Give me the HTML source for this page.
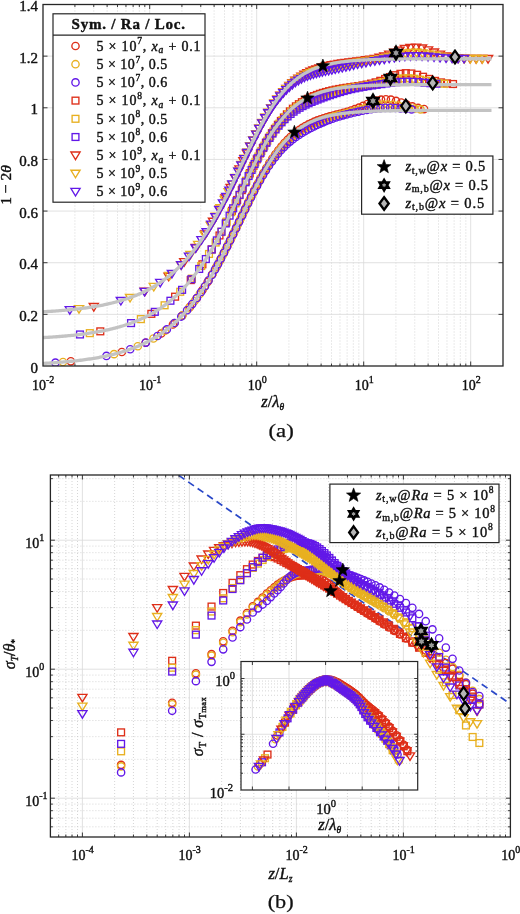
<!DOCTYPE html>
<html><head><meta charset="utf-8"><title>figure</title><style>html,body{margin:0;padding:0;background:#fff;}svg{display:block;}</style></head><body>
<svg width="520" height="914" viewBox="0 0 520 914" font-family="Liberation Serif, serif">
<style>text{fill:#111;stroke:#111;stroke-width:0.4px;}</style>
<defs><clipPath id="ca"><rect x="43" y="4.5" width="460" height="361.5"/></clipPath><clipPath id="cb"><rect x="50.4" y="475" width="460" height="362"/></clipPath><clipPath id="ci"><rect x="241" y="661.5" width="176.7" height="128.5"/></clipPath></defs>
<rect x="0" y="0" width="520" height="914" fill="#ffffff"/>
<line x1="74.91" y1="4.5" x2="74.91" y2="366" stroke="#c4c4c4" stroke-width="0.7" stroke-dasharray="1 2"/>
<line x1="93.75" y1="4.5" x2="93.75" y2="366" stroke="#c4c4c4" stroke-width="0.7" stroke-dasharray="1 2"/>
<line x1="107.12" y1="4.5" x2="107.12" y2="366" stroke="#c4c4c4" stroke-width="0.7" stroke-dasharray="1 2"/>
<line x1="117.49" y1="4.5" x2="117.49" y2="366" stroke="#c4c4c4" stroke-width="0.7" stroke-dasharray="1 2"/>
<line x1="125.96" y1="4.5" x2="125.96" y2="366" stroke="#c4c4c4" stroke-width="0.7" stroke-dasharray="1 2"/>
<line x1="133.13" y1="4.5" x2="133.13" y2="366" stroke="#c4c4c4" stroke-width="0.7" stroke-dasharray="1 2"/>
<line x1="139.33" y1="4.5" x2="139.33" y2="366" stroke="#c4c4c4" stroke-width="0.7" stroke-dasharray="1 2"/>
<line x1="144.8" y1="4.5" x2="144.8" y2="366" stroke="#c4c4c4" stroke-width="0.7" stroke-dasharray="1 2"/>
<line x1="149.7" y1="4.5" x2="149.7" y2="366" stroke="#d9d9d9" stroke-width="0.8" />
<line x1="181.91" y1="4.5" x2="181.91" y2="366" stroke="#c4c4c4" stroke-width="0.7" stroke-dasharray="1 2"/>
<line x1="200.75" y1="4.5" x2="200.75" y2="366" stroke="#c4c4c4" stroke-width="0.7" stroke-dasharray="1 2"/>
<line x1="214.12" y1="4.5" x2="214.12" y2="366" stroke="#c4c4c4" stroke-width="0.7" stroke-dasharray="1 2"/>
<line x1="224.49" y1="4.5" x2="224.49" y2="366" stroke="#c4c4c4" stroke-width="0.7" stroke-dasharray="1 2"/>
<line x1="232.96" y1="4.5" x2="232.96" y2="366" stroke="#c4c4c4" stroke-width="0.7" stroke-dasharray="1 2"/>
<line x1="240.13" y1="4.5" x2="240.13" y2="366" stroke="#c4c4c4" stroke-width="0.7" stroke-dasharray="1 2"/>
<line x1="246.33" y1="4.5" x2="246.33" y2="366" stroke="#c4c4c4" stroke-width="0.7" stroke-dasharray="1 2"/>
<line x1="251.8" y1="4.5" x2="251.8" y2="366" stroke="#c4c4c4" stroke-width="0.7" stroke-dasharray="1 2"/>
<line x1="256.7" y1="4.5" x2="256.7" y2="366" stroke="#d9d9d9" stroke-width="0.8" />
<line x1="288.91" y1="4.5" x2="288.91" y2="366" stroke="#c4c4c4" stroke-width="0.7" stroke-dasharray="1 2"/>
<line x1="307.75" y1="4.5" x2="307.75" y2="366" stroke="#c4c4c4" stroke-width="0.7" stroke-dasharray="1 2"/>
<line x1="321.12" y1="4.5" x2="321.12" y2="366" stroke="#c4c4c4" stroke-width="0.7" stroke-dasharray="1 2"/>
<line x1="331.49" y1="4.5" x2="331.49" y2="366" stroke="#c4c4c4" stroke-width="0.7" stroke-dasharray="1 2"/>
<line x1="339.96" y1="4.5" x2="339.96" y2="366" stroke="#c4c4c4" stroke-width="0.7" stroke-dasharray="1 2"/>
<line x1="347.13" y1="4.5" x2="347.13" y2="366" stroke="#c4c4c4" stroke-width="0.7" stroke-dasharray="1 2"/>
<line x1="353.33" y1="4.5" x2="353.33" y2="366" stroke="#c4c4c4" stroke-width="0.7" stroke-dasharray="1 2"/>
<line x1="358.8" y1="4.5" x2="358.8" y2="366" stroke="#c4c4c4" stroke-width="0.7" stroke-dasharray="1 2"/>
<line x1="363.7" y1="4.5" x2="363.7" y2="366" stroke="#d9d9d9" stroke-width="0.8" />
<line x1="395.91" y1="4.5" x2="395.91" y2="366" stroke="#c4c4c4" stroke-width="0.7" stroke-dasharray="1 2"/>
<line x1="414.75" y1="4.5" x2="414.75" y2="366" stroke="#c4c4c4" stroke-width="0.7" stroke-dasharray="1 2"/>
<line x1="428.12" y1="4.5" x2="428.12" y2="366" stroke="#c4c4c4" stroke-width="0.7" stroke-dasharray="1 2"/>
<line x1="438.49" y1="4.5" x2="438.49" y2="366" stroke="#c4c4c4" stroke-width="0.7" stroke-dasharray="1 2"/>
<line x1="446.96" y1="4.5" x2="446.96" y2="366" stroke="#c4c4c4" stroke-width="0.7" stroke-dasharray="1 2"/>
<line x1="454.13" y1="4.5" x2="454.13" y2="366" stroke="#c4c4c4" stroke-width="0.7" stroke-dasharray="1 2"/>
<line x1="460.33" y1="4.5" x2="460.33" y2="366" stroke="#c4c4c4" stroke-width="0.7" stroke-dasharray="1 2"/>
<line x1="465.8" y1="4.5" x2="465.8" y2="366" stroke="#c4c4c4" stroke-width="0.7" stroke-dasharray="1 2"/>
<line x1="470.7" y1="4.5" x2="470.7" y2="366" stroke="#d9d9d9" stroke-width="0.8" />
<line x1="43" y1="314.36" x2="503" y2="314.36" stroke="#d9d9d9" stroke-width="0.8" />
<line x1="43" y1="262.71" x2="503" y2="262.71" stroke="#d9d9d9" stroke-width="0.8" />
<line x1="43" y1="211.07" x2="503" y2="211.07" stroke="#d9d9d9" stroke-width="0.8" />
<line x1="43" y1="159.43" x2="503" y2="159.43" stroke="#d9d9d9" stroke-width="0.8" />
<line x1="43" y1="107.79" x2="503" y2="107.79" stroke="#d9d9d9" stroke-width="0.8" />
<line x1="43" y1="56.14" x2="503" y2="56.14" stroke="#d9d9d9" stroke-width="0.8" />
<g clip-path="url(#ca)"><circle cx="70.8" cy="361.32" r="3.65" fill="none" stroke="#DE2E18" stroke-width="1.35"/>
<circle cx="121.85" cy="351.98" r="3.65" fill="none" stroke="#DE2E18" stroke-width="1.35"/>
<circle cx="145.59" cy="342.7" r="3.65" fill="none" stroke="#DE2E18" stroke-width="1.35"/>
<circle cx="161.23" cy="333.51" r="3.65" fill="none" stroke="#DE2E18" stroke-width="1.35"/>
<circle cx="172.9" cy="324.44" r="3.65" fill="none" stroke="#DE2E18" stroke-width="1.35"/>
<circle cx="182.23" cy="315.53" r="3.65" fill="none" stroke="#DE2E18" stroke-width="1.35"/>
<circle cx="189.99" cy="306.82" r="3.65" fill="none" stroke="#DE2E18" stroke-width="1.35"/>
<circle cx="196.64" cy="298.31" r="3.65" fill="none" stroke="#DE2E18" stroke-width="1.35"/>
<circle cx="202.46" cy="290.04" r="3.65" fill="none" stroke="#DE2E18" stroke-width="1.35"/>
<circle cx="207.63" cy="282.02" r="3.65" fill="none" stroke="#DE2E18" stroke-width="1.35"/>
<circle cx="212.28" cy="274.27" r="3.65" fill="none" stroke="#DE2E18" stroke-width="1.35"/>
<circle cx="216.5" cy="266.8" r="3.65" fill="none" stroke="#DE2E18" stroke-width="1.35"/>
<circle cx="220.38" cy="259.62" r="3.65" fill="none" stroke="#DE2E18" stroke-width="1.35"/>
<circle cx="223.96" cy="252.74" r="3.65" fill="none" stroke="#DE2E18" stroke-width="1.35"/>
<circle cx="227.28" cy="246.15" r="3.65" fill="none" stroke="#DE2E18" stroke-width="1.35"/>
<circle cx="230.38" cy="239.85" r="3.65" fill="none" stroke="#DE2E18" stroke-width="1.35"/>
<circle cx="233.38" cy="233.65" r="3.65" fill="none" stroke="#DE2E18" stroke-width="1.35"/>
<circle cx="236.38" cy="227.37" r="3.65" fill="none" stroke="#DE2E18" stroke-width="1.35"/>
<circle cx="239.38" cy="221.05" r="3.65" fill="none" stroke="#DE2E18" stroke-width="1.35"/>
<circle cx="242.38" cy="214.72" r="3.65" fill="none" stroke="#DE2E18" stroke-width="1.35"/>
<circle cx="245.38" cy="208.42" r="3.65" fill="none" stroke="#DE2E18" stroke-width="1.35"/>
<circle cx="248.38" cy="202.17" r="3.65" fill="none" stroke="#DE2E18" stroke-width="1.35"/>
<circle cx="251.38" cy="196.03" r="3.65" fill="none" stroke="#DE2E18" stroke-width="1.35"/>
<circle cx="254.38" cy="190.03" r="3.65" fill="none" stroke="#DE2E18" stroke-width="1.35"/>
<circle cx="257.38" cy="184.19" r="3.65" fill="none" stroke="#DE2E18" stroke-width="1.35"/>
<circle cx="260.38" cy="178.56" r="3.65" fill="none" stroke="#DE2E18" stroke-width="1.35"/>
<circle cx="263.38" cy="173.15" r="3.65" fill="none" stroke="#DE2E18" stroke-width="1.35"/>
<circle cx="266.38" cy="168" r="3.65" fill="none" stroke="#DE2E18" stroke-width="1.35"/>
<circle cx="269.38" cy="163.13" r="3.65" fill="none" stroke="#DE2E18" stroke-width="1.35"/>
<circle cx="272.38" cy="158.53" r="3.65" fill="none" stroke="#DE2E18" stroke-width="1.35"/>
<circle cx="275.38" cy="154.23" r="3.65" fill="none" stroke="#DE2E18" stroke-width="1.35"/>
<circle cx="278.38" cy="150.22" r="3.65" fill="none" stroke="#DE2E18" stroke-width="1.35"/>
<circle cx="281.38" cy="146.51" r="3.65" fill="none" stroke="#DE2E18" stroke-width="1.35"/>
<circle cx="284.38" cy="143.09" r="3.65" fill="none" stroke="#DE2E18" stroke-width="1.35"/>
<circle cx="287.38" cy="139.94" r="3.65" fill="none" stroke="#DE2E18" stroke-width="1.35"/>
<circle cx="290.38" cy="137.06" r="3.65" fill="none" stroke="#DE2E18" stroke-width="1.35"/>
<circle cx="293.38" cy="134.43" r="3.65" fill="none" stroke="#DE2E18" stroke-width="1.35"/>
<circle cx="296.38" cy="132.03" r="3.65" fill="none" stroke="#DE2E18" stroke-width="1.35"/>
<circle cx="299.38" cy="129.85" r="3.65" fill="none" stroke="#DE2E18" stroke-width="1.35"/>
<circle cx="302.38" cy="127.87" r="3.65" fill="none" stroke="#DE2E18" stroke-width="1.35"/>
<circle cx="305.38" cy="126.07" r="3.65" fill="none" stroke="#DE2E18" stroke-width="1.35"/>
<circle cx="308.38" cy="124.44" r="3.65" fill="none" stroke="#DE2E18" stroke-width="1.35"/>
<circle cx="311.38" cy="122.96" r="3.65" fill="none" stroke="#DE2E18" stroke-width="1.35"/>
<circle cx="314.38" cy="121.62" r="3.65" fill="none" stroke="#DE2E18" stroke-width="1.35"/>
<circle cx="317.38" cy="120.4" r="3.65" fill="none" stroke="#DE2E18" stroke-width="1.35"/>
<circle cx="320.38" cy="119.29" r="3.65" fill="none" stroke="#DE2E18" stroke-width="1.35"/>
<circle cx="323.39" cy="118.27" r="3.65" fill="none" stroke="#DE2E18" stroke-width="1.35"/>
<circle cx="326.49" cy="117.31" r="3.65" fill="none" stroke="#DE2E18" stroke-width="1.35"/>
<circle cx="329.68" cy="116.39" r="3.65" fill="none" stroke="#DE2E18" stroke-width="1.35"/>
<circle cx="332.97" cy="115.51" r="3.65" fill="none" stroke="#DE2E18" stroke-width="1.35"/>
<circle cx="336.36" cy="114.63" r="3.65" fill="none" stroke="#DE2E18" stroke-width="1.35"/>
<circle cx="339.85" cy="113.74" r="3.65" fill="none" stroke="#DE2E18" stroke-width="1.35"/>
<circle cx="343.45" cy="112.79" r="3.65" fill="none" stroke="#DE2E18" stroke-width="1.35"/>
<circle cx="347.15" cy="111.74" r="3.65" fill="none" stroke="#DE2E18" stroke-width="1.35"/>
<circle cx="350.97" cy="110.55" r="3.65" fill="none" stroke="#DE2E18" stroke-width="1.35"/>
<circle cx="354.9" cy="109.18" r="3.65" fill="none" stroke="#DE2E18" stroke-width="1.35"/>
<circle cx="358.94" cy="107.62" r="3.65" fill="none" stroke="#DE2E18" stroke-width="1.35"/>
<circle cx="363.11" cy="105.87" r="3.65" fill="none" stroke="#DE2E18" stroke-width="1.35"/>
<circle cx="367.41" cy="104.03" r="3.65" fill="none" stroke="#DE2E18" stroke-width="1.35"/>
<circle cx="371.83" cy="102.23" r="3.65" fill="none" stroke="#DE2E18" stroke-width="1.35"/>
<circle cx="376.38" cy="100.69" r="3.65" fill="none" stroke="#DE2E18" stroke-width="1.35"/>
<circle cx="381.07" cy="99.63" r="3.65" fill="none" stroke="#DE2E18" stroke-width="1.35"/>
<circle cx="385.91" cy="99.26" r="3.65" fill="none" stroke="#DE2E18" stroke-width="1.35"/>
<circle cx="390.88" cy="99.68" r="3.65" fill="none" stroke="#DE2E18" stroke-width="1.35"/>
<circle cx="396.01" cy="100.85" r="3.65" fill="none" stroke="#DE2E18" stroke-width="1.35"/>
<circle cx="401.29" cy="102.57" r="3.65" fill="none" stroke="#DE2E18" stroke-width="1.35"/>
<circle cx="406.73" cy="104.53" r="3.65" fill="none" stroke="#DE2E18" stroke-width="1.35"/>
<circle cx="412.33" cy="106.4" r="3.65" fill="none" stroke="#DE2E18" stroke-width="1.35"/>
<circle cx="418.1" cy="107.95" r="3.65" fill="none" stroke="#DE2E18" stroke-width="1.35"/>
<circle cx="424.04" cy="109.07" r="3.65" fill="none" stroke="#DE2E18" stroke-width="1.35"/>
<circle cx="63" cy="362.04" r="3.65" fill="none" stroke="#E8B020" stroke-width="1.35"/>
<circle cx="114.05" cy="354.14" r="3.65" fill="none" stroke="#E8B020" stroke-width="1.35"/>
<circle cx="137.79" cy="346.28" r="3.65" fill="none" stroke="#E8B020" stroke-width="1.35"/>
<circle cx="153.43" cy="338.46" r="3.65" fill="none" stroke="#E8B020" stroke-width="1.35"/>
<circle cx="165.1" cy="330.73" r="3.65" fill="none" stroke="#E8B020" stroke-width="1.35"/>
<circle cx="174.43" cy="323.09" r="3.65" fill="none" stroke="#E8B020" stroke-width="1.35"/>
<circle cx="182.19" cy="315.57" r="3.65" fill="none" stroke="#E8B020" stroke-width="1.35"/>
<circle cx="188.84" cy="308.19" r="3.65" fill="none" stroke="#E8B020" stroke-width="1.35"/>
<circle cx="194.66" cy="300.95" r="3.65" fill="none" stroke="#E8B020" stroke-width="1.35"/>
<circle cx="199.83" cy="293.88" r="3.65" fill="none" stroke="#E8B020" stroke-width="1.35"/>
<circle cx="204.48" cy="286.98" r="3.65" fill="none" stroke="#E8B020" stroke-width="1.35"/>
<circle cx="208.7" cy="280.27" r="3.65" fill="none" stroke="#E8B020" stroke-width="1.35"/>
<circle cx="212.58" cy="273.76" r="3.65" fill="none" stroke="#E8B020" stroke-width="1.35"/>
<circle cx="216.16" cy="267.44" r="3.65" fill="none" stroke="#E8B020" stroke-width="1.35"/>
<circle cx="219.48" cy="261.34" r="3.65" fill="none" stroke="#E8B020" stroke-width="1.35"/>
<circle cx="222.58" cy="255.44" r="3.65" fill="none" stroke="#E8B020" stroke-width="1.35"/>
<circle cx="225.58" cy="249.57" r="3.65" fill="none" stroke="#E8B020" stroke-width="1.35"/>
<circle cx="228.58" cy="243.56" r="3.65" fill="none" stroke="#E8B020" stroke-width="1.35"/>
<circle cx="231.58" cy="237.43" r="3.65" fill="none" stroke="#E8B020" stroke-width="1.35"/>
<circle cx="234.58" cy="231.21" r="3.65" fill="none" stroke="#E8B020" stroke-width="1.35"/>
<circle cx="237.58" cy="224.93" r="3.65" fill="none" stroke="#E8B020" stroke-width="1.35"/>
<circle cx="240.58" cy="218.63" r="3.65" fill="none" stroke="#E8B020" stroke-width="1.35"/>
<circle cx="243.58" cy="212.34" r="3.65" fill="none" stroke="#E8B020" stroke-width="1.35"/>
<circle cx="246.58" cy="206.09" r="3.65" fill="none" stroke="#E8B020" stroke-width="1.35"/>
<circle cx="249.58" cy="199.94" r="3.65" fill="none" stroke="#E8B020" stroke-width="1.35"/>
<circle cx="252.58" cy="193.9" r="3.65" fill="none" stroke="#E8B020" stroke-width="1.35"/>
<circle cx="255.58" cy="188.03" r="3.65" fill="none" stroke="#E8B020" stroke-width="1.35"/>
<circle cx="258.58" cy="182.36" r="3.65" fill="none" stroke="#E8B020" stroke-width="1.35"/>
<circle cx="261.58" cy="176.91" r="3.65" fill="none" stroke="#E8B020" stroke-width="1.35"/>
<circle cx="264.58" cy="171.71" r="3.65" fill="none" stroke="#E8B020" stroke-width="1.35"/>
<circle cx="267.58" cy="166.79" r="3.65" fill="none" stroke="#E8B020" stroke-width="1.35"/>
<circle cx="270.58" cy="162.15" r="3.65" fill="none" stroke="#E8B020" stroke-width="1.35"/>
<circle cx="273.58" cy="157.8" r="3.65" fill="none" stroke="#E8B020" stroke-width="1.35"/>
<circle cx="276.58" cy="153.76" r="3.65" fill="none" stroke="#E8B020" stroke-width="1.35"/>
<circle cx="279.58" cy="150.01" r="3.65" fill="none" stroke="#E8B020" stroke-width="1.35"/>
<circle cx="282.58" cy="146.56" r="3.65" fill="none" stroke="#E8B020" stroke-width="1.35"/>
<circle cx="285.58" cy="143.38" r="3.65" fill="none" stroke="#E8B020" stroke-width="1.35"/>
<circle cx="288.58" cy="140.47" r="3.65" fill="none" stroke="#E8B020" stroke-width="1.35"/>
<circle cx="291.58" cy="137.8" r="3.65" fill="none" stroke="#E8B020" stroke-width="1.35"/>
<circle cx="294.58" cy="135.35" r="3.65" fill="none" stroke="#E8B020" stroke-width="1.35"/>
<circle cx="297.58" cy="133.12" r="3.65" fill="none" stroke="#E8B020" stroke-width="1.35"/>
<circle cx="300.58" cy="131.07" r="3.65" fill="none" stroke="#E8B020" stroke-width="1.35"/>
<circle cx="303.58" cy="129.19" r="3.65" fill="none" stroke="#E8B020" stroke-width="1.35"/>
<circle cx="306.58" cy="127.46" r="3.65" fill="none" stroke="#E8B020" stroke-width="1.35"/>
<circle cx="309.58" cy="125.87" r="3.65" fill="none" stroke="#E8B020" stroke-width="1.35"/>
<circle cx="312.58" cy="124.39" r="3.65" fill="none" stroke="#E8B020" stroke-width="1.35"/>
<circle cx="315.58" cy="123.03" r="3.65" fill="none" stroke="#E8B020" stroke-width="1.35"/>
<circle cx="318.58" cy="121.76" r="3.65" fill="none" stroke="#E8B020" stroke-width="1.35"/>
<circle cx="321.58" cy="120.59" r="3.65" fill="none" stroke="#E8B020" stroke-width="1.35"/>
<circle cx="324.62" cy="119.47" r="3.65" fill="none" stroke="#E8B020" stroke-width="1.35"/>
<circle cx="327.76" cy="118.41" r="3.65" fill="none" stroke="#E8B020" stroke-width="1.35"/>
<circle cx="330.99" cy="117.39" r="3.65" fill="none" stroke="#E8B020" stroke-width="1.35"/>
<circle cx="334.32" cy="116.41" r="3.65" fill="none" stroke="#E8B020" stroke-width="1.35"/>
<circle cx="337.75" cy="115.45" r="3.65" fill="none" stroke="#E8B020" stroke-width="1.35"/>
<circle cx="341.29" cy="114.52" r="3.65" fill="none" stroke="#E8B020" stroke-width="1.35"/>
<circle cx="344.93" cy="113.58" r="3.65" fill="none" stroke="#E8B020" stroke-width="1.35"/>
<circle cx="348.67" cy="112.62" r="3.65" fill="none" stroke="#E8B020" stroke-width="1.35"/>
<circle cx="352.53" cy="111.61" r="3.65" fill="none" stroke="#E8B020" stroke-width="1.35"/>
<circle cx="356.51" cy="110.53" r="3.65" fill="none" stroke="#E8B020" stroke-width="1.35"/>
<circle cx="360.6" cy="109.39" r="3.65" fill="none" stroke="#E8B020" stroke-width="1.35"/>
<circle cx="364.82" cy="108.2" r="3.65" fill="none" stroke="#E8B020" stroke-width="1.35"/>
<circle cx="369.17" cy="107.02" r="3.65" fill="none" stroke="#E8B020" stroke-width="1.35"/>
<circle cx="373.64" cy="105.94" r="3.65" fill="none" stroke="#E8B020" stroke-width="1.35"/>
<circle cx="378.25" cy="105.07" r="3.65" fill="none" stroke="#E8B020" stroke-width="1.35"/>
<circle cx="383" cy="104.55" r="3.65" fill="none" stroke="#E8B020" stroke-width="1.35"/>
<circle cx="387.89" cy="104.46" r="3.65" fill="none" stroke="#E8B020" stroke-width="1.35"/>
<circle cx="392.93" cy="104.82" r="3.65" fill="none" stroke="#E8B020" stroke-width="1.35"/>
<circle cx="398.11" cy="105.57" r="3.65" fill="none" stroke="#E8B020" stroke-width="1.35"/>
<circle cx="403.46" cy="106.57" r="3.65" fill="none" stroke="#E8B020" stroke-width="1.35"/>
<circle cx="408.96" cy="107.64" r="3.65" fill="none" stroke="#E8B020" stroke-width="1.35"/>
<circle cx="414.63" cy="108.6" r="3.65" fill="none" stroke="#E8B020" stroke-width="1.35"/>
<circle cx="420.47" cy="109.36" r="3.65" fill="none" stroke="#E8B020" stroke-width="1.35"/>
<circle cx="55.4" cy="362.64" r="3.65" fill="none" stroke="#6218E8" stroke-width="1.35"/>
<circle cx="106.45" cy="355.93" r="3.65" fill="none" stroke="#6218E8" stroke-width="1.35"/>
<circle cx="130.19" cy="349.24" r="3.65" fill="none" stroke="#6218E8" stroke-width="1.35"/>
<circle cx="145.83" cy="342.58" r="3.65" fill="none" stroke="#6218E8" stroke-width="1.35"/>
<circle cx="157.5" cy="335.97" r="3.65" fill="none" stroke="#6218E8" stroke-width="1.35"/>
<circle cx="166.83" cy="329.42" r="3.65" fill="none" stroke="#6218E8" stroke-width="1.35"/>
<circle cx="174.59" cy="322.95" r="3.65" fill="none" stroke="#6218E8" stroke-width="1.35"/>
<circle cx="181.24" cy="316.56" r="3.65" fill="none" stroke="#6218E8" stroke-width="1.35"/>
<circle cx="187.06" cy="310.26" r="3.65" fill="none" stroke="#6218E8" stroke-width="1.35"/>
<circle cx="192.23" cy="304.07" r="3.65" fill="none" stroke="#6218E8" stroke-width="1.35"/>
<circle cx="196.88" cy="297.99" r="3.65" fill="none" stroke="#6218E8" stroke-width="1.35"/>
<circle cx="201.1" cy="292.03" r="3.65" fill="none" stroke="#6218E8" stroke-width="1.35"/>
<circle cx="204.98" cy="286.21" r="3.65" fill="none" stroke="#6218E8" stroke-width="1.35"/>
<circle cx="208.56" cy="280.52" r="3.65" fill="none" stroke="#6218E8" stroke-width="1.35"/>
<circle cx="211.88" cy="274.97" r="3.65" fill="none" stroke="#6218E8" stroke-width="1.35"/>
<circle cx="214.98" cy="269.57" r="3.65" fill="none" stroke="#6218E8" stroke-width="1.35"/>
<circle cx="217.98" cy="264.14" r="3.65" fill="none" stroke="#6218E8" stroke-width="1.35"/>
<circle cx="220.98" cy="258.53" r="3.65" fill="none" stroke="#6218E8" stroke-width="1.35"/>
<circle cx="223.98" cy="252.75" r="3.65" fill="none" stroke="#6218E8" stroke-width="1.35"/>
<circle cx="226.98" cy="246.82" r="3.65" fill="none" stroke="#6218E8" stroke-width="1.35"/>
<circle cx="229.98" cy="240.76" r="3.65" fill="none" stroke="#6218E8" stroke-width="1.35"/>
<circle cx="232.98" cy="234.61" r="3.65" fill="none" stroke="#6218E8" stroke-width="1.35"/>
<circle cx="235.98" cy="228.38" r="3.65" fill="none" stroke="#6218E8" stroke-width="1.35"/>
<circle cx="238.98" cy="222.12" r="3.65" fill="none" stroke="#6218E8" stroke-width="1.35"/>
<circle cx="241.98" cy="215.86" r="3.65" fill="none" stroke="#6218E8" stroke-width="1.35"/>
<circle cx="244.98" cy="209.63" r="3.65" fill="none" stroke="#6218E8" stroke-width="1.35"/>
<circle cx="247.98" cy="203.49" r="3.65" fill="none" stroke="#6218E8" stroke-width="1.35"/>
<circle cx="250.98" cy="197.46" r="3.65" fill="none" stroke="#6218E8" stroke-width="1.35"/>
<circle cx="253.98" cy="191.59" r="3.65" fill="none" stroke="#6218E8" stroke-width="1.35"/>
<circle cx="256.98" cy="185.91" r="3.65" fill="none" stroke="#6218E8" stroke-width="1.35"/>
<circle cx="259.98" cy="180.46" r="3.65" fill="none" stroke="#6218E8" stroke-width="1.35"/>
<circle cx="262.98" cy="175.27" r="3.65" fill="none" stroke="#6218E8" stroke-width="1.35"/>
<circle cx="265.98" cy="170.35" r="3.65" fill="none" stroke="#6218E8" stroke-width="1.35"/>
<circle cx="268.98" cy="165.72" r="3.65" fill="none" stroke="#6218E8" stroke-width="1.35"/>
<circle cx="271.98" cy="161.4" r="3.65" fill="none" stroke="#6218E8" stroke-width="1.35"/>
<circle cx="274.98" cy="157.38" r="3.65" fill="none" stroke="#6218E8" stroke-width="1.35"/>
<circle cx="277.98" cy="153.67" r="3.65" fill="none" stroke="#6218E8" stroke-width="1.35"/>
<circle cx="280.98" cy="150.26" r="3.65" fill="none" stroke="#6218E8" stroke-width="1.35"/>
<circle cx="283.98" cy="147.12" r="3.65" fill="none" stroke="#6218E8" stroke-width="1.35"/>
<circle cx="286.98" cy="144.25" r="3.65" fill="none" stroke="#6218E8" stroke-width="1.35"/>
<circle cx="289.98" cy="141.62" r="3.65" fill="none" stroke="#6218E8" stroke-width="1.35"/>
<circle cx="292.98" cy="139.2" r="3.65" fill="none" stroke="#6218E8" stroke-width="1.35"/>
<circle cx="295.98" cy="136.97" r="3.65" fill="none" stroke="#6218E8" stroke-width="1.35"/>
<circle cx="298.98" cy="134.91" r="3.65" fill="none" stroke="#6218E8" stroke-width="1.35"/>
<circle cx="301.98" cy="133" r="3.65" fill="none" stroke="#6218E8" stroke-width="1.35"/>
<circle cx="304.98" cy="131.21" r="3.65" fill="none" stroke="#6218E8" stroke-width="1.35"/>
<circle cx="307.98" cy="129.52" r="3.65" fill="none" stroke="#6218E8" stroke-width="1.35"/>
<circle cx="310.98" cy="127.93" r="3.65" fill="none" stroke="#6218E8" stroke-width="1.35"/>
<circle cx="313.98" cy="126.42" r="3.65" fill="none" stroke="#6218E8" stroke-width="1.35"/>
<circle cx="316.98" cy="124.99" r="3.65" fill="none" stroke="#6218E8" stroke-width="1.35"/>
<circle cx="319.98" cy="123.62" r="3.65" fill="none" stroke="#6218E8" stroke-width="1.35"/>
<circle cx="322.98" cy="122.33" r="3.65" fill="none" stroke="#6218E8" stroke-width="1.35"/>
<circle cx="326.06" cy="121.06" r="3.65" fill="none" stroke="#6218E8" stroke-width="1.35"/>
<circle cx="329.25" cy="119.83" r="3.65" fill="none" stroke="#6218E8" stroke-width="1.35"/>
<circle cx="332.52" cy="118.65" r="3.65" fill="none" stroke="#6218E8" stroke-width="1.35"/>
<circle cx="335.9" cy="117.51" r="3.65" fill="none" stroke="#6218E8" stroke-width="1.35"/>
<circle cx="339.38" cy="116.41" r="3.65" fill="none" stroke="#6218E8" stroke-width="1.35"/>
<circle cx="342.96" cy="115.37" r="3.65" fill="none" stroke="#6218E8" stroke-width="1.35"/>
<circle cx="346.65" cy="114.38" r="3.65" fill="none" stroke="#6218E8" stroke-width="1.35"/>
<circle cx="350.45" cy="113.43" r="3.65" fill="none" stroke="#6218E8" stroke-width="1.35"/>
<circle cx="354.36" cy="112.51" r="3.65" fill="none" stroke="#6218E8" stroke-width="1.35"/>
<circle cx="358.39" cy="111.62" r="3.65" fill="none" stroke="#6218E8" stroke-width="1.35"/>
<circle cx="362.54" cy="110.76" r="3.65" fill="none" stroke="#6218E8" stroke-width="1.35"/>
<circle cx="366.82" cy="109.94" r="3.65" fill="none" stroke="#6218E8" stroke-width="1.35"/>
<circle cx="371.22" cy="109.19" r="3.65" fill="none" stroke="#6218E8" stroke-width="1.35"/>
<circle cx="375.76" cy="108.55" r="3.65" fill="none" stroke="#6218E8" stroke-width="1.35"/>
<circle cx="380.43" cy="108.09" r="3.65" fill="none" stroke="#6218E8" stroke-width="1.35"/>
<circle cx="385.25" cy="107.84" r="3.65" fill="none" stroke="#6218E8" stroke-width="1.35"/>
<circle cx="390.2" cy="107.82" r="3.65" fill="none" stroke="#6218E8" stroke-width="1.35"/>
<circle cx="395.31" cy="108.03" r="3.65" fill="none" stroke="#6218E8" stroke-width="1.35"/>
<circle cx="400.57" cy="108.42" r="3.65" fill="none" stroke="#6218E8" stroke-width="1.35"/>
<circle cx="405.99" cy="108.89" r="3.65" fill="none" stroke="#6218E8" stroke-width="1.35"/>
<circle cx="411.57" cy="109.37" r="3.65" fill="none" stroke="#6218E8" stroke-width="1.35"/>
<rect x="96.9" y="327.95" width="6.8" height="6.8" fill="none" stroke="#DE2E18" stroke-width="1.35"/>
<rect x="147.95" y="310.43" width="6.8" height="6.8" fill="none" stroke="#DE2E18" stroke-width="1.35"/>
<rect x="171.69" y="293.28" width="6.8" height="6.8" fill="none" stroke="#DE2E18" stroke-width="1.35"/>
<rect x="187.33" y="276.7" width="6.8" height="6.8" fill="none" stroke="#DE2E18" stroke-width="1.35"/>
<rect x="199" y="260.9" width="6.8" height="6.8" fill="none" stroke="#DE2E18" stroke-width="1.35"/>
<rect x="208.33" y="245.99" width="6.8" height="6.8" fill="none" stroke="#DE2E18" stroke-width="1.35"/>
<rect x="216.09" y="232.07" width="6.8" height="6.8" fill="none" stroke="#DE2E18" stroke-width="1.35"/>
<rect x="222.74" y="219.19" width="6.8" height="6.8" fill="none" stroke="#DE2E18" stroke-width="1.35"/>
<rect x="228.56" y="207.35" width="6.8" height="6.8" fill="none" stroke="#DE2E18" stroke-width="1.35"/>
<rect x="233.73" y="196.54" width="6.8" height="6.8" fill="none" stroke="#DE2E18" stroke-width="1.35"/>
<rect x="238.38" y="186.71" width="6.8" height="6.8" fill="none" stroke="#DE2E18" stroke-width="1.35"/>
<rect x="242.6" y="177.81" width="6.8" height="6.8" fill="none" stroke="#DE2E18" stroke-width="1.35"/>
<rect x="246.48" y="169.77" width="6.8" height="6.8" fill="none" stroke="#DE2E18" stroke-width="1.35"/>
<rect x="250.06" y="162.51" width="6.8" height="6.8" fill="none" stroke="#DE2E18" stroke-width="1.35"/>
<rect x="253.38" y="155.98" width="6.8" height="6.8" fill="none" stroke="#DE2E18" stroke-width="1.35"/>
<rect x="256.48" y="150.1" width="6.8" height="6.8" fill="none" stroke="#DE2E18" stroke-width="1.35"/>
<rect x="259.48" y="144.63" width="6.8" height="6.8" fill="none" stroke="#DE2E18" stroke-width="1.35"/>
<rect x="262.48" y="139.41" width="6.8" height="6.8" fill="none" stroke="#DE2E18" stroke-width="1.35"/>
<rect x="265.48" y="134.46" width="6.8" height="6.8" fill="none" stroke="#DE2E18" stroke-width="1.35"/>
<rect x="268.48" y="129.79" width="6.8" height="6.8" fill="none" stroke="#DE2E18" stroke-width="1.35"/>
<rect x="271.48" y="125.42" width="6.8" height="6.8" fill="none" stroke="#DE2E18" stroke-width="1.35"/>
<rect x="274.48" y="121.35" width="6.8" height="6.8" fill="none" stroke="#DE2E18" stroke-width="1.35"/>
<rect x="277.48" y="117.58" width="6.8" height="6.8" fill="none" stroke="#DE2E18" stroke-width="1.35"/>
<rect x="280.48" y="114.1" width="6.8" height="6.8" fill="none" stroke="#DE2E18" stroke-width="1.35"/>
<rect x="283.48" y="110.92" width="6.8" height="6.8" fill="none" stroke="#DE2E18" stroke-width="1.35"/>
<rect x="286.48" y="108" width="6.8" height="6.8" fill="none" stroke="#DE2E18" stroke-width="1.35"/>
<rect x="289.48" y="105.35" width="6.8" height="6.8" fill="none" stroke="#DE2E18" stroke-width="1.35"/>
<rect x="292.48" y="102.95" width="6.8" height="6.8" fill="none" stroke="#DE2E18" stroke-width="1.35"/>
<rect x="295.48" y="100.78" width="6.8" height="6.8" fill="none" stroke="#DE2E18" stroke-width="1.35"/>
<rect x="298.48" y="98.81" width="6.8" height="6.8" fill="none" stroke="#DE2E18" stroke-width="1.35"/>
<rect x="301.48" y="97.04" width="6.8" height="6.8" fill="none" stroke="#DE2E18" stroke-width="1.35"/>
<rect x="304.48" y="95.44" width="6.8" height="6.8" fill="none" stroke="#DE2E18" stroke-width="1.35"/>
<rect x="307.48" y="94" width="6.8" height="6.8" fill="none" stroke="#DE2E18" stroke-width="1.35"/>
<rect x="310.48" y="92.69" width="6.8" height="6.8" fill="none" stroke="#DE2E18" stroke-width="1.35"/>
<rect x="313.48" y="91.52" width="6.8" height="6.8" fill="none" stroke="#DE2E18" stroke-width="1.35"/>
<rect x="316.48" y="90.45" width="6.8" height="6.8" fill="none" stroke="#DE2E18" stroke-width="1.35"/>
<rect x="319.48" y="89.49" width="6.8" height="6.8" fill="none" stroke="#DE2E18" stroke-width="1.35"/>
<rect x="322.56" y="88.59" width="6.8" height="6.8" fill="none" stroke="#DE2E18" stroke-width="1.35"/>
<rect x="325.74" y="87.75" width="6.8" height="6.8" fill="none" stroke="#DE2E18" stroke-width="1.35"/>
<rect x="329.02" y="86.97" width="6.8" height="6.8" fill="none" stroke="#DE2E18" stroke-width="1.35"/>
<rect x="332.39" y="86.25" width="6.8" height="6.8" fill="none" stroke="#DE2E18" stroke-width="1.35"/>
<rect x="335.86" y="85.57" width="6.8" height="6.8" fill="none" stroke="#DE2E18" stroke-width="1.35"/>
<rect x="339.44" y="84.95" width="6.8" height="6.8" fill="none" stroke="#DE2E18" stroke-width="1.35"/>
<rect x="343.12" y="84.36" width="6.8" height="6.8" fill="none" stroke="#DE2E18" stroke-width="1.35"/>
<rect x="346.92" y="83.79" width="6.8" height="6.8" fill="none" stroke="#DE2E18" stroke-width="1.35"/>
<rect x="350.83" y="83.24" width="6.8" height="6.8" fill="none" stroke="#DE2E18" stroke-width="1.35"/>
<rect x="354.86" y="82.65" width="6.8" height="6.8" fill="none" stroke="#DE2E18" stroke-width="1.35"/>
<rect x="359" y="81.99" width="6.8" height="6.8" fill="none" stroke="#DE2E18" stroke-width="1.35"/>
<rect x="363.28" y="81.2" width="6.8" height="6.8" fill="none" stroke="#DE2E18" stroke-width="1.35"/>
<rect x="367.68" y="80.2" width="6.8" height="6.8" fill="none" stroke="#DE2E18" stroke-width="1.35"/>
<rect x="372.21" y="78.95" width="6.8" height="6.8" fill="none" stroke="#DE2E18" stroke-width="1.35"/>
<rect x="376.88" y="77.39" width="6.8" height="6.8" fill="none" stroke="#DE2E18" stroke-width="1.35"/>
<rect x="381.69" y="75.57" width="6.8" height="6.8" fill="none" stroke="#DE2E18" stroke-width="1.35"/>
<rect x="386.64" y="73.63" width="6.8" height="6.8" fill="none" stroke="#DE2E18" stroke-width="1.35"/>
<rect x="391.74" y="71.79" width="6.8" height="6.8" fill="none" stroke="#DE2E18" stroke-width="1.35"/>
<rect x="396.99" y="70.39" width="6.8" height="6.8" fill="none" stroke="#DE2E18" stroke-width="1.35"/>
<rect x="402.4" y="69.75" width="6.8" height="6.8" fill="none" stroke="#DE2E18" stroke-width="1.35"/>
<rect x="407.98" y="70.07" width="6.8" height="6.8" fill="none" stroke="#DE2E18" stroke-width="1.35"/>
<rect x="413.72" y="71.35" width="6.8" height="6.8" fill="none" stroke="#DE2E18" stroke-width="1.35"/>
<rect x="419.63" y="73.32" width="6.8" height="6.8" fill="none" stroke="#DE2E18" stroke-width="1.35"/>
<rect x="425.63" y="75.51" width="6.8" height="6.8" fill="none" stroke="#DE2E18" stroke-width="1.35"/>
<rect x="431.63" y="77.48" width="6.8" height="6.8" fill="none" stroke="#DE2E18" stroke-width="1.35"/>
<rect x="437.63" y="79" width="6.8" height="6.8" fill="none" stroke="#DE2E18" stroke-width="1.35"/>
<rect x="443.63" y="80.01" width="6.8" height="6.8" fill="none" stroke="#DE2E18" stroke-width="1.35"/>
<rect x="449.63" y="80.61" width="6.8" height="6.8" fill="none" stroke="#DE2E18" stroke-width="1.35"/>
<rect x="86.4" y="329.74" width="6.8" height="6.8" fill="none" stroke="#E8B020" stroke-width="1.35"/>
<rect x="137.45" y="315.72" width="6.8" height="6.8" fill="none" stroke="#E8B020" stroke-width="1.35"/>
<rect x="161.19" y="301.89" width="6.8" height="6.8" fill="none" stroke="#E8B020" stroke-width="1.35"/>
<rect x="176.83" y="288.36" width="6.8" height="6.8" fill="none" stroke="#E8B020" stroke-width="1.35"/>
<rect x="188.5" y="275.25" width="6.8" height="6.8" fill="none" stroke="#E8B020" stroke-width="1.35"/>
<rect x="197.83" y="262.63" width="6.8" height="6.8" fill="none" stroke="#E8B020" stroke-width="1.35"/>
<rect x="205.59" y="250.57" width="6.8" height="6.8" fill="none" stroke="#E8B020" stroke-width="1.35"/>
<rect x="212.24" y="239.14" width="6.8" height="6.8" fill="none" stroke="#E8B020" stroke-width="1.35"/>
<rect x="218.06" y="228.35" width="6.8" height="6.8" fill="none" stroke="#E8B020" stroke-width="1.35"/>
<rect x="223.23" y="218.23" width="6.8" height="6.8" fill="none" stroke="#E8B020" stroke-width="1.35"/>
<rect x="227.88" y="208.77" width="6.8" height="6.8" fill="none" stroke="#E8B020" stroke-width="1.35"/>
<rect x="232.1" y="199.97" width="6.8" height="6.8" fill="none" stroke="#E8B020" stroke-width="1.35"/>
<rect x="235.98" y="191.82" width="6.8" height="6.8" fill="none" stroke="#E8B020" stroke-width="1.35"/>
<rect x="239.56" y="184.27" width="6.8" height="6.8" fill="none" stroke="#E8B020" stroke-width="1.35"/>
<rect x="242.88" y="177.31" width="6.8" height="6.8" fill="none" stroke="#E8B020" stroke-width="1.35"/>
<rect x="245.98" y="170.9" width="6.8" height="6.8" fill="none" stroke="#E8B020" stroke-width="1.35"/>
<rect x="248.98" y="164.8" width="6.8" height="6.8" fill="none" stroke="#E8B020" stroke-width="1.35"/>
<rect x="251.98" y="158.87" width="6.8" height="6.8" fill="none" stroke="#E8B020" stroke-width="1.35"/>
<rect x="254.98" y="153.12" width="6.8" height="6.8" fill="none" stroke="#E8B020" stroke-width="1.35"/>
<rect x="257.98" y="147.59" width="6.8" height="6.8" fill="none" stroke="#E8B020" stroke-width="1.35"/>
<rect x="260.98" y="142.3" width="6.8" height="6.8" fill="none" stroke="#E8B020" stroke-width="1.35"/>
<rect x="263.98" y="137.29" width="6.8" height="6.8" fill="none" stroke="#E8B020" stroke-width="1.35"/>
<rect x="266.98" y="132.57" width="6.8" height="6.8" fill="none" stroke="#E8B020" stroke-width="1.35"/>
<rect x="269.98" y="128.15" width="6.8" height="6.8" fill="none" stroke="#E8B020" stroke-width="1.35"/>
<rect x="272.98" y="124.04" width="6.8" height="6.8" fill="none" stroke="#E8B020" stroke-width="1.35"/>
<rect x="275.98" y="120.24" width="6.8" height="6.8" fill="none" stroke="#E8B020" stroke-width="1.35"/>
<rect x="278.98" y="116.75" width="6.8" height="6.8" fill="none" stroke="#E8B020" stroke-width="1.35"/>
<rect x="281.98" y="113.55" width="6.8" height="6.8" fill="none" stroke="#E8B020" stroke-width="1.35"/>
<rect x="284.98" y="110.65" width="6.8" height="6.8" fill="none" stroke="#E8B020" stroke-width="1.35"/>
<rect x="287.98" y="108.01" width="6.8" height="6.8" fill="none" stroke="#E8B020" stroke-width="1.35"/>
<rect x="290.98" y="105.62" width="6.8" height="6.8" fill="none" stroke="#E8B020" stroke-width="1.35"/>
<rect x="293.98" y="103.47" width="6.8" height="6.8" fill="none" stroke="#E8B020" stroke-width="1.35"/>
<rect x="296.98" y="101.52" width="6.8" height="6.8" fill="none" stroke="#E8B020" stroke-width="1.35"/>
<rect x="299.98" y="99.76" width="6.8" height="6.8" fill="none" stroke="#E8B020" stroke-width="1.35"/>
<rect x="302.98" y="98.16" width="6.8" height="6.8" fill="none" stroke="#E8B020" stroke-width="1.35"/>
<rect x="305.98" y="96.71" width="6.8" height="6.8" fill="none" stroke="#E8B020" stroke-width="1.35"/>
<rect x="308.98" y="95.38" width="6.8" height="6.8" fill="none" stroke="#E8B020" stroke-width="1.35"/>
<rect x="311.98" y="94.16" width="6.8" height="6.8" fill="none" stroke="#E8B020" stroke-width="1.35"/>
<rect x="314.98" y="93.03" width="6.8" height="6.8" fill="none" stroke="#E8B020" stroke-width="1.35"/>
<rect x="317.98" y="91.98" width="6.8" height="6.8" fill="none" stroke="#E8B020" stroke-width="1.35"/>
<rect x="321.02" y="90.98" width="6.8" height="6.8" fill="none" stroke="#E8B020" stroke-width="1.35"/>
<rect x="324.15" y="90.03" width="6.8" height="6.8" fill="none" stroke="#E8B020" stroke-width="1.35"/>
<rect x="327.38" y="89.1" width="6.8" height="6.8" fill="none" stroke="#E8B020" stroke-width="1.35"/>
<rect x="330.7" y="88.22" width="6.8" height="6.8" fill="none" stroke="#E8B020" stroke-width="1.35"/>
<rect x="334.12" y="87.37" width="6.8" height="6.8" fill="none" stroke="#E8B020" stroke-width="1.35"/>
<rect x="337.65" y="86.56" width="6.8" height="6.8" fill="none" stroke="#E8B020" stroke-width="1.35"/>
<rect x="341.28" y="85.8" width="6.8" height="6.8" fill="none" stroke="#E8B020" stroke-width="1.35"/>
<rect x="345.02" y="85.07" width="6.8" height="6.8" fill="none" stroke="#E8B020" stroke-width="1.35"/>
<rect x="348.87" y="84.39" width="6.8" height="6.8" fill="none" stroke="#E8B020" stroke-width="1.35"/>
<rect x="352.84" y="83.73" width="6.8" height="6.8" fill="none" stroke="#E8B020" stroke-width="1.35"/>
<rect x="356.93" y="83.09" width="6.8" height="6.8" fill="none" stroke="#E8B020" stroke-width="1.35"/>
<rect x="361.14" y="82.43" width="6.8" height="6.8" fill="none" stroke="#E8B020" stroke-width="1.35"/>
<rect x="365.47" y="81.71" width="6.8" height="6.8" fill="none" stroke="#E8B020" stroke-width="1.35"/>
<rect x="369.94" y="80.91" width="6.8" height="6.8" fill="none" stroke="#E8B020" stroke-width="1.35"/>
<rect x="374.54" y="79.98" width="6.8" height="6.8" fill="none" stroke="#E8B020" stroke-width="1.35"/>
<rect x="379.28" y="78.92" width="6.8" height="6.8" fill="none" stroke="#E8B020" stroke-width="1.35"/>
<rect x="384.16" y="77.78" width="6.8" height="6.8" fill="none" stroke="#E8B020" stroke-width="1.35"/>
<rect x="389.19" y="76.64" width="6.8" height="6.8" fill="none" stroke="#E8B020" stroke-width="1.35"/>
<rect x="394.36" y="75.67" width="6.8" height="6.8" fill="none" stroke="#E8B020" stroke-width="1.35"/>
<rect x="399.7" y="75.04" width="6.8" height="6.8" fill="none" stroke="#E8B020" stroke-width="1.35"/>
<rect x="405.19" y="74.92" width="6.8" height="6.8" fill="none" stroke="#E8B020" stroke-width="1.35"/>
<rect x="410.85" y="75.36" width="6.8" height="6.8" fill="none" stroke="#E8B020" stroke-width="1.35"/>
<rect x="416.67" y="76.27" width="6.8" height="6.8" fill="none" stroke="#E8B020" stroke-width="1.35"/>
<rect x="422.67" y="77.46" width="6.8" height="6.8" fill="none" stroke="#E8B020" stroke-width="1.35"/>
<rect x="428.67" y="78.63" width="6.8" height="6.8" fill="none" stroke="#E8B020" stroke-width="1.35"/>
<rect x="434.67" y="79.6" width="6.8" height="6.8" fill="none" stroke="#E8B020" stroke-width="1.35"/>
<rect x="440.67" y="80.29" width="6.8" height="6.8" fill="none" stroke="#E8B020" stroke-width="1.35"/>
<rect x="76.6" y="331.08" width="6.8" height="6.8" fill="none" stroke="#6218E8" stroke-width="1.35"/>
<rect x="127.65" y="319.7" width="6.8" height="6.8" fill="none" stroke="#6218E8" stroke-width="1.35"/>
<rect x="151.39" y="308.43" width="6.8" height="6.8" fill="none" stroke="#6218E8" stroke-width="1.35"/>
<rect x="167.03" y="297.33" width="6.8" height="6.8" fill="none" stroke="#6218E8" stroke-width="1.35"/>
<rect x="178.7" y="286.44" width="6.8" height="6.8" fill="none" stroke="#6218E8" stroke-width="1.35"/>
<rect x="188.03" y="275.84" width="6.8" height="6.8" fill="none" stroke="#6218E8" stroke-width="1.35"/>
<rect x="195.79" y="265.56" width="6.8" height="6.8" fill="none" stroke="#6218E8" stroke-width="1.35"/>
<rect x="202.44" y="255.64" width="6.8" height="6.8" fill="none" stroke="#6218E8" stroke-width="1.35"/>
<rect x="208.26" y="246.11" width="6.8" height="6.8" fill="none" stroke="#6218E8" stroke-width="1.35"/>
<rect x="213.43" y="237" width="6.8" height="6.8" fill="none" stroke="#6218E8" stroke-width="1.35"/>
<rect x="218.08" y="228.32" width="6.8" height="6.8" fill="none" stroke="#6218E8" stroke-width="1.35"/>
<rect x="222.3" y="220.07" width="6.8" height="6.8" fill="none" stroke="#6218E8" stroke-width="1.35"/>
<rect x="226.18" y="212.27" width="6.8" height="6.8" fill="none" stroke="#6218E8" stroke-width="1.35"/>
<rect x="229.76" y="204.9" width="6.8" height="6.8" fill="none" stroke="#6218E8" stroke-width="1.35"/>
<rect x="233.08" y="197.97" width="6.8" height="6.8" fill="none" stroke="#6218E8" stroke-width="1.35"/>
<rect x="236.18" y="191.45" width="6.8" height="6.8" fill="none" stroke="#6218E8" stroke-width="1.35"/>
<rect x="239.18" y="185.14" width="6.8" height="6.8" fill="none" stroke="#6218E8" stroke-width="1.35"/>
<rect x="242.18" y="178.86" width="6.8" height="6.8" fill="none" stroke="#6218E8" stroke-width="1.35"/>
<rect x="245.18" y="172.66" width="6.8" height="6.8" fill="none" stroke="#6218E8" stroke-width="1.35"/>
<rect x="248.18" y="166.57" width="6.8" height="6.8" fill="none" stroke="#6218E8" stroke-width="1.35"/>
<rect x="251.18" y="160.63" width="6.8" height="6.8" fill="none" stroke="#6218E8" stroke-width="1.35"/>
<rect x="254.18" y="154.89" width="6.8" height="6.8" fill="none" stroke="#6218E8" stroke-width="1.35"/>
<rect x="257.18" y="149.37" width="6.8" height="6.8" fill="none" stroke="#6218E8" stroke-width="1.35"/>
<rect x="260.18" y="144.1" width="6.8" height="6.8" fill="none" stroke="#6218E8" stroke-width="1.35"/>
<rect x="263.18" y="139.12" width="6.8" height="6.8" fill="none" stroke="#6218E8" stroke-width="1.35"/>
<rect x="266.18" y="134.43" width="6.8" height="6.8" fill="none" stroke="#6218E8" stroke-width="1.35"/>
<rect x="269.18" y="130.06" width="6.8" height="6.8" fill="none" stroke="#6218E8" stroke-width="1.35"/>
<rect x="272.18" y="126.02" width="6.8" height="6.8" fill="none" stroke="#6218E8" stroke-width="1.35"/>
<rect x="275.18" y="122.3" width="6.8" height="6.8" fill="none" stroke="#6218E8" stroke-width="1.35"/>
<rect x="278.18" y="118.9" width="6.8" height="6.8" fill="none" stroke="#6218E8" stroke-width="1.35"/>
<rect x="281.18" y="115.81" width="6.8" height="6.8" fill="none" stroke="#6218E8" stroke-width="1.35"/>
<rect x="284.18" y="113.02" width="6.8" height="6.8" fill="none" stroke="#6218E8" stroke-width="1.35"/>
<rect x="287.18" y="110.51" width="6.8" height="6.8" fill="none" stroke="#6218E8" stroke-width="1.35"/>
<rect x="290.18" y="108.25" width="6.8" height="6.8" fill="none" stroke="#6218E8" stroke-width="1.35"/>
<rect x="293.18" y="106.22" width="6.8" height="6.8" fill="none" stroke="#6218E8" stroke-width="1.35"/>
<rect x="296.18" y="104.39" width="6.8" height="6.8" fill="none" stroke="#6218E8" stroke-width="1.35"/>
<rect x="299.18" y="102.73" width="6.8" height="6.8" fill="none" stroke="#6218E8" stroke-width="1.35"/>
<rect x="302.18" y="101.22" width="6.8" height="6.8" fill="none" stroke="#6218E8" stroke-width="1.35"/>
<rect x="305.18" y="99.83" width="6.8" height="6.8" fill="none" stroke="#6218E8" stroke-width="1.35"/>
<rect x="308.18" y="98.53" width="6.8" height="6.8" fill="none" stroke="#6218E8" stroke-width="1.35"/>
<rect x="311.18" y="97.31" width="6.8" height="6.8" fill="none" stroke="#6218E8" stroke-width="1.35"/>
<rect x="314.18" y="96.15" width="6.8" height="6.8" fill="none" stroke="#6218E8" stroke-width="1.35"/>
<rect x="317.18" y="95.04" width="6.8" height="6.8" fill="none" stroke="#6218E8" stroke-width="1.35"/>
<rect x="320.19" y="93.96" width="6.8" height="6.8" fill="none" stroke="#6218E8" stroke-width="1.35"/>
<rect x="323.3" y="92.88" width="6.8" height="6.8" fill="none" stroke="#6218E8" stroke-width="1.35"/>
<rect x="326.5" y="91.8" width="6.8" height="6.8" fill="none" stroke="#6218E8" stroke-width="1.35"/>
<rect x="329.8" y="90.73" width="6.8" height="6.8" fill="none" stroke="#6218E8" stroke-width="1.35"/>
<rect x="333.19" y="89.67" width="6.8" height="6.8" fill="none" stroke="#6218E8" stroke-width="1.35"/>
<rect x="336.69" y="88.63" width="6.8" height="6.8" fill="none" stroke="#6218E8" stroke-width="1.35"/>
<rect x="340.3" y="87.63" width="6.8" height="6.8" fill="none" stroke="#6218E8" stroke-width="1.35"/>
<rect x="344.01" y="86.67" width="6.8" height="6.8" fill="none" stroke="#6218E8" stroke-width="1.35"/>
<rect x="347.83" y="85.76" width="6.8" height="6.8" fill="none" stroke="#6218E8" stroke-width="1.35"/>
<rect x="351.77" y="84.92" width="6.8" height="6.8" fill="none" stroke="#6218E8" stroke-width="1.35"/>
<rect x="355.82" y="84.14" width="6.8" height="6.8" fill="none" stroke="#6218E8" stroke-width="1.35"/>
<rect x="360" y="83.41" width="6.8" height="6.8" fill="none" stroke="#6218E8" stroke-width="1.35"/>
<rect x="364.3" y="82.73" width="6.8" height="6.8" fill="none" stroke="#6218E8" stroke-width="1.35"/>
<rect x="368.73" y="82.07" width="6.8" height="6.8" fill="none" stroke="#6218E8" stroke-width="1.35"/>
<rect x="373.29" y="81.41" width="6.8" height="6.8" fill="none" stroke="#6218E8" stroke-width="1.35"/>
<rect x="377.99" y="80.74" width="6.8" height="6.8" fill="none" stroke="#6218E8" stroke-width="1.35"/>
<rect x="382.84" y="80.06" width="6.8" height="6.8" fill="none" stroke="#6218E8" stroke-width="1.35"/>
<rect x="387.82" y="79.4" width="6.8" height="6.8" fill="none" stroke="#6218E8" stroke-width="1.35"/>
<rect x="392.96" y="78.83" width="6.8" height="6.8" fill="none" stroke="#6218E8" stroke-width="1.35"/>
<rect x="398.25" y="78.43" width="6.8" height="6.8" fill="none" stroke="#6218E8" stroke-width="1.35"/>
<rect x="403.7" y="78.26" width="6.8" height="6.8" fill="none" stroke="#6218E8" stroke-width="1.35"/>
<rect x="409.31" y="78.37" width="6.8" height="6.8" fill="none" stroke="#6218E8" stroke-width="1.35"/>
<rect x="415.09" y="78.74" width="6.8" height="6.8" fill="none" stroke="#6218E8" stroke-width="1.35"/>
<rect x="421.05" y="79.27" width="6.8" height="6.8" fill="none" stroke="#6218E8" stroke-width="1.35"/>
<rect x="427.05" y="79.83" width="6.8" height="6.8" fill="none" stroke="#6218E8" stroke-width="1.35"/>
<rect x="433.05" y="80.32" width="6.8" height="6.8" fill="none" stroke="#6218E8" stroke-width="1.35"/>
<path d="M89.2 303.5H98.4L93.8 311.09Z" fill="none" stroke="#DE2E18" stroke-width="1.35" stroke-linejoin="miter"/>
<path d="M140.25 288.23H149.45L144.85 295.82Z" fill="none" stroke="#DE2E18" stroke-width="1.35" stroke-linejoin="miter"/>
<path d="M163.99 273.21H173.19L168.59 280.8Z" fill="none" stroke="#DE2E18" stroke-width="1.35" stroke-linejoin="miter"/>
<path d="M179.63 258.58H188.83L184.23 266.17Z" fill="none" stroke="#DE2E18" stroke-width="1.35" stroke-linejoin="miter"/>
<path d="M191.3 244.47H200.5L195.9 252.06Z" fill="none" stroke="#DE2E18" stroke-width="1.35" stroke-linejoin="miter"/>
<path d="M200.63 230.99H209.83L205.23 238.58Z" fill="none" stroke="#DE2E18" stroke-width="1.35" stroke-linejoin="miter"/>
<path d="M208.39 218.2H217.59L212.99 225.79Z" fill="none" stroke="#DE2E18" stroke-width="1.35" stroke-linejoin="miter"/>
<path d="M215.04 206.18H224.24L219.64 213.77Z" fill="none" stroke="#DE2E18" stroke-width="1.35" stroke-linejoin="miter"/>
<path d="M220.86 194.93H230.06L225.46 202.52Z" fill="none" stroke="#DE2E18" stroke-width="1.35" stroke-linejoin="miter"/>
<path d="M226.03 184.48H235.23L230.63 192.07Z" fill="none" stroke="#DE2E18" stroke-width="1.35" stroke-linejoin="miter"/>
<path d="M230.68 174.81H239.88L235.28 182.4Z" fill="none" stroke="#DE2E18" stroke-width="1.35" stroke-linejoin="miter"/>
<path d="M234.9 165.89H244.1L239.5 173.48Z" fill="none" stroke="#DE2E18" stroke-width="1.35" stroke-linejoin="miter"/>
<path d="M238.78 157.69H247.98L243.38 165.28Z" fill="none" stroke="#DE2E18" stroke-width="1.35" stroke-linejoin="miter"/>
<path d="M242.36 150.18H251.56L246.96 157.77Z" fill="none" stroke="#DE2E18" stroke-width="1.35" stroke-linejoin="miter"/>
<path d="M245.68 143.29H254.88L250.28 150.88Z" fill="none" stroke="#DE2E18" stroke-width="1.35" stroke-linejoin="miter"/>
<path d="M248.78 137H257.98L253.38 144.59Z" fill="none" stroke="#DE2E18" stroke-width="1.35" stroke-linejoin="miter"/>
<path d="M251.78 131.06H260.98L256.38 138.65Z" fill="none" stroke="#DE2E18" stroke-width="1.35" stroke-linejoin="miter"/>
<path d="M254.78 125.32H263.98L259.38 132.91Z" fill="none" stroke="#DE2E18" stroke-width="1.35" stroke-linejoin="miter"/>
<path d="M257.78 119.78H266.98L262.38 127.37Z" fill="none" stroke="#DE2E18" stroke-width="1.35" stroke-linejoin="miter"/>
<path d="M260.78 114.49H269.98L265.38 122.08Z" fill="none" stroke="#DE2E18" stroke-width="1.35" stroke-linejoin="miter"/>
<path d="M263.78 109.46H272.98L268.38 117.05Z" fill="none" stroke="#DE2E18" stroke-width="1.35" stroke-linejoin="miter"/>
<path d="M266.78 104.72H275.98L271.38 112.31Z" fill="none" stroke="#DE2E18" stroke-width="1.35" stroke-linejoin="miter"/>
<path d="M269.78 100.26H278.98L274.38 107.85Z" fill="none" stroke="#DE2E18" stroke-width="1.35" stroke-linejoin="miter"/>
<path d="M272.78 96.1H281.98L277.38 103.69Z" fill="none" stroke="#DE2E18" stroke-width="1.35" stroke-linejoin="miter"/>
<path d="M275.78 92.24H284.98L280.38 99.83Z" fill="none" stroke="#DE2E18" stroke-width="1.35" stroke-linejoin="miter"/>
<path d="M278.78 88.68H287.98L283.38 96.27Z" fill="none" stroke="#DE2E18" stroke-width="1.35" stroke-linejoin="miter"/>
<path d="M281.78 85.42H290.98L286.38 93.01Z" fill="none" stroke="#DE2E18" stroke-width="1.35" stroke-linejoin="miter"/>
<path d="M284.78 82.43H293.98L289.38 90.02Z" fill="none" stroke="#DE2E18" stroke-width="1.35" stroke-linejoin="miter"/>
<path d="M287.78 79.72H296.98L292.38 87.31Z" fill="none" stroke="#DE2E18" stroke-width="1.35" stroke-linejoin="miter"/>
<path d="M290.78 77.27H299.98L295.38 84.86Z" fill="none" stroke="#DE2E18" stroke-width="1.35" stroke-linejoin="miter"/>
<path d="M293.78 75.06H302.98L298.38 82.65Z" fill="none" stroke="#DE2E18" stroke-width="1.35" stroke-linejoin="miter"/>
<path d="M296.78 73.07H305.98L301.38 80.66Z" fill="none" stroke="#DE2E18" stroke-width="1.35" stroke-linejoin="miter"/>
<path d="M299.78 71.29H308.98L304.38 78.88Z" fill="none" stroke="#DE2E18" stroke-width="1.35" stroke-linejoin="miter"/>
<path d="M302.78 69.7H311.98L307.38 77.29Z" fill="none" stroke="#DE2E18" stroke-width="1.35" stroke-linejoin="miter"/>
<path d="M305.78 68.29H314.98L310.38 75.88Z" fill="none" stroke="#DE2E18" stroke-width="1.35" stroke-linejoin="miter"/>
<path d="M308.78 67.02H317.98L313.38 74.61Z" fill="none" stroke="#DE2E18" stroke-width="1.35" stroke-linejoin="miter"/>
<path d="M311.78 65.9H320.98L316.38 73.49Z" fill="none" stroke="#DE2E18" stroke-width="1.35" stroke-linejoin="miter"/>
<path d="M314.78 64.9H323.98L319.38 72.49Z" fill="none" stroke="#DE2E18" stroke-width="1.35" stroke-linejoin="miter"/>
<path d="M317.78 64H326.98L322.38 71.59Z" fill="none" stroke="#DE2E18" stroke-width="1.35" stroke-linejoin="miter"/>
<path d="M320.85 63.18H330.05L325.45 70.77Z" fill="none" stroke="#DE2E18" stroke-width="1.35" stroke-linejoin="miter"/>
<path d="M324.01 62.42H333.21L328.61 70.01Z" fill="none" stroke="#DE2E18" stroke-width="1.35" stroke-linejoin="miter"/>
<path d="M327.27 61.71H336.47L331.87 69.3Z" fill="none" stroke="#DE2E18" stroke-width="1.35" stroke-linejoin="miter"/>
<path d="M330.62 61.06H339.82L335.22 68.65Z" fill="none" stroke="#DE2E18" stroke-width="1.35" stroke-linejoin="miter"/>
<path d="M334.08 60.45H343.28L338.68 68.04Z" fill="none" stroke="#DE2E18" stroke-width="1.35" stroke-linejoin="miter"/>
<path d="M337.64 59.88H346.84L342.24 67.47Z" fill="none" stroke="#DE2E18" stroke-width="1.35" stroke-linejoin="miter"/>
<path d="M341.31 59.34H350.51L345.91 66.93Z" fill="none" stroke="#DE2E18" stroke-width="1.35" stroke-linejoin="miter"/>
<path d="M345.09 58.83H354.29L349.69 66.42Z" fill="none" stroke="#DE2E18" stroke-width="1.35" stroke-linejoin="miter"/>
<path d="M348.98 58.33H358.18L353.58 65.92Z" fill="none" stroke="#DE2E18" stroke-width="1.35" stroke-linejoin="miter"/>
<path d="M352.98 57.85H362.18L357.58 65.44Z" fill="none" stroke="#DE2E18" stroke-width="1.35" stroke-linejoin="miter"/>
<path d="M357.11 57.34H366.31L361.71 64.93Z" fill="none" stroke="#DE2E18" stroke-width="1.35" stroke-linejoin="miter"/>
<path d="M361.36 56.78H370.56L365.96 64.37Z" fill="none" stroke="#DE2E18" stroke-width="1.35" stroke-linejoin="miter"/>
<path d="M365.74 56.12H374.94L370.34 63.71Z" fill="none" stroke="#DE2E18" stroke-width="1.35" stroke-linejoin="miter"/>
<path d="M370.25 55.3H379.45L374.85 62.89Z" fill="none" stroke="#DE2E18" stroke-width="1.35" stroke-linejoin="miter"/>
<path d="M374.9 54.23H384.1L379.5 61.82Z" fill="none" stroke="#DE2E18" stroke-width="1.35" stroke-linejoin="miter"/>
<path d="M379.68 52.86H388.88L384.28 60.45Z" fill="none" stroke="#DE2E18" stroke-width="1.35" stroke-linejoin="miter"/>
<path d="M384.61 51.16H393.81L389.21 58.75Z" fill="none" stroke="#DE2E18" stroke-width="1.35" stroke-linejoin="miter"/>
<path d="M389.69 49.2H398.89L394.29 56.79Z" fill="none" stroke="#DE2E18" stroke-width="1.35" stroke-linejoin="miter"/>
<path d="M394.92 47.19H404.12L399.52 54.78Z" fill="none" stroke="#DE2E18" stroke-width="1.35" stroke-linejoin="miter"/>
<path d="M400.3 45.43H409.5L404.9 53.02Z" fill="none" stroke="#DE2E18" stroke-width="1.35" stroke-linejoin="miter"/>
<path d="M405.85 44.31H415.05L410.45 51.9Z" fill="none" stroke="#DE2E18" stroke-width="1.35" stroke-linejoin="miter"/>
<path d="M411.56 44.14H420.76L416.16 51.73Z" fill="none" stroke="#DE2E18" stroke-width="1.35" stroke-linejoin="miter"/>
<path d="M417.45 45.03H426.65L422.05 52.62Z" fill="none" stroke="#DE2E18" stroke-width="1.35" stroke-linejoin="miter"/>
<path d="M423.45 46.8H432.65L428.05 54.39Z" fill="none" stroke="#DE2E18" stroke-width="1.35" stroke-linejoin="miter"/>
<path d="M429.45 48.98H438.65L434.05 56.57Z" fill="none" stroke="#DE2E18" stroke-width="1.35" stroke-linejoin="miter"/>
<path d="M435.45 51.09H444.65L440.05 58.68Z" fill="none" stroke="#DE2E18" stroke-width="1.35" stroke-linejoin="miter"/>
<path d="M441.45 52.81H450.65L446.05 60.4Z" fill="none" stroke="#DE2E18" stroke-width="1.35" stroke-linejoin="miter"/>
<path d="M447.45 54.03H456.65L452.05 61.62Z" fill="none" stroke="#DE2E18" stroke-width="1.35" stroke-linejoin="miter"/>
<path d="M453.45 54.79H462.65L458.05 62.38Z" fill="none" stroke="#DE2E18" stroke-width="1.35" stroke-linejoin="miter"/>
<path d="M459.45 55.2H468.65L464.05 62.79Z" fill="none" stroke="#DE2E18" stroke-width="1.35" stroke-linejoin="miter"/>
<path d="M465.45 55.41H474.65L470.05 63Z" fill="none" stroke="#DE2E18" stroke-width="1.35" stroke-linejoin="miter"/>
<path d="M471.45 55.49H480.65L476.05 63.08Z" fill="none" stroke="#DE2E18" stroke-width="1.35" stroke-linejoin="miter"/>
<path d="M477.45 55.53H486.65L482.05 63.12Z" fill="none" stroke="#DE2E18" stroke-width="1.35" stroke-linejoin="miter"/>
<path d="M483.45 55.54H492.65L488.05 63.13Z" fill="none" stroke="#DE2E18" stroke-width="1.35" stroke-linejoin="miter"/>
<path d="M74.4 305.59H83.6L79 313.18Z" fill="none" stroke="#E8B020" stroke-width="1.35" stroke-linejoin="miter"/>
<path d="M125.45 294.46H134.65L130.05 302.05Z" fill="none" stroke="#E8B020" stroke-width="1.35" stroke-linejoin="miter"/>
<path d="M149.19 283.42H158.39L153.79 291.01Z" fill="none" stroke="#E8B020" stroke-width="1.35" stroke-linejoin="miter"/>
<path d="M164.83 272.54H174.03L169.43 280.13Z" fill="none" stroke="#E8B020" stroke-width="1.35" stroke-linejoin="miter"/>
<path d="M176.5 261.87H185.7L181.1 269.46Z" fill="none" stroke="#E8B020" stroke-width="1.35" stroke-linejoin="miter"/>
<path d="M185.83 251.46H195.03L190.43 259.05Z" fill="none" stroke="#E8B020" stroke-width="1.35" stroke-linejoin="miter"/>
<path d="M193.59 241.35H202.79L198.19 248.94Z" fill="none" stroke="#E8B020" stroke-width="1.35" stroke-linejoin="miter"/>
<path d="M200.24 231.59H209.44L204.84 239.18Z" fill="none" stroke="#E8B020" stroke-width="1.35" stroke-linejoin="miter"/>
<path d="M206.06 222.19H215.26L210.66 229.78Z" fill="none" stroke="#E8B020" stroke-width="1.35" stroke-linejoin="miter"/>
<path d="M211.23 213.19H220.43L215.83 220.78Z" fill="none" stroke="#E8B020" stroke-width="1.35" stroke-linejoin="miter"/>
<path d="M215.88 204.6H225.08L220.48 212.19Z" fill="none" stroke="#E8B020" stroke-width="1.35" stroke-linejoin="miter"/>
<path d="M220.1 196.42H229.3L224.7 204.01Z" fill="none" stroke="#E8B020" stroke-width="1.35" stroke-linejoin="miter"/>
<path d="M223.98 188.67H233.18L228.58 196.26Z" fill="none" stroke="#E8B020" stroke-width="1.35" stroke-linejoin="miter"/>
<path d="M227.56 181.33H236.76L232.16 188.92Z" fill="none" stroke="#E8B020" stroke-width="1.35" stroke-linejoin="miter"/>
<path d="M230.88 174.39H240.08L235.48 181.98Z" fill="none" stroke="#E8B020" stroke-width="1.35" stroke-linejoin="miter"/>
<path d="M233.98 167.86H243.18L238.58 175.45Z" fill="none" stroke="#E8B020" stroke-width="1.35" stroke-linejoin="miter"/>
<path d="M236.98 161.51H246.18L241.58 169.1Z" fill="none" stroke="#E8B020" stroke-width="1.35" stroke-linejoin="miter"/>
<path d="M239.98 155.18H249.18L244.58 162.77Z" fill="none" stroke="#E8B020" stroke-width="1.35" stroke-linejoin="miter"/>
<path d="M242.98 148.9H252.18L247.58 156.49Z" fill="none" stroke="#E8B020" stroke-width="1.35" stroke-linejoin="miter"/>
<path d="M245.98 142.7H255.18L250.58 150.29Z" fill="none" stroke="#E8B020" stroke-width="1.35" stroke-linejoin="miter"/>
<path d="M248.98 136.63H258.18L253.58 144.22Z" fill="none" stroke="#E8B020" stroke-width="1.35" stroke-linejoin="miter"/>
<path d="M251.98 130.71H261.18L256.58 138.3Z" fill="none" stroke="#E8B020" stroke-width="1.35" stroke-linejoin="miter"/>
<path d="M254.98 124.99H264.18L259.58 132.58Z" fill="none" stroke="#E8B020" stroke-width="1.35" stroke-linejoin="miter"/>
<path d="M257.98 119.49H267.18L262.58 127.08Z" fill="none" stroke="#E8B020" stroke-width="1.35" stroke-linejoin="miter"/>
<path d="M260.98 114.24H270.18L265.58 121.83Z" fill="none" stroke="#E8B020" stroke-width="1.35" stroke-linejoin="miter"/>
<path d="M263.98 109.26H273.18L268.58 116.85Z" fill="none" stroke="#E8B020" stroke-width="1.35" stroke-linejoin="miter"/>
<path d="M266.98 104.57H276.18L271.58 112.16Z" fill="none" stroke="#E8B020" stroke-width="1.35" stroke-linejoin="miter"/>
<path d="M269.98 100.18H279.18L274.58 107.77Z" fill="none" stroke="#E8B020" stroke-width="1.35" stroke-linejoin="miter"/>
<path d="M272.98 96.09H282.18L277.58 103.68Z" fill="none" stroke="#E8B020" stroke-width="1.35" stroke-linejoin="miter"/>
<path d="M275.98 92.32H285.18L280.58 99.91Z" fill="none" stroke="#E8B020" stroke-width="1.35" stroke-linejoin="miter"/>
<path d="M278.98 88.86H288.18L283.58 96.45Z" fill="none" stroke="#E8B020" stroke-width="1.35" stroke-linejoin="miter"/>
<path d="M281.98 85.7H291.18L286.58 93.29Z" fill="none" stroke="#E8B020" stroke-width="1.35" stroke-linejoin="miter"/>
<path d="M284.98 82.83H294.18L289.58 90.42Z" fill="none" stroke="#E8B020" stroke-width="1.35" stroke-linejoin="miter"/>
<path d="M287.98 80.25H297.18L292.58 87.84Z" fill="none" stroke="#E8B020" stroke-width="1.35" stroke-linejoin="miter"/>
<path d="M290.98 77.93H300.18L295.58 85.52Z" fill="none" stroke="#E8B020" stroke-width="1.35" stroke-linejoin="miter"/>
<path d="M293.98 75.87H303.18L298.58 83.46Z" fill="none" stroke="#E8B020" stroke-width="1.35" stroke-linejoin="miter"/>
<path d="M296.98 74.03H306.18L301.58 81.62Z" fill="none" stroke="#E8B020" stroke-width="1.35" stroke-linejoin="miter"/>
<path d="M299.98 72.41H309.18L304.58 80Z" fill="none" stroke="#E8B020" stroke-width="1.35" stroke-linejoin="miter"/>
<path d="M302.98 70.97H312.18L307.58 78.56Z" fill="none" stroke="#E8B020" stroke-width="1.35" stroke-linejoin="miter"/>
<path d="M305.98 69.71H315.18L310.58 77.3Z" fill="none" stroke="#E8B020" stroke-width="1.35" stroke-linejoin="miter"/>
<path d="M308.98 68.58H318.18L313.58 76.17Z" fill="none" stroke="#E8B020" stroke-width="1.35" stroke-linejoin="miter"/>
<path d="M311.98 67.59H321.18L316.58 75.18Z" fill="none" stroke="#E8B020" stroke-width="1.35" stroke-linejoin="miter"/>
<path d="M314.98 66.7H324.18L319.58 74.29Z" fill="none" stroke="#E8B020" stroke-width="1.35" stroke-linejoin="miter"/>
<path d="M317.98 65.89H327.18L322.58 73.48Z" fill="none" stroke="#E8B020" stroke-width="1.35" stroke-linejoin="miter"/>
<path d="M321.05 65.14H330.25L325.65 72.73Z" fill="none" stroke="#E8B020" stroke-width="1.35" stroke-linejoin="miter"/>
<path d="M324.22 64.42H333.42L328.82 72.01Z" fill="none" stroke="#E8B020" stroke-width="1.35" stroke-linejoin="miter"/>
<path d="M327.49 63.73H336.69L332.09 71.32Z" fill="none" stroke="#E8B020" stroke-width="1.35" stroke-linejoin="miter"/>
<path d="M330.85 63.06H340.05L335.45 70.65Z" fill="none" stroke="#E8B020" stroke-width="1.35" stroke-linejoin="miter"/>
<path d="M334.31 62.4H343.51L338.91 69.99Z" fill="none" stroke="#E8B020" stroke-width="1.35" stroke-linejoin="miter"/>
<path d="M337.88 61.74H347.08L342.48 69.33Z" fill="none" stroke="#E8B020" stroke-width="1.35" stroke-linejoin="miter"/>
<path d="M341.56 61.09H350.76L346.16 68.68Z" fill="none" stroke="#E8B020" stroke-width="1.35" stroke-linejoin="miter"/>
<path d="M345.34 60.44H354.54L349.94 68.03Z" fill="none" stroke="#E8B020" stroke-width="1.35" stroke-linejoin="miter"/>
<path d="M349.24 59.79H358.44L353.84 67.38Z" fill="none" stroke="#E8B020" stroke-width="1.35" stroke-linejoin="miter"/>
<path d="M353.25 59.14H362.45L357.85 66.73Z" fill="none" stroke="#E8B020" stroke-width="1.35" stroke-linejoin="miter"/>
<path d="M357.39 58.49H366.59L361.99 66.08Z" fill="none" stroke="#E8B020" stroke-width="1.35" stroke-linejoin="miter"/>
<path d="M361.65 57.83H370.85L366.25 65.42Z" fill="none" stroke="#E8B020" stroke-width="1.35" stroke-linejoin="miter"/>
<path d="M366.04 57.15H375.24L370.64 64.74Z" fill="none" stroke="#E8B020" stroke-width="1.35" stroke-linejoin="miter"/>
<path d="M370.55 56.4H379.75L375.15 63.99Z" fill="none" stroke="#E8B020" stroke-width="1.35" stroke-linejoin="miter"/>
<path d="M375.21 55.55H384.41L379.81 63.14Z" fill="none" stroke="#E8B020" stroke-width="1.35" stroke-linejoin="miter"/>
<path d="M380 54.58H389.2L384.6 62.17Z" fill="none" stroke="#E8B020" stroke-width="1.35" stroke-linejoin="miter"/>
<path d="M384.94 53.46H394.14L389.54 61.05Z" fill="none" stroke="#E8B020" stroke-width="1.35" stroke-linejoin="miter"/>
<path d="M390.03 52.25H399.23L394.63 59.84Z" fill="none" stroke="#E8B020" stroke-width="1.35" stroke-linejoin="miter"/>
<path d="M395.27 51.04H404.47L399.87 58.63Z" fill="none" stroke="#E8B020" stroke-width="1.35" stroke-linejoin="miter"/>
<path d="M400.66 50.02H409.86L405.26 57.61Z" fill="none" stroke="#E8B020" stroke-width="1.35" stroke-linejoin="miter"/>
<path d="M406.22 49.38H415.42L410.82 56.97Z" fill="none" stroke="#E8B020" stroke-width="1.35" stroke-linejoin="miter"/>
<path d="M411.95 49.29H421.15L416.55 56.88Z" fill="none" stroke="#E8B020" stroke-width="1.35" stroke-linejoin="miter"/>
<path d="M417.84 49.81H427.04L422.44 57.4Z" fill="none" stroke="#E8B020" stroke-width="1.35" stroke-linejoin="miter"/>
<path d="M423.84 50.8H433.04L428.44 58.39Z" fill="none" stroke="#E8B020" stroke-width="1.35" stroke-linejoin="miter"/>
<path d="M429.84 52H439.04L434.44 59.59Z" fill="none" stroke="#E8B020" stroke-width="1.35" stroke-linejoin="miter"/>
<path d="M435.84 53.16H445.04L440.44 60.75Z" fill="none" stroke="#E8B020" stroke-width="1.35" stroke-linejoin="miter"/>
<path d="M441.84 54.09H451.04L446.44 61.68Z" fill="none" stroke="#E8B020" stroke-width="1.35" stroke-linejoin="miter"/>
<path d="M447.84 54.75H457.04L452.44 62.34Z" fill="none" stroke="#E8B020" stroke-width="1.35" stroke-linejoin="miter"/>
<path d="M453.84 55.15H463.04L458.44 62.74Z" fill="none" stroke="#E8B020" stroke-width="1.35" stroke-linejoin="miter"/>
<path d="M459.84 55.37H469.04L464.44 62.96Z" fill="none" stroke="#E8B020" stroke-width="1.35" stroke-linejoin="miter"/>
<path d="M465.84 55.48H475.04L470.44 63.07Z" fill="none" stroke="#E8B020" stroke-width="1.35" stroke-linejoin="miter"/>
<path d="M471.84 55.52H481.04L476.44 63.11Z" fill="none" stroke="#E8B020" stroke-width="1.35" stroke-linejoin="miter"/>
<path d="M477.84 55.54H487.04L482.44 63.13Z" fill="none" stroke="#E8B020" stroke-width="1.35" stroke-linejoin="miter"/>
<path d="M65.2 306.59H74.4L69.8 314.18Z" fill="none" stroke="#6218E8" stroke-width="1.35" stroke-linejoin="miter"/>
<path d="M116.25 297.45H125.45L120.85 305.04Z" fill="none" stroke="#6218E8" stroke-width="1.35" stroke-linejoin="miter"/>
<path d="M139.99 288.36H149.19L144.59 295.95Z" fill="none" stroke="#6218E8" stroke-width="1.35" stroke-linejoin="miter"/>
<path d="M155.63 279.36H164.83L160.23 286.95Z" fill="none" stroke="#6218E8" stroke-width="1.35" stroke-linejoin="miter"/>
<path d="M167.3 270.47H176.5L171.9 278.06Z" fill="none" stroke="#6218E8" stroke-width="1.35" stroke-linejoin="miter"/>
<path d="M176.63 261.74H185.83L181.23 269.33Z" fill="none" stroke="#6218E8" stroke-width="1.35" stroke-linejoin="miter"/>
<path d="M184.39 253.18H193.59L188.99 260.77Z" fill="none" stroke="#6218E8" stroke-width="1.35" stroke-linejoin="miter"/>
<path d="M191.04 244.82H200.24L195.64 252.41Z" fill="none" stroke="#6218E8" stroke-width="1.35" stroke-linejoin="miter"/>
<path d="M196.86 236.68H206.06L201.46 244.27Z" fill="none" stroke="#6218E8" stroke-width="1.35" stroke-linejoin="miter"/>
<path d="M202.03 228.79H211.23L206.63 236.38Z" fill="none" stroke="#6218E8" stroke-width="1.35" stroke-linejoin="miter"/>
<path d="M206.68 221.15H215.88L211.28 228.74Z" fill="none" stroke="#6218E8" stroke-width="1.35" stroke-linejoin="miter"/>
<path d="M210.9 213.77H220.1L215.5 221.36Z" fill="none" stroke="#6218E8" stroke-width="1.35" stroke-linejoin="miter"/>
<path d="M214.78 206.67H223.98L219.38 214.26Z" fill="none" stroke="#6218E8" stroke-width="1.35" stroke-linejoin="miter"/>
<path d="M218.36 199.85H227.56L222.96 207.44Z" fill="none" stroke="#6218E8" stroke-width="1.35" stroke-linejoin="miter"/>
<path d="M221.68 193.31H230.88L226.28 200.9Z" fill="none" stroke="#6218E8" stroke-width="1.35" stroke-linejoin="miter"/>
<path d="M224.78 187.05H233.98L229.38 194.64Z" fill="none" stroke="#6218E8" stroke-width="1.35" stroke-linejoin="miter"/>
<path d="M227.78 180.87H236.98L232.38 188.46Z" fill="none" stroke="#6218E8" stroke-width="1.35" stroke-linejoin="miter"/>
<path d="M230.78 174.61H239.98L235.38 182.2Z" fill="none" stroke="#6218E8" stroke-width="1.35" stroke-linejoin="miter"/>
<path d="M233.78 168.29H242.98L238.38 175.88Z" fill="none" stroke="#6218E8" stroke-width="1.35" stroke-linejoin="miter"/>
<path d="M236.78 161.95H245.98L241.38 169.54Z" fill="none" stroke="#6218E8" stroke-width="1.35" stroke-linejoin="miter"/>
<path d="M239.78 155.61H248.98L244.38 163.2Z" fill="none" stroke="#6218E8" stroke-width="1.35" stroke-linejoin="miter"/>
<path d="M242.78 149.33H251.98L247.38 156.92Z" fill="none" stroke="#6218E8" stroke-width="1.35" stroke-linejoin="miter"/>
<path d="M245.78 143.14H254.98L250.38 150.73Z" fill="none" stroke="#6218E8" stroke-width="1.35" stroke-linejoin="miter"/>
<path d="M248.78 137.06H257.98L253.38 144.65Z" fill="none" stroke="#6218E8" stroke-width="1.35" stroke-linejoin="miter"/>
<path d="M251.78 131.15H260.98L256.38 138.74Z" fill="none" stroke="#6218E8" stroke-width="1.35" stroke-linejoin="miter"/>
<path d="M254.78 125.43H263.98L259.38 133.02Z" fill="none" stroke="#6218E8" stroke-width="1.35" stroke-linejoin="miter"/>
<path d="M257.78 119.94H266.98L262.38 127.53Z" fill="none" stroke="#6218E8" stroke-width="1.35" stroke-linejoin="miter"/>
<path d="M260.78 114.71H269.98L265.38 122.3Z" fill="none" stroke="#6218E8" stroke-width="1.35" stroke-linejoin="miter"/>
<path d="M263.78 109.75H272.98L268.38 117.34Z" fill="none" stroke="#6218E8" stroke-width="1.35" stroke-linejoin="miter"/>
<path d="M266.78 105.09H275.98L271.38 112.68Z" fill="none" stroke="#6218E8" stroke-width="1.35" stroke-linejoin="miter"/>
<path d="M269.78 100.73H278.98L274.38 108.32Z" fill="none" stroke="#6218E8" stroke-width="1.35" stroke-linejoin="miter"/>
<path d="M272.78 96.7H281.98L277.38 104.29Z" fill="none" stroke="#6218E8" stroke-width="1.35" stroke-linejoin="miter"/>
<path d="M275.78 93H284.98L280.38 100.59Z" fill="none" stroke="#6218E8" stroke-width="1.35" stroke-linejoin="miter"/>
<path d="M278.78 89.62H287.98L283.38 97.21Z" fill="none" stroke="#6218E8" stroke-width="1.35" stroke-linejoin="miter"/>
<path d="M281.78 86.56H290.98L286.38 94.15Z" fill="none" stroke="#6218E8" stroke-width="1.35" stroke-linejoin="miter"/>
<path d="M284.78 83.81H293.98L289.38 91.4Z" fill="none" stroke="#6218E8" stroke-width="1.35" stroke-linejoin="miter"/>
<path d="M287.78 81.36H296.98L292.38 88.95Z" fill="none" stroke="#6218E8" stroke-width="1.35" stroke-linejoin="miter"/>
<path d="M290.78 79.19H299.98L295.38 86.78Z" fill="none" stroke="#6218E8" stroke-width="1.35" stroke-linejoin="miter"/>
<path d="M293.78 77.29H302.98L298.38 84.88Z" fill="none" stroke="#6218E8" stroke-width="1.35" stroke-linejoin="miter"/>
<path d="M296.78 75.63H305.98L301.38 83.22Z" fill="none" stroke="#6218E8" stroke-width="1.35" stroke-linejoin="miter"/>
<path d="M299.78 74.18H308.98L304.38 81.77Z" fill="none" stroke="#6218E8" stroke-width="1.35" stroke-linejoin="miter"/>
<path d="M302.78 72.93H311.98L307.38 80.52Z" fill="none" stroke="#6218E8" stroke-width="1.35" stroke-linejoin="miter"/>
<path d="M305.78 71.84H314.98L310.38 79.43Z" fill="none" stroke="#6218E8" stroke-width="1.35" stroke-linejoin="miter"/>
<path d="M308.78 70.9H317.98L313.38 78.49Z" fill="none" stroke="#6218E8" stroke-width="1.35" stroke-linejoin="miter"/>
<path d="M311.78 70.06H320.98L316.38 77.65Z" fill="none" stroke="#6218E8" stroke-width="1.35" stroke-linejoin="miter"/>
<path d="M314.78 69.31H323.98L319.38 76.9Z" fill="none" stroke="#6218E8" stroke-width="1.35" stroke-linejoin="miter"/>
<path d="M317.78 68.62H326.98L322.38 76.21Z" fill="none" stroke="#6218E8" stroke-width="1.35" stroke-linejoin="miter"/>
<path d="M320.85 67.95H330.05L325.45 75.54Z" fill="none" stroke="#6218E8" stroke-width="1.35" stroke-linejoin="miter"/>
<path d="M324.01 67.29H333.21L328.61 74.88Z" fill="none" stroke="#6218E8" stroke-width="1.35" stroke-linejoin="miter"/>
<path d="M327.27 66.62H336.47L331.87 74.21Z" fill="none" stroke="#6218E8" stroke-width="1.35" stroke-linejoin="miter"/>
<path d="M330.62 65.92H339.82L335.22 73.51Z" fill="none" stroke="#6218E8" stroke-width="1.35" stroke-linejoin="miter"/>
<path d="M334.08 65.19H343.28L338.68 72.78Z" fill="none" stroke="#6218E8" stroke-width="1.35" stroke-linejoin="miter"/>
<path d="M337.64 64.41H346.84L342.24 72Z" fill="none" stroke="#6218E8" stroke-width="1.35" stroke-linejoin="miter"/>
<path d="M341.31 63.59H350.51L345.91 71.18Z" fill="none" stroke="#6218E8" stroke-width="1.35" stroke-linejoin="miter"/>
<path d="M345.09 62.74H354.29L349.69 70.33Z" fill="none" stroke="#6218E8" stroke-width="1.35" stroke-linejoin="miter"/>
<path d="M348.98 61.86H358.18L353.58 69.45Z" fill="none" stroke="#6218E8" stroke-width="1.35" stroke-linejoin="miter"/>
<path d="M352.98 60.98H362.18L357.58 68.57Z" fill="none" stroke="#6218E8" stroke-width="1.35" stroke-linejoin="miter"/>
<path d="M357.11 60.1H366.31L361.71 67.69Z" fill="none" stroke="#6218E8" stroke-width="1.35" stroke-linejoin="miter"/>
<path d="M361.36 59.24H370.56L365.96 66.83Z" fill="none" stroke="#6218E8" stroke-width="1.35" stroke-linejoin="miter"/>
<path d="M365.74 58.4H374.94L370.34 65.99Z" fill="none" stroke="#6218E8" stroke-width="1.35" stroke-linejoin="miter"/>
<path d="M370.25 57.59H379.45L374.85 65.18Z" fill="none" stroke="#6218E8" stroke-width="1.35" stroke-linejoin="miter"/>
<path d="M374.9 56.8H384.1L379.5 64.39Z" fill="none" stroke="#6218E8" stroke-width="1.35" stroke-linejoin="miter"/>
<path d="M379.68 56.02H388.88L384.28 63.61Z" fill="none" stroke="#6218E8" stroke-width="1.35" stroke-linejoin="miter"/>
<path d="M384.61 55.23H393.81L389.21 62.82Z" fill="none" stroke="#6218E8" stroke-width="1.35" stroke-linejoin="miter"/>
<path d="M389.69 54.45H398.89L394.29 62.04Z" fill="none" stroke="#6218E8" stroke-width="1.35" stroke-linejoin="miter"/>
<path d="M394.92 53.73H404.12L399.52 61.32Z" fill="none" stroke="#6218E8" stroke-width="1.35" stroke-linejoin="miter"/>
<path d="M400.3 53.13H409.5L404.9 60.72Z" fill="none" stroke="#6218E8" stroke-width="1.35" stroke-linejoin="miter"/>
<path d="M405.85 52.74H415.05L410.45 60.33Z" fill="none" stroke="#6218E8" stroke-width="1.35" stroke-linejoin="miter"/>
<path d="M411.56 52.63H420.76L416.16 60.22Z" fill="none" stroke="#6218E8" stroke-width="1.35" stroke-linejoin="miter"/>
<path d="M417.45 52.83H426.65L422.05 60.42Z" fill="none" stroke="#6218E8" stroke-width="1.35" stroke-linejoin="miter"/>
<path d="M423.45 53.27H432.65L428.05 60.86Z" fill="none" stroke="#6218E8" stroke-width="1.35" stroke-linejoin="miter"/>
<path d="M429.45 53.84H438.65L434.05 61.43Z" fill="none" stroke="#6218E8" stroke-width="1.35" stroke-linejoin="miter"/>
<path d="M435.45 54.39H444.65L440.05 61.98Z" fill="none" stroke="#6218E8" stroke-width="1.35" stroke-linejoin="miter"/>
<path d="M441.45 54.84H450.65L446.05 62.43Z" fill="none" stroke="#6218E8" stroke-width="1.35" stroke-linejoin="miter"/>
<path d="M447.45 55.16H456.65L452.05 62.75Z" fill="none" stroke="#6218E8" stroke-width="1.35" stroke-linejoin="miter"/>
<path d="M453.45 55.35H462.65L458.05 62.94Z" fill="none" stroke="#6218E8" stroke-width="1.35" stroke-linejoin="miter"/>
<path d="M459.45 55.46H468.65L464.05 63.05Z" fill="none" stroke="#6218E8" stroke-width="1.35" stroke-linejoin="miter"/>
<polyline points="43,363.43 44.5,363.34 46,363.26 47.5,363.17 49,363.07 50.5,362.98 52,362.88 53.5,362.78 55,362.67 56.5,362.56 58,362.45 59.5,362.33 61,362.21 62.5,362.09 64,361.96 65.5,361.83 67,361.69 68.5,361.55 70,361.4 71.5,361.25 73,361.09 74.5,360.93 76,360.77 77.5,360.6 79,360.42 80.5,360.24 82,360.05 83.5,359.85 85,359.65 86.5,359.44 88,359.23 89.5,359 91,358.77 92.5,358.54 94,358.29 95.5,358.04 97,357.78 98.5,357.51 100,357.23 101.5,356.95 103,356.65 104.5,356.34 106,356.03 107.5,355.7 109,355.36 110.5,355.01 112,354.65 113.5,354.28 115,353.9 116.5,353.5 118,353.09 119.5,352.67 121,352.24 122.5,351.79 124,351.32 125.5,350.84 127,350.35 128.5,349.83 130,349.31 131.5,348.76 133,348.2 134.5,347.62 136,347.02 137.5,346.4 139,345.76 140.5,345.1 142,344.42 143.5,343.71 145,342.99 146.5,342.24 148,341.47 149.5,340.67 151,339.85 152.5,339 154,338.13 155.5,337.22 157,336.29 158.5,335.33 160,334.34 161.5,333.32 163,332.26 164.5,331.18 166,330.06 167.5,328.9 169,327.71 170.5,326.49 172,325.22 173.5,323.92 175,322.58 176.5,321.2 178,319.77 179.5,318.31 181,316.8 182.5,315.25 184,313.66 185.5,312.01 187,310.32 188.5,308.59 190,306.81 191.5,304.97 193,303.09 194.5,301.16 196,299.17 197.5,297.14 199,295.05 200.5,292.91 202,290.72 203.5,288.47 205,286.17 206.5,283.82 208,281.41 209.5,278.96 211,276.45 212.5,273.89 214,271.27 215.5,268.61 217,265.9 218.5,263.14 220,260.33 221.5,257.48 223,254.59 224.5,251.66 226,248.69 227.5,245.68 229,242.64 230.5,239.57 232,236.48 233.5,233.36 235,230.22 236.5,227.07 238,223.9 239.5,220.73 241,217.55 242.5,214.38 244,211.21 245.5,208.05 247,204.91 248.5,201.78 250,198.68 251.5,195.61 253,192.57 254.5,189.57 256,186.61 257.5,183.69 259,180.83 260.5,178.01 262,175.25 263.5,172.55 265,169.92 266.5,167.34 268,164.84 269.5,162.4 271,160.03 272.5,157.74 274,155.51 275.5,153.36 277,151.28 278.5,149.28 280,147.35 281.5,145.49 283,143.7 284.5,141.99 286,140.35 287.5,138.77 289,137.27 290.5,135.83 292,134.45 293.5,133.14 295,131.89 296.5,130.7 298,129.57 299.5,128.5 301,127.47 302.5,126.5 304,125.58 305.5,124.71 307,123.88 308.5,123.1 310,122.36 311.5,121.66 313,121 314.5,120.37 316,119.78 317.5,119.22 319,118.69 320.5,118.2 322,117.73 323.5,117.29 325,116.87 326.5,116.48 328,116.11 329.5,115.76 331,115.43 332.5,115.13 334,114.84 335.5,114.56 337,114.31 338.5,114.07 340,113.84 341.5,113.63 343,113.43 344.5,113.24 346,113.06 347.5,112.9 349,112.74 350.5,112.59 352,112.46 353.5,112.33 355,112.21 356.5,112.09 358,111.99 359.5,111.89 361,111.79 362.5,111.7 364,111.62 365.5,111.54 367,111.47 368.5,111.4 370,111.34 371.5,111.28 373,111.22 374.5,111.17 376,111.12 377.5,111.07 379,111.03 380.5,110.99 382,110.95 383.5,110.91 385,110.88 386.5,110.85 388,110.82 389.5,110.79 391,110.76 392.5,110.74 394,110.71 395.5,110.69 397,110.67 398.5,110.65 400,110.64 401.5,110.62 403,110.6 404.5,110.59 406,110.57 407.5,110.56 409,110.55 410.5,110.54 412,110.53 413.5,110.52 415,110.51 416.5,110.5 418,110.49 419.5,110.48 421,110.48 422.5,110.47 424,110.46 425.5,110.46 427,110.45 428.5,110.45 430,110.44 431.5,110.44 433,110.43 434.5,110.43 436,110.42 437.5,110.42 439,110.42 440.5,110.41 442,110.41 443.5,110.41 445,110.41 446.5,110.4 448,110.4 449.5,110.4 451,110.4 452.5,110.4 454,110.39 455.5,110.39 457,110.39 458.5,110.39 460,110.39 461.5,110.39 463,110.39 464.5,110.38 466,110.38 467.5,110.38 469,110.38 470.5,110.38 472,110.38 473.5,110.38 475,110.38 476.5,110.38 478,110.38 479.5,110.38 481,110.38 482.5,110.38 484,110.38 485.5,110.37 487,110.37 488.5,110.37 490,110.37 491.5,110.37" fill="none" stroke="#c3c3c3" stroke-width="3.3" stroke-linejoin="round"/>
<polyline points="43,337.61 44.5,337.52 46,337.43 47.5,337.34 49,337.25 50.5,337.16 52,337.06 53.5,336.95 55,336.85 56.5,336.74 58,336.63 59.5,336.51 61,336.39 62.5,336.26 64,336.14 65.5,336 67,335.87 68.5,335.73 70,335.58 71.5,335.43 73,335.27 74.5,335.11 76,334.95 77.5,334.77 79,334.6 80.5,334.41 82,334.22 83.5,334.03 85,333.83 86.5,333.62 88,333.4 89.5,333.18 91,332.95 92.5,332.72 94,332.47 95.5,332.22 97,331.96 98.5,331.69 100,331.41 101.5,331.12 103,330.83 104.5,330.52 106,330.2 107.5,329.88 109,329.54 110.5,329.19 112,328.83 113.5,328.46 115,328.08 116.5,327.68 118,327.27 119.5,326.85 121,326.41 122.5,325.96 124,325.5 125.5,325.02 127,324.52 128.5,324.01 130,323.48 131.5,322.94 133,322.38 134.5,321.79 136,321.2 137.5,320.58 139,319.94 140.5,319.28 142,318.6 143.5,317.89 145,317.17 146.5,316.42 148,315.65 149.5,314.85 151,314.03 152.5,313.18 154,312.3 155.5,311.4 157,310.47 158.5,309.51 160,308.52 161.5,307.5 163,306.44 164.5,305.36 166,304.24 167.5,303.08 169,301.89 170.5,300.66 172,299.4 173.5,298.1 175,296.76 176.5,295.38 178,293.95 179.5,292.49 181,290.98 182.5,289.43 184,287.83 185.5,286.19 187,284.5 188.5,282.77 190,280.98 191.5,279.15 193,277.27 194.5,275.34 196,273.35 197.5,271.32 199,269.23 200.5,267.09 202,264.9 203.5,262.65 205,260.35 206.5,258 208,255.59 209.5,253.14 211,250.63 212.5,248.06 214,245.45 215.5,242.79 217,240.08 218.5,237.32 220,234.51 221.5,231.66 223,228.77 224.5,225.84 226,222.87 227.5,219.86 229,216.82 230.5,213.75 232,210.65 233.5,207.54 235,204.4 236.5,201.24 238,198.08 239.5,194.91 241,191.73 242.5,188.56 244,185.39 245.5,182.23 247,179.09 248.5,175.96 250,172.86 251.5,169.79 253,166.75 254.5,163.75 256,160.79 257.5,157.87 259,155 260.5,152.19 262,149.43 263.5,146.73 265,144.1 266.5,141.52 268,139.02 269.5,136.58 271,134.21 272.5,131.91 274,129.69 275.5,127.54 277,125.46 278.5,123.46 280,121.53 281.5,119.67 283,117.88 284.5,116.17 286,114.53 287.5,112.95 289,111.45 290.5,110.01 292,108.63 293.5,107.32 295,106.07 296.5,104.88 298,103.75 299.5,102.68 301,101.65 302.5,100.68 304,99.76 305.5,98.89 307,98.06 308.5,97.28 310,96.54 311.5,95.84 313,95.18 314.5,94.55 316,93.96 317.5,93.4 319,92.87 320.5,92.38 322,91.91 323.5,91.47 325,91.05 326.5,90.66 328,90.29 329.5,89.94 331,89.61 332.5,89.31 334,89.02 335.5,88.74 337,88.49 338.5,88.25 340,88.02 341.5,87.81 343,87.61 344.5,87.42 346,87.24 347.5,87.08 349,86.92 350.5,86.77 352,86.64 353.5,86.51 355,86.39 356.5,86.27 358,86.16 359.5,86.06 361,85.97 362.5,85.88 364,85.8 365.5,85.72 367,85.65 368.5,85.58 370,85.52 371.5,85.46 373,85.4 374.5,85.35 376,85.3 377.5,85.25 379,85.21 380.5,85.16 382,85.13 383.5,85.09 385,85.06 386.5,85.02 388,84.99 389.5,84.97 391,84.94 392.5,84.92 394,84.89 395.5,84.87 397,84.85 398.5,84.83 400,84.81 401.5,84.8 403,84.78 404.5,84.77 406,84.75 407.5,84.74 409,84.73 410.5,84.72 412,84.71 413.5,84.7 415,84.69 416.5,84.68 418,84.67 419.5,84.66 421,84.65 422.5,84.65 424,84.64 425.5,84.64 427,84.63 428.5,84.62 430,84.62 431.5,84.62 433,84.61 434.5,84.61 436,84.6 437.5,84.6 439,84.6 440.5,84.59 442,84.59 443.5,84.59 445,84.59 446.5,84.58 448,84.58 449.5,84.58 451,84.58 452.5,84.57 454,84.57 455.5,84.57 457,84.57 458.5,84.57 460,84.57 461.5,84.57 463,84.56 464.5,84.56 466,84.56 467.5,84.56 469,84.56 470.5,84.56 472,84.56 473.5,84.56 475,84.56 476.5,84.56 478,84.56 479.5,84.56 481,84.55 482.5,84.55 484,84.55 485.5,84.55 487,84.55 488.5,84.55 490,84.55 491.5,84.55" fill="none" stroke="#c3c3c3" stroke-width="3.3" stroke-linejoin="round"/>
<polyline points="43,311.78 44.5,311.7 46,311.61 47.5,311.52 49,311.43 50.5,311.33 52,311.23 53.5,311.13 55,311.03 56.5,310.92 58,310.8 59.5,310.69 61,310.57 62.5,310.44 64,310.31 65.5,310.18 67,310.05 68.5,309.9 70,309.76 71.5,309.61 73,309.45 74.5,309.29 76,309.12 77.5,308.95 79,308.78 80.5,308.59 82,308.4 83.5,308.21 85,308.01 86.5,307.8 88,307.58 89.5,307.36 91,307.13 92.5,306.9 94,306.65 95.5,306.4 97,306.14 98.5,305.87 100,305.59 101.5,305.3 103,305.01 104.5,304.7 106,304.38 107.5,304.06 109,303.72 110.5,303.37 112,303.01 113.5,302.64 115,302.26 116.5,301.86 118,301.45 119.5,301.03 121,300.59 122.5,300.14 124,299.68 125.5,299.2 127,298.7 128.5,298.19 130,297.66 131.5,297.12 133,296.55 134.5,295.97 136,295.37 137.5,294.75 139,294.12 140.5,293.46 142,292.77 143.5,292.07 145,291.35 146.5,290.6 148,289.83 149.5,289.03 151,288.21 152.5,287.36 154,286.48 155.5,285.58 157,284.65 158.5,283.69 160,282.7 161.5,281.67 163,280.62 164.5,279.53 166,278.41 167.5,277.26 169,276.07 170.5,274.84 172,273.58 173.5,272.28 175,270.94 176.5,269.55 178,268.13 179.5,266.67 181,265.16 182.5,263.61 184,262.01 185.5,260.37 187,258.68 188.5,256.95 190,255.16 191.5,253.33 193,251.45 194.5,249.51 196,247.53 197.5,245.49 199,243.41 200.5,241.27 202,239.07 203.5,236.83 205,234.53 206.5,232.18 208,229.77 209.5,227.31 211,224.8 212.5,222.24 214,219.63 215.5,216.97 217,214.26 218.5,211.5 220,208.69 221.5,205.84 223,202.95 224.5,200.01 226,197.04 227.5,194.04 229,191 230.5,187.93 232,184.83 233.5,181.71 235,178.58 236.5,175.42 238,172.26 239.5,169.09 241,165.91 242.5,162.74 244,159.57 245.5,156.41 247,153.26 248.5,150.14 250,147.04 251.5,143.97 253,140.93 254.5,137.93 256,134.96 257.5,132.05 259,129.18 260.5,126.37 262,123.61 263.5,120.91 265,118.27 266.5,115.7 268,113.19 269.5,110.76 271,108.39 272.5,106.09 274,103.87 275.5,101.72 277,99.64 278.5,97.64 280,95.7 281.5,93.85 283,92.06 284.5,90.35 286,88.7 287.5,87.13 289,85.62 290.5,84.19 292,82.81 293.5,81.5 295,80.25 296.5,79.06 298,77.93 299.5,76.85 301,75.83 302.5,74.86 304,73.94 305.5,73.07 307,72.24 308.5,71.46 310,70.72 311.5,70.02 313,69.35 314.5,68.73 316,68.14 317.5,67.58 319,67.05 320.5,66.55 322,66.09 323.5,65.64 325,65.23 326.5,64.84 328,64.47 329.5,64.12 331,63.79 332.5,63.48 334,63.19 335.5,62.92 337,62.67 338.5,62.42 340,62.2 341.5,61.98 343,61.78 344.5,61.6 346,61.42 347.5,61.25 349,61.1 350.5,60.95 352,60.81 353.5,60.68 355,60.56 356.5,60.45 358,60.34 359.5,60.24 361,60.15 362.5,60.06 364,59.98 365.5,59.9 367,59.83 368.5,59.76 370,59.69 371.5,59.63 373,59.58 374.5,59.52 376,59.47 377.5,59.43 379,59.38 380.5,59.34 382,59.3 383.5,59.27 385,59.23 386.5,59.2 388,59.17 389.5,59.15 391,59.12 392.5,59.09 394,59.07 395.5,59.05 397,59.03 398.5,59.01 400,58.99 401.5,58.98 403,58.96 404.5,58.95 406,58.93 407.5,58.92 409,58.91 410.5,58.9 412,58.88 413.5,58.87 415,58.87 416.5,58.86 418,58.85 419.5,58.84 421,58.83 422.5,58.83 424,58.82 425.5,58.81 427,58.81 428.5,58.8 430,58.8 431.5,58.79 433,58.79 434.5,58.79 436,58.78 437.5,58.78 439,58.78 440.5,58.77 442,58.77 443.5,58.77 445,58.76 446.5,58.76 448,58.76 449.5,58.76 451,58.75 452.5,58.75 454,58.75 455.5,58.75 457,58.75 458.5,58.75 460,58.75 461.5,58.74 463,58.74 464.5,58.74 466,58.74 467.5,58.74 469,58.74 470.5,58.74 472,58.74 473.5,58.74 475,58.74 476.5,58.73 478,58.73 479.5,58.73 481,58.73 482.5,58.73 484,58.73 485.5,58.73 487,58.73 488.5,58.73 490,58.73 491.5,58.73" fill="none" stroke="#c3c3c3" stroke-width="3.3" stroke-linejoin="round"/>
<polygon points="294.4,125.3 296.13,129.92 301.06,130.14 297.2,133.21 298.51,137.96 294.4,135.24 290.29,137.96 291.6,133.21 287.74,130.14 292.67,129.92" fill="#000" stroke="#000" stroke-width="0.6" stroke-linejoin="round"/>
<polygon points="307.5,91.2 309.23,95.82 314.16,96.04 310.3,99.11 311.61,103.86 307.5,101.14 303.39,103.86 304.7,99.11 300.84,96.04 305.77,95.82" fill="#000" stroke="#000" stroke-width="0.6" stroke-linejoin="round"/>
<polygon points="322.9,59 324.63,63.62 329.56,63.84 325.7,66.91 327.01,71.66 322.9,68.94 318.79,71.66 320.1,66.91 316.24,63.84 321.17,63.62" fill="#000" stroke="#000" stroke-width="0.6" stroke-linejoin="round"/>
<polygon points="373,95 374.73,98 378.2,98 376.46,101 378.2,104 374.73,104 373,107 371.27,104 367.8,104 369.54,101 367.8,98 371.27,98" fill="#9a9a9a" stroke="#000" stroke-width="2.7" stroke-linejoin="miter" stroke-miterlimit="3"/>
<polygon points="390.4,72 392.13,75 395.6,75 393.86,78 395.6,81 392.13,81 390.4,84 388.67,81 385.2,81 386.94,78 385.2,75 388.67,75" fill="#9a9a9a" stroke="#000" stroke-width="2.7" stroke-linejoin="miter" stroke-miterlimit="3"/>
<polygon points="396,47 397.73,50 401.2,50 399.46,53 401.2,56 397.73,56 396,59 394.27,56 390.8,56 392.54,53 390.8,50 394.27,50" fill="#9a9a9a" stroke="#000" stroke-width="2.7" stroke-linejoin="miter" stroke-miterlimit="3"/>
<path d="M405.8 99.6L410.4 106L405.8 112.4L401.2 106Z" fill="#b5b5b5" stroke="#000" stroke-width="2.2" stroke-linejoin="miter"/>
<path d="M432.7 76.6L437.3 83L432.7 89.4L428.1 83Z" fill="#b5b5b5" stroke="#000" stroke-width="2.2" stroke-linejoin="miter"/>
<path d="M455 50.6L459.6 57L455 63.4L450.4 57Z" fill="#b5b5b5" stroke="#000" stroke-width="2.2" stroke-linejoin="miter"/></g>
<rect x="43" y="4.5" width="460" height="361.5" fill="none" stroke="#262626" stroke-width="1.3"/>
<line x1="74.91" y1="366" x2="74.91" y2="363.5" stroke="#262626" stroke-width="0.9" />
<line x1="74.91" y1="4.5" x2="74.91" y2="7" stroke="#262626" stroke-width="0.9" />
<line x1="93.75" y1="366" x2="93.75" y2="363.5" stroke="#262626" stroke-width="0.9" />
<line x1="93.75" y1="4.5" x2="93.75" y2="7" stroke="#262626" stroke-width="0.9" />
<line x1="107.12" y1="366" x2="107.12" y2="363.5" stroke="#262626" stroke-width="0.9" />
<line x1="107.12" y1="4.5" x2="107.12" y2="7" stroke="#262626" stroke-width="0.9" />
<line x1="117.49" y1="366" x2="117.49" y2="363.5" stroke="#262626" stroke-width="0.9" />
<line x1="117.49" y1="4.5" x2="117.49" y2="7" stroke="#262626" stroke-width="0.9" />
<line x1="125.96" y1="366" x2="125.96" y2="363.5" stroke="#262626" stroke-width="0.9" />
<line x1="125.96" y1="4.5" x2="125.96" y2="7" stroke="#262626" stroke-width="0.9" />
<line x1="133.13" y1="366" x2="133.13" y2="363.5" stroke="#262626" stroke-width="0.9" />
<line x1="133.13" y1="4.5" x2="133.13" y2="7" stroke="#262626" stroke-width="0.9" />
<line x1="139.33" y1="366" x2="139.33" y2="363.5" stroke="#262626" stroke-width="0.9" />
<line x1="139.33" y1="4.5" x2="139.33" y2="7" stroke="#262626" stroke-width="0.9" />
<line x1="144.8" y1="366" x2="144.8" y2="363.5" stroke="#262626" stroke-width="0.9" />
<line x1="144.8" y1="4.5" x2="144.8" y2="7" stroke="#262626" stroke-width="0.9" />
<line x1="149.7" y1="366" x2="149.7" y2="361.5" stroke="#262626" stroke-width="0.9" />
<line x1="149.7" y1="4.5" x2="149.7" y2="9" stroke="#262626" stroke-width="0.9" />
<line x1="181.91" y1="366" x2="181.91" y2="363.5" stroke="#262626" stroke-width="0.9" />
<line x1="181.91" y1="4.5" x2="181.91" y2="7" stroke="#262626" stroke-width="0.9" />
<line x1="200.75" y1="366" x2="200.75" y2="363.5" stroke="#262626" stroke-width="0.9" />
<line x1="200.75" y1="4.5" x2="200.75" y2="7" stroke="#262626" stroke-width="0.9" />
<line x1="214.12" y1="366" x2="214.12" y2="363.5" stroke="#262626" stroke-width="0.9" />
<line x1="214.12" y1="4.5" x2="214.12" y2="7" stroke="#262626" stroke-width="0.9" />
<line x1="224.49" y1="366" x2="224.49" y2="363.5" stroke="#262626" stroke-width="0.9" />
<line x1="224.49" y1="4.5" x2="224.49" y2="7" stroke="#262626" stroke-width="0.9" />
<line x1="232.96" y1="366" x2="232.96" y2="363.5" stroke="#262626" stroke-width="0.9" />
<line x1="232.96" y1="4.5" x2="232.96" y2="7" stroke="#262626" stroke-width="0.9" />
<line x1="240.13" y1="366" x2="240.13" y2="363.5" stroke="#262626" stroke-width="0.9" />
<line x1="240.13" y1="4.5" x2="240.13" y2="7" stroke="#262626" stroke-width="0.9" />
<line x1="246.33" y1="366" x2="246.33" y2="363.5" stroke="#262626" stroke-width="0.9" />
<line x1="246.33" y1="4.5" x2="246.33" y2="7" stroke="#262626" stroke-width="0.9" />
<line x1="251.8" y1="366" x2="251.8" y2="363.5" stroke="#262626" stroke-width="0.9" />
<line x1="251.8" y1="4.5" x2="251.8" y2="7" stroke="#262626" stroke-width="0.9" />
<line x1="256.7" y1="366" x2="256.7" y2="361.5" stroke="#262626" stroke-width="0.9" />
<line x1="256.7" y1="4.5" x2="256.7" y2="9" stroke="#262626" stroke-width="0.9" />
<line x1="288.91" y1="366" x2="288.91" y2="363.5" stroke="#262626" stroke-width="0.9" />
<line x1="288.91" y1="4.5" x2="288.91" y2="7" stroke="#262626" stroke-width="0.9" />
<line x1="307.75" y1="366" x2="307.75" y2="363.5" stroke="#262626" stroke-width="0.9" />
<line x1="307.75" y1="4.5" x2="307.75" y2="7" stroke="#262626" stroke-width="0.9" />
<line x1="321.12" y1="366" x2="321.12" y2="363.5" stroke="#262626" stroke-width="0.9" />
<line x1="321.12" y1="4.5" x2="321.12" y2="7" stroke="#262626" stroke-width="0.9" />
<line x1="331.49" y1="366" x2="331.49" y2="363.5" stroke="#262626" stroke-width="0.9" />
<line x1="331.49" y1="4.5" x2="331.49" y2="7" stroke="#262626" stroke-width="0.9" />
<line x1="339.96" y1="366" x2="339.96" y2="363.5" stroke="#262626" stroke-width="0.9" />
<line x1="339.96" y1="4.5" x2="339.96" y2="7" stroke="#262626" stroke-width="0.9" />
<line x1="347.13" y1="366" x2="347.13" y2="363.5" stroke="#262626" stroke-width="0.9" />
<line x1="347.13" y1="4.5" x2="347.13" y2="7" stroke="#262626" stroke-width="0.9" />
<line x1="353.33" y1="366" x2="353.33" y2="363.5" stroke="#262626" stroke-width="0.9" />
<line x1="353.33" y1="4.5" x2="353.33" y2="7" stroke="#262626" stroke-width="0.9" />
<line x1="358.8" y1="366" x2="358.8" y2="363.5" stroke="#262626" stroke-width="0.9" />
<line x1="358.8" y1="4.5" x2="358.8" y2="7" stroke="#262626" stroke-width="0.9" />
<line x1="363.7" y1="366" x2="363.7" y2="361.5" stroke="#262626" stroke-width="0.9" />
<line x1="363.7" y1="4.5" x2="363.7" y2="9" stroke="#262626" stroke-width="0.9" />
<line x1="395.91" y1="366" x2="395.91" y2="363.5" stroke="#262626" stroke-width="0.9" />
<line x1="395.91" y1="4.5" x2="395.91" y2="7" stroke="#262626" stroke-width="0.9" />
<line x1="414.75" y1="366" x2="414.75" y2="363.5" stroke="#262626" stroke-width="0.9" />
<line x1="414.75" y1="4.5" x2="414.75" y2="7" stroke="#262626" stroke-width="0.9" />
<line x1="428.12" y1="366" x2="428.12" y2="363.5" stroke="#262626" stroke-width="0.9" />
<line x1="428.12" y1="4.5" x2="428.12" y2="7" stroke="#262626" stroke-width="0.9" />
<line x1="438.49" y1="366" x2="438.49" y2="363.5" stroke="#262626" stroke-width="0.9" />
<line x1="438.49" y1="4.5" x2="438.49" y2="7" stroke="#262626" stroke-width="0.9" />
<line x1="446.96" y1="366" x2="446.96" y2="363.5" stroke="#262626" stroke-width="0.9" />
<line x1="446.96" y1="4.5" x2="446.96" y2="7" stroke="#262626" stroke-width="0.9" />
<line x1="454.13" y1="366" x2="454.13" y2="363.5" stroke="#262626" stroke-width="0.9" />
<line x1="454.13" y1="4.5" x2="454.13" y2="7" stroke="#262626" stroke-width="0.9" />
<line x1="460.33" y1="366" x2="460.33" y2="363.5" stroke="#262626" stroke-width="0.9" />
<line x1="460.33" y1="4.5" x2="460.33" y2="7" stroke="#262626" stroke-width="0.9" />
<line x1="465.8" y1="366" x2="465.8" y2="363.5" stroke="#262626" stroke-width="0.9" />
<line x1="465.8" y1="4.5" x2="465.8" y2="7" stroke="#262626" stroke-width="0.9" />
<line x1="470.7" y1="366" x2="470.7" y2="361.5" stroke="#262626" stroke-width="0.9" />
<line x1="470.7" y1="4.5" x2="470.7" y2="9" stroke="#262626" stroke-width="0.9" />
<line x1="43" y1="314.36" x2="47.5" y2="314.36" stroke="#262626" stroke-width="0.9" />
<line x1="503" y1="314.36" x2="498.5" y2="314.36" stroke="#262626" stroke-width="0.9" />
<line x1="43" y1="262.71" x2="47.5" y2="262.71" stroke="#262626" stroke-width="0.9" />
<line x1="503" y1="262.71" x2="498.5" y2="262.71" stroke="#262626" stroke-width="0.9" />
<line x1="43" y1="211.07" x2="47.5" y2="211.07" stroke="#262626" stroke-width="0.9" />
<line x1="503" y1="211.07" x2="498.5" y2="211.07" stroke="#262626" stroke-width="0.9" />
<line x1="43" y1="159.43" x2="47.5" y2="159.43" stroke="#262626" stroke-width="0.9" />
<line x1="503" y1="159.43" x2="498.5" y2="159.43" stroke="#262626" stroke-width="0.9" />
<line x1="43" y1="107.79" x2="47.5" y2="107.79" stroke="#262626" stroke-width="0.9" />
<line x1="503" y1="107.79" x2="498.5" y2="107.79" stroke="#262626" stroke-width="0.9" />
<line x1="43" y1="56.14" x2="47.5" y2="56.14" stroke="#262626" stroke-width="0.9" />
<line x1="503" y1="56.14" x2="498.5" y2="56.14" stroke="#262626" stroke-width="0.9" />
<text x="38" y="372.6" font-size="15" text-anchor="end" >0</text>
<text x="38" y="320.96" font-size="15" text-anchor="end" >0.2</text>
<text x="38" y="269.31" font-size="15" text-anchor="end" >0.4</text>
<text x="38" y="217.67" font-size="15" text-anchor="end" >0.6</text>
<text x="38" y="166.03" font-size="15" text-anchor="end" >0.8</text>
<text x="38" y="114.39" font-size="15" text-anchor="end" >1</text>
<text x="38" y="62.74" font-size="15" text-anchor="end" >1.2</text>
<text x="38" y="11.1" font-size="15" text-anchor="end" >1.4</text>
<text x="43.2" y="389.7" font-size="14" text-anchor="middle">10<tspan font-size="10" dy="-7">-2</tspan></text>
<text x="150.2" y="389.7" font-size="14" text-anchor="middle">10<tspan font-size="10" dy="-7">-1</tspan></text>
<text x="257.2" y="389.7" font-size="14" text-anchor="middle">10<tspan font-size="10" dy="-7">0</tspan></text>
<text x="364.2" y="389.7" font-size="14" text-anchor="middle">10<tspan font-size="10" dy="-7">1</tspan></text>
<text x="471.2" y="389.7" font-size="14" text-anchor="middle">10<tspan font-size="10" dy="-7">2</tspan></text>
<text x="272.7" y="407" font-size="16.5" text-anchor="middle"><tspan font-style="italic">z</tspan>/<tspan font-style="italic">λ</tspan><tspan font-style="italic" font-size="9.5" dy="2.5">θ</tspan></text>
<text transform="translate(11.3,185) rotate(-90)" font-size="15.5" text-anchor="middle">1 − 2<tspan font-style="italic">θ</tspan></text>
<text x="268.5" y="436.8" font-size="19.5" style="stroke-width:0.25px" textLength="25.3" lengthAdjust="spacingAndGlyphs">(a)</text>
<rect x="53" y="13.8" width="152" height="188.4" fill="#ffffff" stroke="#262626" stroke-width="1.2"/>
<line x1="53" y1="35.2" x2="205" y2="35.2" stroke="#262626" stroke-width="1.2"/>
<text x="71.5" y="29.2" font-size="15" font-weight="bold" textLength="113.5" lengthAdjust="spacing">Sym. / Ra / Loc.</text>
<circle cx="75.5" cy="46" r="3.65" fill="none" stroke="#DE2E18" stroke-width="1.35"/>
<text x="96.4" y="50.8" font-size="14" textLength="104.2" lengthAdjust="spacing">5 × 10<tspan font-size="9.5" dy="-6.5">7</tspan><tspan dy="6.5">, </tspan><tspan font-style="italic">x</tspan><tspan font-style="italic" font-size="9.5" dy="2.5">a</tspan><tspan dy="-2.5"> + 0.1</tspan></text>
<circle cx="75.5" cy="64.2" r="3.65" fill="none" stroke="#E8B020" stroke-width="1.35"/>
<text x="96.4" y="69" font-size="14" textLength="70.8" lengthAdjust="spacing">5 × 10<tspan font-size="9.5" dy="-6.5">7</tspan><tspan dy="6.5">, </tspan>0.5</text>
<circle cx="75.5" cy="82.4" r="3.65" fill="none" stroke="#6218E8" stroke-width="1.35"/>
<text x="96.4" y="87.2" font-size="14" textLength="70.8" lengthAdjust="spacing">5 × 10<tspan font-size="9.5" dy="-6.5">7</tspan><tspan dy="6.5">, </tspan>0.6</text>
<rect x="72.1" y="97.2" width="6.8" height="6.8" fill="none" stroke="#DE2E18" stroke-width="1.35"/>
<text x="96.4" y="105.4" font-size="14" textLength="104.2" lengthAdjust="spacing">5 × 10<tspan font-size="9.5" dy="-6.5">8</tspan><tspan dy="6.5">, </tspan><tspan font-style="italic">x</tspan><tspan font-style="italic" font-size="9.5" dy="2.5">a</tspan><tspan dy="-2.5"> + 0.1</tspan></text>
<rect x="72.1" y="115.4" width="6.8" height="6.8" fill="none" stroke="#E8B020" stroke-width="1.35"/>
<text x="96.4" y="123.6" font-size="14" textLength="70.8" lengthAdjust="spacing">5 × 10<tspan font-size="9.5" dy="-6.5">8</tspan><tspan dy="6.5">, </tspan>0.5</text>
<rect x="72.1" y="133.6" width="6.8" height="6.8" fill="none" stroke="#6218E8" stroke-width="1.35"/>
<text x="96.4" y="141.8" font-size="14" textLength="70.8" lengthAdjust="spacing">5 × 10<tspan font-size="9.5" dy="-6.5">8</tspan><tspan dy="6.5">, </tspan>0.6</text>
<path d="M70.9 152.01H80.1L75.5 159.6Z" fill="none" stroke="#DE2E18" stroke-width="1.35" stroke-linejoin="miter"/>
<text x="96.4" y="160" font-size="14" textLength="104.2" lengthAdjust="spacing">5 × 10<tspan font-size="9.5" dy="-6.5">9</tspan><tspan dy="6.5">, </tspan><tspan font-style="italic">x</tspan><tspan font-style="italic" font-size="9.5" dy="2.5">a</tspan><tspan dy="-2.5"> + 0.1</tspan></text>
<path d="M70.9 170.21H80.1L75.5 177.8Z" fill="none" stroke="#E8B020" stroke-width="1.35" stroke-linejoin="miter"/>
<text x="96.4" y="178.2" font-size="14" textLength="70.8" lengthAdjust="spacing">5 × 10<tspan font-size="9.5" dy="-6.5">9</tspan><tspan dy="6.5">, </tspan>0.5</text>
<path d="M70.9 188.41H80.1L75.5 196Z" fill="none" stroke="#6218E8" stroke-width="1.35" stroke-linejoin="miter"/>
<text x="96.4" y="196.4" font-size="14" textLength="70.8" lengthAdjust="spacing">5 × 10<tspan font-size="9.5" dy="-6.5">9</tspan><tspan dy="6.5">, </tspan>0.6</text>
<rect x="361.6" y="156" width="131.3" height="58.2" fill="#ffffff" stroke="#262626" stroke-width="1.2"/>
<polygon points="384.1,159.6 385.9,164.42 391.04,164.64 387.02,167.85 388.39,172.81 384.1,169.97 379.81,172.81 381.18,167.85 377.16,164.64 382.3,164.42" fill="#000" stroke="#000" stroke-width="0.6" stroke-linejoin="round"/>
<polygon points="384.1,180.2 385.54,182.7 388.43,182.7 386.99,185.2 388.43,187.7 385.54,187.7 384.1,190.2 382.66,187.7 379.77,187.7 381.22,185.2 379.77,182.7 382.66,182.7" fill="#9a9a9a" stroke="#000" stroke-width="2.7" stroke-linejoin="miter" stroke-miterlimit="3"/>
<path d="M384.1 197.3L388.7 203.5L384.1 209.7L379.5 203.5Z" fill="#b5b5b5" stroke="#000" stroke-width="2.4" stroke-linejoin="miter"/>
<text x="405.4" y="171.2" font-size="14.5" textLength="79.8" lengthAdjust="spacing"><tspan font-style="italic">z</tspan><tspan font-size="10" dy="2.5">t,w</tspan><tspan dy="-2.5">@</tspan><tspan font-style="italic">x</tspan> = 0.5</text>
<text x="405.4" y="189.5" font-size="14.5" textLength="82.7" lengthAdjust="spacing"><tspan font-style="italic">z</tspan><tspan font-size="10" dy="2.5">m,b</tspan><tspan dy="-2.5">@</tspan><tspan font-style="italic">x</tspan> = 0.5</text>
<text x="405.4" y="207.8" font-size="14.5" textLength="78.8" lengthAdjust="spacing"><tspan font-style="italic">z</tspan><tspan font-size="10" dy="2.5">t,b</tspan><tspan dy="-2.5">@</tspan><tspan font-style="italic">x</tspan> = 0.5</text>
<line x1="58.66" y1="475" x2="58.66" y2="837" stroke="#c4c4c4" stroke-width="0.7" stroke-dasharray="1 2"/>
<line x1="65.83" y1="475" x2="65.83" y2="837" stroke="#c4c4c4" stroke-width="0.7" stroke-dasharray="1 2"/>
<line x1="72.03" y1="475" x2="72.03" y2="837" stroke="#c4c4c4" stroke-width="0.7" stroke-dasharray="1 2"/>
<line x1="77.5" y1="475" x2="77.5" y2="837" stroke="#c4c4c4" stroke-width="0.7" stroke-dasharray="1 2"/>
<line x1="82.4" y1="475" x2="82.4" y2="837" stroke="#d9d9d9" stroke-width="0.8" />
<line x1="114.61" y1="475" x2="114.61" y2="837" stroke="#c4c4c4" stroke-width="0.7" stroke-dasharray="1 2"/>
<line x1="133.45" y1="475" x2="133.45" y2="837" stroke="#c4c4c4" stroke-width="0.7" stroke-dasharray="1 2"/>
<line x1="146.82" y1="475" x2="146.82" y2="837" stroke="#c4c4c4" stroke-width="0.7" stroke-dasharray="1 2"/>
<line x1="157.19" y1="475" x2="157.19" y2="837" stroke="#c4c4c4" stroke-width="0.7" stroke-dasharray="1 2"/>
<line x1="165.66" y1="475" x2="165.66" y2="837" stroke="#c4c4c4" stroke-width="0.7" stroke-dasharray="1 2"/>
<line x1="172.83" y1="475" x2="172.83" y2="837" stroke="#c4c4c4" stroke-width="0.7" stroke-dasharray="1 2"/>
<line x1="179.03" y1="475" x2="179.03" y2="837" stroke="#c4c4c4" stroke-width="0.7" stroke-dasharray="1 2"/>
<line x1="184.5" y1="475" x2="184.5" y2="837" stroke="#c4c4c4" stroke-width="0.7" stroke-dasharray="1 2"/>
<line x1="189.4" y1="475" x2="189.4" y2="837" stroke="#d9d9d9" stroke-width="0.8" />
<line x1="221.61" y1="475" x2="221.61" y2="837" stroke="#c4c4c4" stroke-width="0.7" stroke-dasharray="1 2"/>
<line x1="240.45" y1="475" x2="240.45" y2="837" stroke="#c4c4c4" stroke-width="0.7" stroke-dasharray="1 2"/>
<line x1="253.82" y1="475" x2="253.82" y2="837" stroke="#c4c4c4" stroke-width="0.7" stroke-dasharray="1 2"/>
<line x1="264.19" y1="475" x2="264.19" y2="837" stroke="#c4c4c4" stroke-width="0.7" stroke-dasharray="1 2"/>
<line x1="272.66" y1="475" x2="272.66" y2="837" stroke="#c4c4c4" stroke-width="0.7" stroke-dasharray="1 2"/>
<line x1="279.83" y1="475" x2="279.83" y2="837" stroke="#c4c4c4" stroke-width="0.7" stroke-dasharray="1 2"/>
<line x1="286.03" y1="475" x2="286.03" y2="837" stroke="#c4c4c4" stroke-width="0.7" stroke-dasharray="1 2"/>
<line x1="291.5" y1="475" x2="291.5" y2="837" stroke="#c4c4c4" stroke-width="0.7" stroke-dasharray="1 2"/>
<line x1="296.4" y1="475" x2="296.4" y2="837" stroke="#d9d9d9" stroke-width="0.8" />
<line x1="328.61" y1="475" x2="328.61" y2="837" stroke="#c4c4c4" stroke-width="0.7" stroke-dasharray="1 2"/>
<line x1="347.45" y1="475" x2="347.45" y2="837" stroke="#c4c4c4" stroke-width="0.7" stroke-dasharray="1 2"/>
<line x1="360.82" y1="475" x2="360.82" y2="837" stroke="#c4c4c4" stroke-width="0.7" stroke-dasharray="1 2"/>
<line x1="371.19" y1="475" x2="371.19" y2="837" stroke="#c4c4c4" stroke-width="0.7" stroke-dasharray="1 2"/>
<line x1="379.66" y1="475" x2="379.66" y2="837" stroke="#c4c4c4" stroke-width="0.7" stroke-dasharray="1 2"/>
<line x1="386.83" y1="475" x2="386.83" y2="837" stroke="#c4c4c4" stroke-width="0.7" stroke-dasharray="1 2"/>
<line x1="393.03" y1="475" x2="393.03" y2="837" stroke="#c4c4c4" stroke-width="0.7" stroke-dasharray="1 2"/>
<line x1="398.5" y1="475" x2="398.5" y2="837" stroke="#c4c4c4" stroke-width="0.7" stroke-dasharray="1 2"/>
<line x1="403.4" y1="475" x2="403.4" y2="837" stroke="#d9d9d9" stroke-width="0.8" />
<line x1="435.61" y1="475" x2="435.61" y2="837" stroke="#c4c4c4" stroke-width="0.7" stroke-dasharray="1 2"/>
<line x1="454.45" y1="475" x2="454.45" y2="837" stroke="#c4c4c4" stroke-width="0.7" stroke-dasharray="1 2"/>
<line x1="467.82" y1="475" x2="467.82" y2="837" stroke="#c4c4c4" stroke-width="0.7" stroke-dasharray="1 2"/>
<line x1="478.19" y1="475" x2="478.19" y2="837" stroke="#c4c4c4" stroke-width="0.7" stroke-dasharray="1 2"/>
<line x1="486.66" y1="475" x2="486.66" y2="837" stroke="#c4c4c4" stroke-width="0.7" stroke-dasharray="1 2"/>
<line x1="493.83" y1="475" x2="493.83" y2="837" stroke="#c4c4c4" stroke-width="0.7" stroke-dasharray="1 2"/>
<line x1="500.03" y1="475" x2="500.03" y2="837" stroke="#c4c4c4" stroke-width="0.7" stroke-dasharray="1 2"/>
<line x1="505.5" y1="475" x2="505.5" y2="837" stroke="#c4c4c4" stroke-width="0.7" stroke-dasharray="1 2"/>
<line x1="50.4" y1="826.82" x2="510.4" y2="826.82" stroke="#c4c4c4" stroke-width="0.7" stroke-dasharray="1 2"/>
<line x1="50.4" y1="818.18" x2="510.4" y2="818.18" stroke="#c4c4c4" stroke-width="0.7" stroke-dasharray="1 2"/>
<line x1="50.4" y1="810.7" x2="510.4" y2="810.7" stroke="#c4c4c4" stroke-width="0.7" stroke-dasharray="1 2"/>
<line x1="50.4" y1="804.1" x2="510.4" y2="804.1" stroke="#c4c4c4" stroke-width="0.7" stroke-dasharray="1 2"/>
<line x1="50.4" y1="798.2" x2="510.4" y2="798.2" stroke="#d9d9d9" stroke-width="0.8" />
<line x1="50.4" y1="759.37" x2="510.4" y2="759.37" stroke="#c4c4c4" stroke-width="0.7" stroke-dasharray="1 2"/>
<line x1="50.4" y1="736.65" x2="510.4" y2="736.65" stroke="#c4c4c4" stroke-width="0.7" stroke-dasharray="1 2"/>
<line x1="50.4" y1="720.53" x2="510.4" y2="720.53" stroke="#c4c4c4" stroke-width="0.7" stroke-dasharray="1 2"/>
<line x1="50.4" y1="708.03" x2="510.4" y2="708.03" stroke="#c4c4c4" stroke-width="0.7" stroke-dasharray="1 2"/>
<line x1="50.4" y1="697.82" x2="510.4" y2="697.82" stroke="#c4c4c4" stroke-width="0.7" stroke-dasharray="1 2"/>
<line x1="50.4" y1="689.18" x2="510.4" y2="689.18" stroke="#c4c4c4" stroke-width="0.7" stroke-dasharray="1 2"/>
<line x1="50.4" y1="681.7" x2="510.4" y2="681.7" stroke="#c4c4c4" stroke-width="0.7" stroke-dasharray="1 2"/>
<line x1="50.4" y1="675.1" x2="510.4" y2="675.1" stroke="#c4c4c4" stroke-width="0.7" stroke-dasharray="1 2"/>
<line x1="50.4" y1="669.2" x2="510.4" y2="669.2" stroke="#d9d9d9" stroke-width="0.8" />
<line x1="50.4" y1="630.37" x2="510.4" y2="630.37" stroke="#c4c4c4" stroke-width="0.7" stroke-dasharray="1 2"/>
<line x1="50.4" y1="607.65" x2="510.4" y2="607.65" stroke="#c4c4c4" stroke-width="0.7" stroke-dasharray="1 2"/>
<line x1="50.4" y1="591.53" x2="510.4" y2="591.53" stroke="#c4c4c4" stroke-width="0.7" stroke-dasharray="1 2"/>
<line x1="50.4" y1="579.03" x2="510.4" y2="579.03" stroke="#c4c4c4" stroke-width="0.7" stroke-dasharray="1 2"/>
<line x1="50.4" y1="568.82" x2="510.4" y2="568.82" stroke="#c4c4c4" stroke-width="0.7" stroke-dasharray="1 2"/>
<line x1="50.4" y1="560.18" x2="510.4" y2="560.18" stroke="#c4c4c4" stroke-width="0.7" stroke-dasharray="1 2"/>
<line x1="50.4" y1="552.7" x2="510.4" y2="552.7" stroke="#c4c4c4" stroke-width="0.7" stroke-dasharray="1 2"/>
<line x1="50.4" y1="546.1" x2="510.4" y2="546.1" stroke="#c4c4c4" stroke-width="0.7" stroke-dasharray="1 2"/>
<line x1="50.4" y1="540.2" x2="510.4" y2="540.2" stroke="#d9d9d9" stroke-width="0.8" />
<line x1="50.4" y1="501.37" x2="510.4" y2="501.37" stroke="#c4c4c4" stroke-width="0.7" stroke-dasharray="1 2"/>
<line x1="50.4" y1="478.65" x2="510.4" y2="478.65" stroke="#c4c4c4" stroke-width="0.7" stroke-dasharray="1 2"/>
<g clip-path="url(#cb)"><line x1="178.7" y1="475.4" x2="507" y2="701.6" stroke="#2a48c8" stroke-width="1.7" stroke-dasharray="7 4.5"/>
<circle cx="121.1" cy="764.87" r="3.65" fill="none" stroke="#DE2E18" stroke-width="1.35"/>
<circle cx="172.16" cy="702.81" r="3.65" fill="none" stroke="#DE2E18" stroke-width="1.35"/>
<circle cx="195.89" cy="673.24" r="3.65" fill="none" stroke="#DE2E18" stroke-width="1.35"/>
<circle cx="211.53" cy="654.16" r="3.65" fill="none" stroke="#DE2E18" stroke-width="1.35"/>
<circle cx="223.21" cy="641.33" r="3.65" fill="none" stroke="#DE2E18" stroke-width="1.35"/>
<circle cx="232.53" cy="630.7" r="3.65" fill="none" stroke="#DE2E18" stroke-width="1.35"/>
<circle cx="240.3" cy="620.65" r="3.65" fill="none" stroke="#DE2E18" stroke-width="1.35"/>
<circle cx="246.95" cy="612.97" r="3.65" fill="none" stroke="#DE2E18" stroke-width="1.35"/>
<circle cx="252.76" cy="606.25" r="3.65" fill="none" stroke="#DE2E18" stroke-width="1.35"/>
<circle cx="257.93" cy="601.9" r="3.65" fill="none" stroke="#DE2E18" stroke-width="1.35"/>
<circle cx="262.58" cy="597.5" r="3.65" fill="none" stroke="#DE2E18" stroke-width="1.35"/>
<circle cx="266.81" cy="593.46" r="3.65" fill="none" stroke="#DE2E18" stroke-width="1.35"/>
<circle cx="270.68" cy="590.23" r="3.65" fill="none" stroke="#DE2E18" stroke-width="1.35"/>
<circle cx="274.26" cy="587.36" r="3.65" fill="none" stroke="#DE2E18" stroke-width="1.35"/>
<circle cx="277.58" cy="584.65" r="3.65" fill="none" stroke="#DE2E18" stroke-width="1.35"/>
<circle cx="280.68" cy="582.61" r="3.65" fill="none" stroke="#DE2E18" stroke-width="1.35"/>
<circle cx="283.59" cy="580.93" r="3.65" fill="none" stroke="#DE2E18" stroke-width="1.35"/>
<circle cx="286.32" cy="579.43" r="3.65" fill="none" stroke="#DE2E18" stroke-width="1.35"/>
<circle cx="288.9" cy="578.16" r="3.65" fill="none" stroke="#DE2E18" stroke-width="1.35"/>
<circle cx="291.35" cy="577.16" r="3.65" fill="none" stroke="#DE2E18" stroke-width="1.35"/>
<circle cx="293.67" cy="576.44" r="3.65" fill="none" stroke="#DE2E18" stroke-width="1.35"/>
<circle cx="295.89" cy="576.01" r="3.65" fill="none" stroke="#DE2E18" stroke-width="1.35"/>
<circle cx="298" cy="575.77" r="3.65" fill="none" stroke="#DE2E18" stroke-width="1.35"/>
<circle cx="300.02" cy="575.55" r="3.65" fill="none" stroke="#DE2E18" stroke-width="1.35"/>
<circle cx="302.02" cy="575.37" r="3.65" fill="none" stroke="#DE2E18" stroke-width="1.35"/>
<circle cx="304.06" cy="575.21" r="3.65" fill="none" stroke="#DE2E18" stroke-width="1.35"/>
<circle cx="306.14" cy="575.09" r="3.65" fill="none" stroke="#DE2E18" stroke-width="1.35"/>
<circle cx="308.26" cy="575.02" r="3.65" fill="none" stroke="#DE2E18" stroke-width="1.35"/>
<circle cx="310.43" cy="575.01" r="3.65" fill="none" stroke="#DE2E18" stroke-width="1.35"/>
<circle cx="312.64" cy="575.23" r="3.65" fill="none" stroke="#DE2E18" stroke-width="1.35"/>
<circle cx="314.89" cy="575.76" r="3.65" fill="none" stroke="#DE2E18" stroke-width="1.35"/>
<circle cx="317.19" cy="576.6" r="3.65" fill="none" stroke="#DE2E18" stroke-width="1.35"/>
<circle cx="319.53" cy="577.72" r="3.65" fill="none" stroke="#DE2E18" stroke-width="1.35"/>
<circle cx="321.92" cy="579.11" r="3.65" fill="none" stroke="#DE2E18" stroke-width="1.35"/>
<circle cx="324.36" cy="580.75" r="3.65" fill="none" stroke="#DE2E18" stroke-width="1.35"/>
<circle cx="326.85" cy="582.61" r="3.65" fill="none" stroke="#DE2E18" stroke-width="1.35"/>
<circle cx="329.39" cy="584.67" r="3.65" fill="none" stroke="#DE2E18" stroke-width="1.35"/>
<circle cx="331.97" cy="586.88" r="3.65" fill="none" stroke="#DE2E18" stroke-width="1.35"/>
<circle cx="334.61" cy="589.22" r="3.65" fill="none" stroke="#DE2E18" stroke-width="1.35"/>
<circle cx="337.31" cy="591.64" r="3.65" fill="none" stroke="#DE2E18" stroke-width="1.35"/>
<circle cx="340.05" cy="594.1" r="3.65" fill="none" stroke="#DE2E18" stroke-width="1.35"/>
<circle cx="342.85" cy="596.52" r="3.65" fill="none" stroke="#DE2E18" stroke-width="1.35"/>
<circle cx="345.71" cy="598.87" r="3.65" fill="none" stroke="#DE2E18" stroke-width="1.35"/>
<circle cx="348.62" cy="601.06" r="3.65" fill="none" stroke="#DE2E18" stroke-width="1.35"/>
<circle cx="351.6" cy="603.06" r="3.65" fill="none" stroke="#DE2E18" stroke-width="1.35"/>
<circle cx="354.63" cy="605.06" r="3.65" fill="none" stroke="#DE2E18" stroke-width="1.35"/>
<circle cx="357.72" cy="607.1" r="3.65" fill="none" stroke="#DE2E18" stroke-width="1.35"/>
<circle cx="360.87" cy="609.17" r="3.65" fill="none" stroke="#DE2E18" stroke-width="1.35"/>
<circle cx="364.14" cy="611.31" r="3.65" fill="none" stroke="#DE2E18" stroke-width="1.35"/>
<circle cx="367.63" cy="613.58" r="3.65" fill="none" stroke="#DE2E18" stroke-width="1.35"/>
<circle cx="371.36" cy="616.02" r="3.65" fill="none" stroke="#DE2E18" stroke-width="1.35"/>
<circle cx="375.35" cy="618.61" r="3.65" fill="none" stroke="#DE2E18" stroke-width="1.35"/>
<circle cx="379.63" cy="621.38" r="3.65" fill="none" stroke="#DE2E18" stroke-width="1.35"/>
<circle cx="384.2" cy="624.34" r="3.65" fill="none" stroke="#DE2E18" stroke-width="1.35"/>
<circle cx="389.1" cy="627.51" r="3.65" fill="none" stroke="#DE2E18" stroke-width="1.35"/>
<circle cx="394.33" cy="630.89" r="3.65" fill="none" stroke="#DE2E18" stroke-width="1.35"/>
<circle cx="399.94" cy="634.5" r="3.65" fill="none" stroke="#DE2E18" stroke-width="1.35"/>
<circle cx="405.93" cy="638.37" r="3.65" fill="none" stroke="#DE2E18" stroke-width="1.35"/>
<circle cx="412.35" cy="642.49" r="3.65" fill="none" stroke="#DE2E18" stroke-width="1.35"/>
<circle cx="419.05" cy="646.47" r="3.65" fill="none" stroke="#DE2E18" stroke-width="1.35"/>
<circle cx="425.75" cy="650.27" r="3.65" fill="none" stroke="#DE2E18" stroke-width="1.35"/>
<circle cx="432.45" cy="654.13" r="3.65" fill="none" stroke="#DE2E18" stroke-width="1.35"/>
<circle cx="439.15" cy="658.31" r="3.65" fill="none" stroke="#DE2E18" stroke-width="1.35"/>
<circle cx="445.85" cy="663.06" r="3.65" fill="none" stroke="#DE2E18" stroke-width="1.35"/>
<circle cx="452.55" cy="668.65" r="3.65" fill="none" stroke="#DE2E18" stroke-width="1.35"/>
<circle cx="459.25" cy="675.67" r="3.65" fill="none" stroke="#DE2E18" stroke-width="1.35"/>
<circle cx="465.95" cy="684.13" r="3.65" fill="none" stroke="#DE2E18" stroke-width="1.35"/>
<circle cx="472.65" cy="693.68" r="3.65" fill="none" stroke="#DE2E18" stroke-width="1.35"/>
<circle cx="479.35" cy="703.97" r="3.65" fill="none" stroke="#DE2E18" stroke-width="1.35"/>
<circle cx="121.1" cy="766.37" r="3.65" fill="none" stroke="#E8B020" stroke-width="1.35"/>
<circle cx="172.16" cy="704.31" r="3.65" fill="none" stroke="#E8B020" stroke-width="1.35"/>
<circle cx="195.89" cy="674.64" r="3.65" fill="none" stroke="#E8B020" stroke-width="1.35"/>
<circle cx="211.53" cy="655.66" r="3.65" fill="none" stroke="#E8B020" stroke-width="1.35"/>
<circle cx="223.21" cy="642.83" r="3.65" fill="none" stroke="#E8B020" stroke-width="1.35"/>
<circle cx="232.53" cy="632.2" r="3.65" fill="none" stroke="#E8B020" stroke-width="1.35"/>
<circle cx="240.3" cy="622.16" r="3.65" fill="none" stroke="#E8B020" stroke-width="1.35"/>
<circle cx="246.95" cy="614.46" r="3.65" fill="none" stroke="#E8B020" stroke-width="1.35"/>
<circle cx="252.76" cy="607.54" r="3.65" fill="none" stroke="#E8B020" stroke-width="1.35"/>
<circle cx="257.93" cy="603.1" r="3.65" fill="none" stroke="#E8B020" stroke-width="1.35"/>
<circle cx="262.58" cy="598.86" r="3.65" fill="none" stroke="#E8B020" stroke-width="1.35"/>
<circle cx="266.81" cy="594.95" r="3.65" fill="none" stroke="#E8B020" stroke-width="1.35"/>
<circle cx="270.68" cy="591.55" r="3.65" fill="none" stroke="#E8B020" stroke-width="1.35"/>
<circle cx="274.26" cy="588.53" r="3.65" fill="none" stroke="#E8B020" stroke-width="1.35"/>
<circle cx="277.58" cy="585.82" r="3.65" fill="none" stroke="#E8B020" stroke-width="1.35"/>
<circle cx="280.68" cy="583.51" r="3.65" fill="none" stroke="#E8B020" stroke-width="1.35"/>
<circle cx="283.59" cy="581.38" r="3.65" fill="none" stroke="#E8B020" stroke-width="1.35"/>
<circle cx="286.32" cy="579.39" r="3.65" fill="none" stroke="#E8B020" stroke-width="1.35"/>
<circle cx="288.9" cy="577.61" r="3.65" fill="none" stroke="#E8B020" stroke-width="1.35"/>
<circle cx="291.35" cy="576.11" r="3.65" fill="none" stroke="#E8B020" stroke-width="1.35"/>
<circle cx="293.67" cy="574.91" r="3.65" fill="none" stroke="#E8B020" stroke-width="1.35"/>
<circle cx="295.89" cy="574.04" r="3.65" fill="none" stroke="#E8B020" stroke-width="1.35"/>
<circle cx="298" cy="573.37" r="3.65" fill="none" stroke="#E8B020" stroke-width="1.35"/>
<circle cx="300.02" cy="572.74" r="3.65" fill="none" stroke="#E8B020" stroke-width="1.35"/>
<circle cx="302.02" cy="572.15" r="3.65" fill="none" stroke="#E8B020" stroke-width="1.35"/>
<circle cx="304.06" cy="571.6" r="3.65" fill="none" stroke="#E8B020" stroke-width="1.35"/>
<circle cx="306.14" cy="571.09" r="3.65" fill="none" stroke="#E8B020" stroke-width="1.35"/>
<circle cx="308.26" cy="570.66" r="3.65" fill="none" stroke="#E8B020" stroke-width="1.35"/>
<circle cx="310.43" cy="570.32" r="3.65" fill="none" stroke="#E8B020" stroke-width="1.35"/>
<circle cx="312.64" cy="570.09" r="3.65" fill="none" stroke="#E8B020" stroke-width="1.35"/>
<circle cx="314.89" cy="570" r="3.65" fill="none" stroke="#E8B020" stroke-width="1.35"/>
<circle cx="317.19" cy="570.11" r="3.65" fill="none" stroke="#E8B020" stroke-width="1.35"/>
<circle cx="319.53" cy="570.44" r="3.65" fill="none" stroke="#E8B020" stroke-width="1.35"/>
<circle cx="321.92" cy="570.98" r="3.65" fill="none" stroke="#E8B020" stroke-width="1.35"/>
<circle cx="324.36" cy="571.7" r="3.65" fill="none" stroke="#E8B020" stroke-width="1.35"/>
<circle cx="326.85" cy="572.58" r="3.65" fill="none" stroke="#E8B020" stroke-width="1.35"/>
<circle cx="329.39" cy="573.58" r="3.65" fill="none" stroke="#E8B020" stroke-width="1.35"/>
<circle cx="331.97" cy="574.68" r="3.65" fill="none" stroke="#E8B020" stroke-width="1.35"/>
<circle cx="334.61" cy="575.83" r="3.65" fill="none" stroke="#E8B020" stroke-width="1.35"/>
<circle cx="337.31" cy="577.21" r="3.65" fill="none" stroke="#E8B020" stroke-width="1.35"/>
<circle cx="340.05" cy="579.08" r="3.65" fill="none" stroke="#E8B020" stroke-width="1.35"/>
<circle cx="342.85" cy="581.3" r="3.65" fill="none" stroke="#E8B020" stroke-width="1.35"/>
<circle cx="345.71" cy="583.67" r="3.65" fill="none" stroke="#E8B020" stroke-width="1.35"/>
<circle cx="348.62" cy="586" r="3.65" fill="none" stroke="#E8B020" stroke-width="1.35"/>
<circle cx="351.6" cy="588.1" r="3.65" fill="none" stroke="#E8B020" stroke-width="1.35"/>
<circle cx="354.63" cy="590.15" r="3.65" fill="none" stroke="#E8B020" stroke-width="1.35"/>
<circle cx="357.72" cy="592.17" r="3.65" fill="none" stroke="#E8B020" stroke-width="1.35"/>
<circle cx="360.87" cy="594.17" r="3.65" fill="none" stroke="#E8B020" stroke-width="1.35"/>
<circle cx="364.14" cy="596.2" r="3.65" fill="none" stroke="#E8B020" stroke-width="1.35"/>
<circle cx="367.63" cy="598.33" r="3.65" fill="none" stroke="#E8B020" stroke-width="1.35"/>
<circle cx="371.36" cy="600.57" r="3.65" fill="none" stroke="#E8B020" stroke-width="1.35"/>
<circle cx="375.35" cy="602.95" r="3.65" fill="none" stroke="#E8B020" stroke-width="1.35"/>
<circle cx="379.63" cy="605.51" r="3.65" fill="none" stroke="#E8B020" stroke-width="1.35"/>
<circle cx="384.2" cy="608.27" r="3.65" fill="none" stroke="#E8B020" stroke-width="1.35"/>
<circle cx="389.1" cy="611.31" r="3.65" fill="none" stroke="#E8B020" stroke-width="1.35"/>
<circle cx="394.33" cy="614.68" r="3.65" fill="none" stroke="#E8B020" stroke-width="1.35"/>
<circle cx="399.94" cy="618.48" r="3.65" fill="none" stroke="#E8B020" stroke-width="1.35"/>
<circle cx="405.93" cy="622.84" r="3.65" fill="none" stroke="#E8B020" stroke-width="1.35"/>
<circle cx="412.35" cy="627.9" r="3.65" fill="none" stroke="#E8B020" stroke-width="1.35"/>
<circle cx="419.05" cy="633.58" r="3.65" fill="none" stroke="#E8B020" stroke-width="1.35"/>
<circle cx="425.75" cy="639.62" r="3.65" fill="none" stroke="#E8B020" stroke-width="1.35"/>
<circle cx="432.45" cy="646" r="3.65" fill="none" stroke="#E8B020" stroke-width="1.35"/>
<circle cx="439.15" cy="652.71" r="3.65" fill="none" stroke="#E8B020" stroke-width="1.35"/>
<circle cx="445.85" cy="659.74" r="3.65" fill="none" stroke="#E8B020" stroke-width="1.35"/>
<circle cx="452.55" cy="667.08" r="3.65" fill="none" stroke="#E8B020" stroke-width="1.35"/>
<circle cx="459.25" cy="674.7" r="3.65" fill="none" stroke="#E8B020" stroke-width="1.35"/>
<circle cx="465.95" cy="682.6" r="3.65" fill="none" stroke="#E8B020" stroke-width="1.35"/>
<circle cx="472.65" cy="690.76" r="3.65" fill="none" stroke="#E8B020" stroke-width="1.35"/>
<circle cx="479.35" cy="699.17" r="3.65" fill="none" stroke="#E8B020" stroke-width="1.35"/>
<circle cx="121.1" cy="772.38" r="3.65" fill="none" stroke="#6218E8" stroke-width="1.35"/>
<circle cx="172.16" cy="710.81" r="3.65" fill="none" stroke="#6218E8" stroke-width="1.35"/>
<circle cx="195.89" cy="681.13" r="3.65" fill="none" stroke="#6218E8" stroke-width="1.35"/>
<circle cx="211.53" cy="661.87" r="3.65" fill="none" stroke="#6218E8" stroke-width="1.35"/>
<circle cx="223.21" cy="649.34" r="3.65" fill="none" stroke="#6218E8" stroke-width="1.35"/>
<circle cx="232.53" cy="637.52" r="3.65" fill="none" stroke="#6218E8" stroke-width="1.35"/>
<circle cx="240.3" cy="627.14" r="3.65" fill="none" stroke="#6218E8" stroke-width="1.35"/>
<circle cx="246.95" cy="619.46" r="3.65" fill="none" stroke="#6218E8" stroke-width="1.35"/>
<circle cx="252.76" cy="612.55" r="3.65" fill="none" stroke="#6218E8" stroke-width="1.35"/>
<circle cx="257.93" cy="608.32" r="3.65" fill="none" stroke="#6218E8" stroke-width="1.35"/>
<circle cx="262.58" cy="604.56" r="3.65" fill="none" stroke="#6218E8" stroke-width="1.35"/>
<circle cx="266.81" cy="600.94" r="3.65" fill="none" stroke="#6218E8" stroke-width="1.35"/>
<circle cx="270.68" cy="597.07" r="3.65" fill="none" stroke="#6218E8" stroke-width="1.35"/>
<circle cx="274.26" cy="593.45" r="3.65" fill="none" stroke="#6218E8" stroke-width="1.35"/>
<circle cx="277.58" cy="590.18" r="3.65" fill="none" stroke="#6218E8" stroke-width="1.35"/>
<circle cx="280.68" cy="586.96" r="3.65" fill="none" stroke="#6218E8" stroke-width="1.35"/>
<circle cx="283.59" cy="583.48" r="3.65" fill="none" stroke="#6218E8" stroke-width="1.35"/>
<circle cx="286.32" cy="580.18" r="3.65" fill="none" stroke="#6218E8" stroke-width="1.35"/>
<circle cx="288.9" cy="577.55" r="3.65" fill="none" stroke="#6218E8" stroke-width="1.35"/>
<circle cx="291.35" cy="575.56" r="3.65" fill="none" stroke="#6218E8" stroke-width="1.35"/>
<circle cx="293.67" cy="573.92" r="3.65" fill="none" stroke="#6218E8" stroke-width="1.35"/>
<circle cx="295.89" cy="572.81" r="3.65" fill="none" stroke="#6218E8" stroke-width="1.35"/>
<circle cx="298" cy="572.17" r="3.65" fill="none" stroke="#6218E8" stroke-width="1.35"/>
<circle cx="300.02" cy="571.68" r="3.65" fill="none" stroke="#6218E8" stroke-width="1.35"/>
<circle cx="302.02" cy="571.27" r="3.65" fill="none" stroke="#6218E8" stroke-width="1.35"/>
<circle cx="304.06" cy="570.91" r="3.65" fill="none" stroke="#6218E8" stroke-width="1.35"/>
<circle cx="306.14" cy="570.58" r="3.65" fill="none" stroke="#6218E8" stroke-width="1.35"/>
<circle cx="308.26" cy="570.27" r="3.65" fill="none" stroke="#6218E8" stroke-width="1.35"/>
<circle cx="310.43" cy="569.93" r="3.65" fill="none" stroke="#6218E8" stroke-width="1.35"/>
<circle cx="312.64" cy="569.55" r="3.65" fill="none" stroke="#6218E8" stroke-width="1.35"/>
<circle cx="314.89" cy="569.15" r="3.65" fill="none" stroke="#6218E8" stroke-width="1.35"/>
<circle cx="317.19" cy="568.75" r="3.65" fill="none" stroke="#6218E8" stroke-width="1.35"/>
<circle cx="319.53" cy="568.4" r="3.65" fill="none" stroke="#6218E8" stroke-width="1.35"/>
<circle cx="321.92" cy="568.14" r="3.65" fill="none" stroke="#6218E8" stroke-width="1.35"/>
<circle cx="324.36" cy="568.01" r="3.65" fill="none" stroke="#6218E8" stroke-width="1.35"/>
<circle cx="326.85" cy="568.06" r="3.65" fill="none" stroke="#6218E8" stroke-width="1.35"/>
<circle cx="329.39" cy="568.35" r="3.65" fill="none" stroke="#6218E8" stroke-width="1.35"/>
<circle cx="331.97" cy="568.84" r="3.65" fill="none" stroke="#6218E8" stroke-width="1.35"/>
<circle cx="334.61" cy="569.52" r="3.65" fill="none" stroke="#6218E8" stroke-width="1.35"/>
<circle cx="337.31" cy="570.34" r="3.65" fill="none" stroke="#6218E8" stroke-width="1.35"/>
<circle cx="340.05" cy="571.3" r="3.65" fill="none" stroke="#6218E8" stroke-width="1.35"/>
<circle cx="342.85" cy="572.34" r="3.65" fill="none" stroke="#6218E8" stroke-width="1.35"/>
<circle cx="345.71" cy="573.42" r="3.65" fill="none" stroke="#6218E8" stroke-width="1.35"/>
<circle cx="348.62" cy="574.51" r="3.65" fill="none" stroke="#6218E8" stroke-width="1.35"/>
<circle cx="351.6" cy="575.56" r="3.65" fill="none" stroke="#6218E8" stroke-width="1.35"/>
<circle cx="354.63" cy="576.66" r="3.65" fill="none" stroke="#6218E8" stroke-width="1.35"/>
<circle cx="357.72" cy="577.81" r="3.65" fill="none" stroke="#6218E8" stroke-width="1.35"/>
<circle cx="360.87" cy="579.04" r="3.65" fill="none" stroke="#6218E8" stroke-width="1.35"/>
<circle cx="364.14" cy="580.36" r="3.65" fill="none" stroke="#6218E8" stroke-width="1.35"/>
<circle cx="367.63" cy="581.83" r="3.65" fill="none" stroke="#6218E8" stroke-width="1.35"/>
<circle cx="371.36" cy="583.47" r="3.65" fill="none" stroke="#6218E8" stroke-width="1.35"/>
<circle cx="375.35" cy="585.32" r="3.65" fill="none" stroke="#6218E8" stroke-width="1.35"/>
<circle cx="379.63" cy="587.4" r="3.65" fill="none" stroke="#6218E8" stroke-width="1.35"/>
<circle cx="384.2" cy="589.76" r="3.65" fill="none" stroke="#6218E8" stroke-width="1.35"/>
<circle cx="389.1" cy="592.45" r="3.65" fill="none" stroke="#6218E8" stroke-width="1.35"/>
<circle cx="394.33" cy="595.51" r="3.65" fill="none" stroke="#6218E8" stroke-width="1.35"/>
<circle cx="399.94" cy="599.03" r="3.65" fill="none" stroke="#6218E8" stroke-width="1.35"/>
<circle cx="405.93" cy="603.08" r="3.65" fill="none" stroke="#6218E8" stroke-width="1.35"/>
<circle cx="412.35" cy="607.82" r="3.65" fill="none" stroke="#6218E8" stroke-width="1.35"/>
<circle cx="419.05" cy="613.93" r="3.65" fill="none" stroke="#6218E8" stroke-width="1.35"/>
<circle cx="425.75" cy="621.19" r="3.65" fill="none" stroke="#6218E8" stroke-width="1.35"/>
<circle cx="432.45" cy="629.36" r="3.65" fill="none" stroke="#6218E8" stroke-width="1.35"/>
<circle cx="439.15" cy="638.2" r="3.65" fill="none" stroke="#6218E8" stroke-width="1.35"/>
<circle cx="445.85" cy="647.6" r="3.65" fill="none" stroke="#6218E8" stroke-width="1.35"/>
<circle cx="452.55" cy="658.85" r="3.65" fill="none" stroke="#6218E8" stroke-width="1.35"/>
<circle cx="459.25" cy="670.47" r="3.65" fill="none" stroke="#6218E8" stroke-width="1.35"/>
<circle cx="465.95" cy="682.72" r="3.65" fill="none" stroke="#6218E8" stroke-width="1.35"/>
<circle cx="472.65" cy="691.95" r="3.65" fill="none" stroke="#6218E8" stroke-width="1.35"/>
<circle cx="479.35" cy="696" r="3.65" fill="none" stroke="#6218E8" stroke-width="1.35"/>
<rect x="117.7" y="728.96" width="6.8" height="6.8" fill="none" stroke="#DE2E18" stroke-width="1.35"/>
<rect x="168.76" y="657.37" width="6.8" height="6.8" fill="none" stroke="#DE2E18" stroke-width="1.35"/>
<rect x="192.49" y="622.24" width="6.8" height="6.8" fill="none" stroke="#DE2E18" stroke-width="1.35"/>
<rect x="208.13" y="603.16" width="6.8" height="6.8" fill="none" stroke="#DE2E18" stroke-width="1.35"/>
<rect x="219.81" y="589.58" width="6.8" height="6.8" fill="none" stroke="#DE2E18" stroke-width="1.35"/>
<rect x="229.13" y="579.44" width="6.8" height="6.8" fill="none" stroke="#DE2E18" stroke-width="1.35"/>
<rect x="236.9" y="571.77" width="6.8" height="6.8" fill="none" stroke="#DE2E18" stroke-width="1.35"/>
<rect x="243.55" y="565.78" width="6.8" height="6.8" fill="none" stroke="#DE2E18" stroke-width="1.35"/>
<rect x="249.36" y="561.14" width="6.8" height="6.8" fill="none" stroke="#DE2E18" stroke-width="1.35"/>
<rect x="254.53" y="557.55" width="6.8" height="6.8" fill="none" stroke="#DE2E18" stroke-width="1.35"/>
<rect x="259.18" y="554.38" width="6.8" height="6.8" fill="none" stroke="#DE2E18" stroke-width="1.35"/>
<rect x="263.41" y="552.7" width="6.8" height="6.8" fill="none" stroke="#DE2E18" stroke-width="1.35"/>
<rect x="267.28" y="552.83" width="6.8" height="6.8" fill="none" stroke="#DE2E18" stroke-width="1.35"/>
<rect x="270.86" y="553.76" width="6.8" height="6.8" fill="none" stroke="#DE2E18" stroke-width="1.35"/>
<rect x="274.18" y="555.11" width="6.8" height="6.8" fill="none" stroke="#DE2E18" stroke-width="1.35"/>
<rect x="277.28" y="556.65" width="6.8" height="6.8" fill="none" stroke="#DE2E18" stroke-width="1.35"/>
<rect x="280.19" y="558.22" width="6.8" height="6.8" fill="none" stroke="#DE2E18" stroke-width="1.35"/>
<rect x="282.92" y="559.71" width="6.8" height="6.8" fill="none" stroke="#DE2E18" stroke-width="1.35"/>
<rect x="285.5" y="561.06" width="6.8" height="6.8" fill="none" stroke="#DE2E18" stroke-width="1.35"/>
<rect x="287.95" y="562.25" width="6.8" height="6.8" fill="none" stroke="#DE2E18" stroke-width="1.35"/>
<rect x="290.27" y="563.41" width="6.8" height="6.8" fill="none" stroke="#DE2E18" stroke-width="1.35"/>
<rect x="292.49" y="564.55" width="6.8" height="6.8" fill="none" stroke="#DE2E18" stroke-width="1.35"/>
<rect x="294.6" y="565.68" width="6.8" height="6.8" fill="none" stroke="#DE2E18" stroke-width="1.35"/>
<rect x="296.62" y="566.78" width="6.8" height="6.8" fill="none" stroke="#DE2E18" stroke-width="1.35"/>
<rect x="298.62" y="567.91" width="6.8" height="6.8" fill="none" stroke="#DE2E18" stroke-width="1.35"/>
<rect x="300.66" y="569.08" width="6.8" height="6.8" fill="none" stroke="#DE2E18" stroke-width="1.35"/>
<rect x="302.74" y="570.3" width="6.8" height="6.8" fill="none" stroke="#DE2E18" stroke-width="1.35"/>
<rect x="304.86" y="571.57" width="6.8" height="6.8" fill="none" stroke="#DE2E18" stroke-width="1.35"/>
<rect x="307.03" y="572.88" width="6.8" height="6.8" fill="none" stroke="#DE2E18" stroke-width="1.35"/>
<rect x="309.24" y="574.25" width="6.8" height="6.8" fill="none" stroke="#DE2E18" stroke-width="1.35"/>
<rect x="311.49" y="575.66" width="6.8" height="6.8" fill="none" stroke="#DE2E18" stroke-width="1.35"/>
<rect x="313.79" y="577.12" width="6.8" height="6.8" fill="none" stroke="#DE2E18" stroke-width="1.35"/>
<rect x="316.13" y="578.63" width="6.8" height="6.8" fill="none" stroke="#DE2E18" stroke-width="1.35"/>
<rect x="318.52" y="580.18" width="6.8" height="6.8" fill="none" stroke="#DE2E18" stroke-width="1.35"/>
<rect x="320.96" y="581.78" width="6.8" height="6.8" fill="none" stroke="#DE2E18" stroke-width="1.35"/>
<rect x="323.45" y="583.42" width="6.8" height="6.8" fill="none" stroke="#DE2E18" stroke-width="1.35"/>
<rect x="325.99" y="585.09" width="6.8" height="6.8" fill="none" stroke="#DE2E18" stroke-width="1.35"/>
<rect x="328.57" y="586.81" width="6.8" height="6.8" fill="none" stroke="#DE2E18" stroke-width="1.35"/>
<rect x="331.21" y="588.56" width="6.8" height="6.8" fill="none" stroke="#DE2E18" stroke-width="1.35"/>
<rect x="333.91" y="590.35" width="6.8" height="6.8" fill="none" stroke="#DE2E18" stroke-width="1.35"/>
<rect x="336.65" y="592.16" width="6.8" height="6.8" fill="none" stroke="#DE2E18" stroke-width="1.35"/>
<rect x="339.45" y="594" width="6.8" height="6.8" fill="none" stroke="#DE2E18" stroke-width="1.35"/>
<rect x="342.31" y="595.85" width="6.8" height="6.8" fill="none" stroke="#DE2E18" stroke-width="1.35"/>
<rect x="345.22" y="597.73" width="6.8" height="6.8" fill="none" stroke="#DE2E18" stroke-width="1.35"/>
<rect x="348.2" y="599.61" width="6.8" height="6.8" fill="none" stroke="#DE2E18" stroke-width="1.35"/>
<rect x="351.23" y="601.52" width="6.8" height="6.8" fill="none" stroke="#DE2E18" stroke-width="1.35"/>
<rect x="354.32" y="603.45" width="6.8" height="6.8" fill="none" stroke="#DE2E18" stroke-width="1.35"/>
<rect x="357.47" y="605.42" width="6.8" height="6.8" fill="none" stroke="#DE2E18" stroke-width="1.35"/>
<rect x="360.74" y="607.45" width="6.8" height="6.8" fill="none" stroke="#DE2E18" stroke-width="1.35"/>
<rect x="364.23" y="609.63" width="6.8" height="6.8" fill="none" stroke="#DE2E18" stroke-width="1.35"/>
<rect x="367.96" y="611.96" width="6.8" height="6.8" fill="none" stroke="#DE2E18" stroke-width="1.35"/>
<rect x="371.95" y="614.47" width="6.8" height="6.8" fill="none" stroke="#DE2E18" stroke-width="1.35"/>
<rect x="376.23" y="617.17" width="6.8" height="6.8" fill="none" stroke="#DE2E18" stroke-width="1.35"/>
<rect x="380.8" y="620.09" width="6.8" height="6.8" fill="none" stroke="#DE2E18" stroke-width="1.35"/>
<rect x="385.7" y="623.26" width="6.8" height="6.8" fill="none" stroke="#DE2E18" stroke-width="1.35"/>
<rect x="390.93" y="626.72" width="6.8" height="6.8" fill="none" stroke="#DE2E18" stroke-width="1.35"/>
<rect x="396.54" y="630.51" width="6.8" height="6.8" fill="none" stroke="#DE2E18" stroke-width="1.35"/>
<rect x="402.53" y="634.68" width="6.8" height="6.8" fill="none" stroke="#DE2E18" stroke-width="1.35"/>
<rect x="408.95" y="639.31" width="6.8" height="6.8" fill="none" stroke="#DE2E18" stroke-width="1.35"/>
<rect x="415.65" y="644.28" width="6.8" height="6.8" fill="none" stroke="#DE2E18" stroke-width="1.35"/>
<rect x="422.35" y="649.4" width="6.8" height="6.8" fill="none" stroke="#DE2E18" stroke-width="1.35"/>
<rect x="429.05" y="654.72" width="6.8" height="6.8" fill="none" stroke="#DE2E18" stroke-width="1.35"/>
<rect x="435.75" y="660.26" width="6.8" height="6.8" fill="none" stroke="#DE2E18" stroke-width="1.35"/>
<rect x="442.45" y="666.07" width="6.8" height="6.8" fill="none" stroke="#DE2E18" stroke-width="1.35"/>
<rect x="449.15" y="672.18" width="6.8" height="6.8" fill="none" stroke="#DE2E18" stroke-width="1.35"/>
<rect x="455.85" y="678.74" width="6.8" height="6.8" fill="none" stroke="#DE2E18" stroke-width="1.35"/>
<rect x="462.55" y="685.75" width="6.8" height="6.8" fill="none" stroke="#DE2E18" stroke-width="1.35"/>
<rect x="469.25" y="693.14" width="6.8" height="6.8" fill="none" stroke="#DE2E18" stroke-width="1.35"/>
<rect x="475.95" y="700.84" width="6.8" height="6.8" fill="none" stroke="#DE2E18" stroke-width="1.35"/>
<rect x="117.7" y="747.92" width="6.8" height="6.8" fill="none" stroke="#E8B020" stroke-width="1.35"/>
<rect x="168.76" y="664.35" width="6.8" height="6.8" fill="none" stroke="#E8B020" stroke-width="1.35"/>
<rect x="192.49" y="626.74" width="6.8" height="6.8" fill="none" stroke="#E8B020" stroke-width="1.35"/>
<rect x="208.13" y="608.14" width="6.8" height="6.8" fill="none" stroke="#E8B020" stroke-width="1.35"/>
<rect x="219.81" y="594.88" width="6.8" height="6.8" fill="none" stroke="#E8B020" stroke-width="1.35"/>
<rect x="229.13" y="584.62" width="6.8" height="6.8" fill="none" stroke="#E8B020" stroke-width="1.35"/>
<rect x="236.9" y="576.28" width="6.8" height="6.8" fill="none" stroke="#E8B020" stroke-width="1.35"/>
<rect x="243.55" y="569.76" width="6.8" height="6.8" fill="none" stroke="#E8B020" stroke-width="1.35"/>
<rect x="249.36" y="564.5" width="6.8" height="6.8" fill="none" stroke="#E8B020" stroke-width="1.35"/>
<rect x="254.53" y="560.2" width="6.8" height="6.8" fill="none" stroke="#E8B020" stroke-width="1.35"/>
<rect x="259.18" y="556.62" width="6.8" height="6.8" fill="none" stroke="#E8B020" stroke-width="1.35"/>
<rect x="263.41" y="553.4" width="6.8" height="6.8" fill="none" stroke="#E8B020" stroke-width="1.35"/>
<rect x="267.28" y="550.77" width="6.8" height="6.8" fill="none" stroke="#E8B020" stroke-width="1.35"/>
<rect x="270.86" y="548.9" width="6.8" height="6.8" fill="none" stroke="#E8B020" stroke-width="1.35"/>
<rect x="274.18" y="547.61" width="6.8" height="6.8" fill="none" stroke="#E8B020" stroke-width="1.35"/>
<rect x="277.28" y="546.48" width="6.8" height="6.8" fill="none" stroke="#E8B020" stroke-width="1.35"/>
<rect x="280.19" y="545.57" width="6.8" height="6.8" fill="none" stroke="#E8B020" stroke-width="1.35"/>
<rect x="282.92" y="544.94" width="6.8" height="6.8" fill="none" stroke="#E8B020" stroke-width="1.35"/>
<rect x="285.5" y="544.63" width="6.8" height="6.8" fill="none" stroke="#E8B020" stroke-width="1.35"/>
<rect x="287.95" y="544.64" width="6.8" height="6.8" fill="none" stroke="#E8B020" stroke-width="1.35"/>
<rect x="290.27" y="544.88" width="6.8" height="6.8" fill="none" stroke="#E8B020" stroke-width="1.35"/>
<rect x="292.49" y="545.31" width="6.8" height="6.8" fill="none" stroke="#E8B020" stroke-width="1.35"/>
<rect x="294.6" y="545.89" width="6.8" height="6.8" fill="none" stroke="#E8B020" stroke-width="1.35"/>
<rect x="296.62" y="546.59" width="6.8" height="6.8" fill="none" stroke="#E8B020" stroke-width="1.35"/>
<rect x="298.62" y="547.42" width="6.8" height="6.8" fill="none" stroke="#E8B020" stroke-width="1.35"/>
<rect x="300.66" y="548.38" width="6.8" height="6.8" fill="none" stroke="#E8B020" stroke-width="1.35"/>
<rect x="302.74" y="549.49" width="6.8" height="6.8" fill="none" stroke="#E8B020" stroke-width="1.35"/>
<rect x="304.86" y="550.73" width="6.8" height="6.8" fill="none" stroke="#E8B020" stroke-width="1.35"/>
<rect x="307.03" y="552.1" width="6.8" height="6.8" fill="none" stroke="#E8B020" stroke-width="1.35"/>
<rect x="309.24" y="553.61" width="6.8" height="6.8" fill="none" stroke="#E8B020" stroke-width="1.35"/>
<rect x="311.49" y="555.24" width="6.8" height="6.8" fill="none" stroke="#E8B020" stroke-width="1.35"/>
<rect x="313.79" y="556.99" width="6.8" height="6.8" fill="none" stroke="#E8B020" stroke-width="1.35"/>
<rect x="316.13" y="558.85" width="6.8" height="6.8" fill="none" stroke="#E8B020" stroke-width="1.35"/>
<rect x="318.52" y="560.81" width="6.8" height="6.8" fill="none" stroke="#E8B020" stroke-width="1.35"/>
<rect x="320.96" y="562.86" width="6.8" height="6.8" fill="none" stroke="#E8B020" stroke-width="1.35"/>
<rect x="323.45" y="564.99" width="6.8" height="6.8" fill="none" stroke="#E8B020" stroke-width="1.35"/>
<rect x="325.99" y="567.18" width="6.8" height="6.8" fill="none" stroke="#E8B020" stroke-width="1.35"/>
<rect x="328.57" y="569.42" width="6.8" height="6.8" fill="none" stroke="#E8B020" stroke-width="1.35"/>
<rect x="331.21" y="571.69" width="6.8" height="6.8" fill="none" stroke="#E8B020" stroke-width="1.35"/>
<rect x="333.91" y="573.97" width="6.8" height="6.8" fill="none" stroke="#E8B020" stroke-width="1.35"/>
<rect x="336.65" y="576.24" width="6.8" height="6.8" fill="none" stroke="#E8B020" stroke-width="1.35"/>
<rect x="339.45" y="578.47" width="6.8" height="6.8" fill="none" stroke="#E8B020" stroke-width="1.35"/>
<rect x="342.31" y="580.63" width="6.8" height="6.8" fill="none" stroke="#E8B020" stroke-width="1.35"/>
<rect x="345.22" y="582.69" width="6.8" height="6.8" fill="none" stroke="#E8B020" stroke-width="1.35"/>
<rect x="348.2" y="584.62" width="6.8" height="6.8" fill="none" stroke="#E8B020" stroke-width="1.35"/>
<rect x="351.23" y="586.51" width="6.8" height="6.8" fill="none" stroke="#E8B020" stroke-width="1.35"/>
<rect x="354.32" y="588.36" width="6.8" height="6.8" fill="none" stroke="#E8B020" stroke-width="1.35"/>
<rect x="357.47" y="590.18" width="6.8" height="6.8" fill="none" stroke="#E8B020" stroke-width="1.35"/>
<rect x="360.74" y="592.02" width="6.8" height="6.8" fill="none" stroke="#E8B020" stroke-width="1.35"/>
<rect x="364.23" y="593.96" width="6.8" height="6.8" fill="none" stroke="#E8B020" stroke-width="1.35"/>
<rect x="367.96" y="596.01" width="6.8" height="6.8" fill="none" stroke="#E8B020" stroke-width="1.35"/>
<rect x="371.95" y="598.22" width="6.8" height="6.8" fill="none" stroke="#E8B020" stroke-width="1.35"/>
<rect x="376.23" y="600.63" width="6.8" height="6.8" fill="none" stroke="#E8B020" stroke-width="1.35"/>
<rect x="380.8" y="603.31" width="6.8" height="6.8" fill="none" stroke="#E8B020" stroke-width="1.35"/>
<rect x="385.7" y="606.34" width="6.8" height="6.8" fill="none" stroke="#E8B020" stroke-width="1.35"/>
<rect x="390.93" y="609.84" width="6.8" height="6.8" fill="none" stroke="#E8B020" stroke-width="1.35"/>
<rect x="396.54" y="613.96" width="6.8" height="6.8" fill="none" stroke="#E8B020" stroke-width="1.35"/>
<rect x="402.53" y="618.89" width="6.8" height="6.8" fill="none" stroke="#E8B020" stroke-width="1.35"/>
<rect x="408.95" y="624.98" width="6.8" height="6.8" fill="none" stroke="#E8B020" stroke-width="1.35"/>
<rect x="415.65" y="633.17" width="6.8" height="6.8" fill="none" stroke="#E8B020" stroke-width="1.35"/>
<rect x="422.35" y="643.12" width="6.8" height="6.8" fill="none" stroke="#E8B020" stroke-width="1.35"/>
<rect x="429.05" y="654.35" width="6.8" height="6.8" fill="none" stroke="#E8B020" stroke-width="1.35"/>
<rect x="435.75" y="666.43" width="6.8" height="6.8" fill="none" stroke="#E8B020" stroke-width="1.35"/>
<rect x="442.45" y="678.89" width="6.8" height="6.8" fill="none" stroke="#E8B020" stroke-width="1.35"/>
<rect x="449.15" y="691.64" width="6.8" height="6.8" fill="none" stroke="#E8B020" stroke-width="1.35"/>
<rect x="455.85" y="706.87" width="6.8" height="6.8" fill="none" stroke="#E8B020" stroke-width="1.35"/>
<rect x="462.55" y="722.07" width="6.8" height="6.8" fill="none" stroke="#E8B020" stroke-width="1.35"/>
<rect x="469.25" y="733.58" width="6.8" height="6.8" fill="none" stroke="#E8B020" stroke-width="1.35"/>
<rect x="475.95" y="739.6" width="6.8" height="6.8" fill="none" stroke="#E8B020" stroke-width="1.35"/>
<rect x="117.7" y="740.46" width="6.8" height="6.8" fill="none" stroke="#6218E8" stroke-width="1.35"/>
<rect x="168.76" y="668.17" width="6.8" height="6.8" fill="none" stroke="#6218E8" stroke-width="1.35"/>
<rect x="192.49" y="631.24" width="6.8" height="6.8" fill="none" stroke="#6218E8" stroke-width="1.35"/>
<rect x="208.13" y="612.18" width="6.8" height="6.8" fill="none" stroke="#6218E8" stroke-width="1.35"/>
<rect x="219.81" y="597.08" width="6.8" height="6.8" fill="none" stroke="#6218E8" stroke-width="1.35"/>
<rect x="229.13" y="585.63" width="6.8" height="6.8" fill="none" stroke="#6218E8" stroke-width="1.35"/>
<rect x="236.9" y="576.86" width="6.8" height="6.8" fill="none" stroke="#6218E8" stroke-width="1.35"/>
<rect x="243.55" y="569.75" width="6.8" height="6.8" fill="none" stroke="#6218E8" stroke-width="1.35"/>
<rect x="249.36" y="563.72" width="6.8" height="6.8" fill="none" stroke="#6218E8" stroke-width="1.35"/>
<rect x="254.53" y="558.39" width="6.8" height="6.8" fill="none" stroke="#6218E8" stroke-width="1.35"/>
<rect x="259.18" y="554.32" width="6.8" height="6.8" fill="none" stroke="#6218E8" stroke-width="1.35"/>
<rect x="263.41" y="551.67" width="6.8" height="6.8" fill="none" stroke="#6218E8" stroke-width="1.35"/>
<rect x="267.28" y="549.74" width="6.8" height="6.8" fill="none" stroke="#6218E8" stroke-width="1.35"/>
<rect x="270.86" y="547.99" width="6.8" height="6.8" fill="none" stroke="#6218E8" stroke-width="1.35"/>
<rect x="274.18" y="546" width="6.8" height="6.8" fill="none" stroke="#6218E8" stroke-width="1.35"/>
<rect x="277.28" y="543.77" width="6.8" height="6.8" fill="none" stroke="#6218E8" stroke-width="1.35"/>
<rect x="280.19" y="541.77" width="6.8" height="6.8" fill="none" stroke="#6218E8" stroke-width="1.35"/>
<rect x="282.92" y="540.32" width="6.8" height="6.8" fill="none" stroke="#6218E8" stroke-width="1.35"/>
<rect x="285.5" y="539.64" width="6.8" height="6.8" fill="none" stroke="#6218E8" stroke-width="1.35"/>
<rect x="287.95" y="539.6" width="6.8" height="6.8" fill="none" stroke="#6218E8" stroke-width="1.35"/>
<rect x="290.27" y="539.6" width="6.8" height="6.8" fill="none" stroke="#6218E8" stroke-width="1.35"/>
<rect x="292.49" y="539.6" width="6.8" height="6.8" fill="none" stroke="#6218E8" stroke-width="1.35"/>
<rect x="294.6" y="539.6" width="6.8" height="6.8" fill="none" stroke="#6218E8" stroke-width="1.35"/>
<rect x="296.62" y="539.6" width="6.8" height="6.8" fill="none" stroke="#6218E8" stroke-width="1.35"/>
<rect x="298.62" y="539.6" width="6.8" height="6.8" fill="none" stroke="#6218E8" stroke-width="1.35"/>
<rect x="300.66" y="539.6" width="6.8" height="6.8" fill="none" stroke="#6218E8" stroke-width="1.35"/>
<rect x="302.74" y="539.64" width="6.8" height="6.8" fill="none" stroke="#6218E8" stroke-width="1.35"/>
<rect x="304.86" y="539.96" width="6.8" height="6.8" fill="none" stroke="#6218E8" stroke-width="1.35"/>
<rect x="307.03" y="540.56" width="6.8" height="6.8" fill="none" stroke="#6218E8" stroke-width="1.35"/>
<rect x="309.24" y="541.45" width="6.8" height="6.8" fill="none" stroke="#6218E8" stroke-width="1.35"/>
<rect x="311.49" y="542.62" width="6.8" height="6.8" fill="none" stroke="#6218E8" stroke-width="1.35"/>
<rect x="313.79" y="544.04" width="6.8" height="6.8" fill="none" stroke="#6218E8" stroke-width="1.35"/>
<rect x="316.13" y="545.72" width="6.8" height="6.8" fill="none" stroke="#6218E8" stroke-width="1.35"/>
<rect x="318.52" y="547.62" width="6.8" height="6.8" fill="none" stroke="#6218E8" stroke-width="1.35"/>
<rect x="320.96" y="549.74" width="6.8" height="6.8" fill="none" stroke="#6218E8" stroke-width="1.35"/>
<rect x="323.45" y="552.03" width="6.8" height="6.8" fill="none" stroke="#6218E8" stroke-width="1.35"/>
<rect x="325.99" y="554.49" width="6.8" height="6.8" fill="none" stroke="#6218E8" stroke-width="1.35"/>
<rect x="328.57" y="557.06" width="6.8" height="6.8" fill="none" stroke="#6218E8" stroke-width="1.35"/>
<rect x="331.21" y="559.72" width="6.8" height="6.8" fill="none" stroke="#6218E8" stroke-width="1.35"/>
<rect x="333.91" y="562.42" width="6.8" height="6.8" fill="none" stroke="#6218E8" stroke-width="1.35"/>
<rect x="336.65" y="565.12" width="6.8" height="6.8" fill="none" stroke="#6218E8" stroke-width="1.35"/>
<rect x="339.45" y="567.75" width="6.8" height="6.8" fill="none" stroke="#6218E8" stroke-width="1.35"/>
<rect x="342.31" y="570.27" width="6.8" height="6.8" fill="none" stroke="#6218E8" stroke-width="1.35"/>
<rect x="345.22" y="572.6" width="6.8" height="6.8" fill="none" stroke="#6218E8" stroke-width="1.35"/>
<rect x="348.2" y="574.7" width="6.8" height="6.8" fill="none" stroke="#6218E8" stroke-width="1.35"/>
<rect x="351.23" y="576.73" width="6.8" height="6.8" fill="none" stroke="#6218E8" stroke-width="1.35"/>
<rect x="354.32" y="578.7" width="6.8" height="6.8" fill="none" stroke="#6218E8" stroke-width="1.35"/>
<rect x="357.47" y="580.64" width="6.8" height="6.8" fill="none" stroke="#6218E8" stroke-width="1.35"/>
<rect x="360.74" y="582.57" width="6.8" height="6.8" fill="none" stroke="#6218E8" stroke-width="1.35"/>
<rect x="364.23" y="584.58" width="6.8" height="6.8" fill="none" stroke="#6218E8" stroke-width="1.35"/>
<rect x="367.96" y="586.7" width="6.8" height="6.8" fill="none" stroke="#6218E8" stroke-width="1.35"/>
<rect x="371.95" y="588.95" width="6.8" height="6.8" fill="none" stroke="#6218E8" stroke-width="1.35"/>
<rect x="376.23" y="591.38" width="6.8" height="6.8" fill="none" stroke="#6218E8" stroke-width="1.35"/>
<rect x="380.8" y="594.04" width="6.8" height="6.8" fill="none" stroke="#6218E8" stroke-width="1.35"/>
<rect x="385.7" y="597.02" width="6.8" height="6.8" fill="none" stroke="#6218E8" stroke-width="1.35"/>
<rect x="390.93" y="600.41" width="6.8" height="6.8" fill="none" stroke="#6218E8" stroke-width="1.35"/>
<rect x="396.54" y="604.37" width="6.8" height="6.8" fill="none" stroke="#6218E8" stroke-width="1.35"/>
<rect x="402.53" y="609.08" width="6.8" height="6.8" fill="none" stroke="#6218E8" stroke-width="1.35"/>
<rect x="408.95" y="614.87" width="6.8" height="6.8" fill="none" stroke="#6218E8" stroke-width="1.35"/>
<rect x="415.65" y="622.76" width="6.8" height="6.8" fill="none" stroke="#6218E8" stroke-width="1.35"/>
<rect x="422.35" y="632.26" width="6.8" height="6.8" fill="none" stroke="#6218E8" stroke-width="1.35"/>
<rect x="429.05" y="642.75" width="6.8" height="6.8" fill="none" stroke="#6218E8" stroke-width="1.35"/>
<rect x="435.75" y="653.6" width="6.8" height="6.8" fill="none" stroke="#6218E8" stroke-width="1.35"/>
<rect x="442.45" y="664.18" width="6.8" height="6.8" fill="none" stroke="#6218E8" stroke-width="1.35"/>
<rect x="449.15" y="673.86" width="6.8" height="6.8" fill="none" stroke="#6218E8" stroke-width="1.35"/>
<rect x="455.85" y="682.03" width="6.8" height="6.8" fill="none" stroke="#6218E8" stroke-width="1.35"/>
<rect x="462.55" y="689.01" width="6.8" height="6.8" fill="none" stroke="#6218E8" stroke-width="1.35"/>
<rect x="469.25" y="695.34" width="6.8" height="6.8" fill="none" stroke="#6218E8" stroke-width="1.35"/>
<rect x="475.95" y="701.07" width="6.8" height="6.8" fill="none" stroke="#6218E8" stroke-width="1.35"/>
<path d="M77.8 694.31H87L82.4 701.9Z" fill="none" stroke="#DE2E18" stroke-width="1.35" stroke-linejoin="miter"/>
<path d="M128.85 633.53H138.05L133.45 641.12Z" fill="none" stroke="#DE2E18" stroke-width="1.35" stroke-linejoin="miter"/>
<path d="M152.59 604.68H161.79L157.19 612.27Z" fill="none" stroke="#DE2E18" stroke-width="1.35" stroke-linejoin="miter"/>
<path d="M168.23 586.51H177.43L172.83 594.1Z" fill="none" stroke="#DE2E18" stroke-width="1.35" stroke-linejoin="miter"/>
<path d="M179.9 573.37H189.1L184.5 580.96Z" fill="none" stroke="#DE2E18" stroke-width="1.35" stroke-linejoin="miter"/>
<path d="M189.23 562.98H198.43L193.83 570.57Z" fill="none" stroke="#DE2E18" stroke-width="1.35" stroke-linejoin="miter"/>
<path d="M196.99 555.98H206.19L201.59 563.57Z" fill="none" stroke="#DE2E18" stroke-width="1.35" stroke-linejoin="miter"/>
<path d="M203.64 550.95H212.84L208.24 558.54Z" fill="none" stroke="#DE2E18" stroke-width="1.35" stroke-linejoin="miter"/>
<path d="M209.46 547.41H218.66L214.06 555Z" fill="none" stroke="#DE2E18" stroke-width="1.35" stroke-linejoin="miter"/>
<path d="M214.63 544.71H223.83L219.23 552.3Z" fill="none" stroke="#DE2E18" stroke-width="1.35" stroke-linejoin="miter"/>
<path d="M219.28 542.72H228.48L223.88 550.31Z" fill="none" stroke="#DE2E18" stroke-width="1.35" stroke-linejoin="miter"/>
<path d="M223.5 541.23H232.7L228.1 548.82Z" fill="none" stroke="#DE2E18" stroke-width="1.35" stroke-linejoin="miter"/>
<path d="M227.38 539.99H236.58L231.98 547.58Z" fill="none" stroke="#DE2E18" stroke-width="1.35" stroke-linejoin="miter"/>
<path d="M230.96 539.14H240.16L235.56 546.73Z" fill="none" stroke="#DE2E18" stroke-width="1.35" stroke-linejoin="miter"/>
<path d="M234.28 538.74H243.48L238.88 546.33Z" fill="none" stroke="#DE2E18" stroke-width="1.35" stroke-linejoin="miter"/>
<path d="M237.38 538.52H246.58L241.98 546.11Z" fill="none" stroke="#DE2E18" stroke-width="1.35" stroke-linejoin="miter"/>
<path d="M240.28 538.37H249.48L244.88 545.96Z" fill="none" stroke="#DE2E18" stroke-width="1.35" stroke-linejoin="miter"/>
<path d="M243.02 538.31H252.22L247.62 545.9Z" fill="none" stroke="#DE2E18" stroke-width="1.35" stroke-linejoin="miter"/>
<path d="M245.6 538.49H254.8L250.2 546.08Z" fill="none" stroke="#DE2E18" stroke-width="1.35" stroke-linejoin="miter"/>
<path d="M248.04 539.05H257.24L252.64 546.64Z" fill="none" stroke="#DE2E18" stroke-width="1.35" stroke-linejoin="miter"/>
<path d="M250.37 539.82H259.57L254.97 547.41Z" fill="none" stroke="#DE2E18" stroke-width="1.35" stroke-linejoin="miter"/>
<path d="M252.58 540.68H261.78L257.18 548.27Z" fill="none" stroke="#DE2E18" stroke-width="1.35" stroke-linejoin="miter"/>
<path d="M254.69 541.53H263.89L259.29 549.12Z" fill="none" stroke="#DE2E18" stroke-width="1.35" stroke-linejoin="miter"/>
<path d="M256.71 542.36H265.91L261.31 549.95Z" fill="none" stroke="#DE2E18" stroke-width="1.35" stroke-linejoin="miter"/>
<path d="M258.71 543.34H267.91L263.31 550.93Z" fill="none" stroke="#DE2E18" stroke-width="1.35" stroke-linejoin="miter"/>
<path d="M260.71 544.46H269.91L265.31 552.05Z" fill="none" stroke="#DE2E18" stroke-width="1.35" stroke-linejoin="miter"/>
<path d="M262.71 545.68H271.91L267.31 553.27Z" fill="none" stroke="#DE2E18" stroke-width="1.35" stroke-linejoin="miter"/>
<path d="M264.71 546.99H273.91L269.31 554.58Z" fill="none" stroke="#DE2E18" stroke-width="1.35" stroke-linejoin="miter"/>
<path d="M266.71 548.33H275.91L271.31 555.92Z" fill="none" stroke="#DE2E18" stroke-width="1.35" stroke-linejoin="miter"/>
<path d="M268.71 549.69H277.91L273.31 557.28Z" fill="none" stroke="#DE2E18" stroke-width="1.35" stroke-linejoin="miter"/>
<path d="M270.71 551.02H279.91L275.31 558.61Z" fill="none" stroke="#DE2E18" stroke-width="1.35" stroke-linejoin="miter"/>
<path d="M272.71 552.4H281.91L277.31 559.99Z" fill="none" stroke="#DE2E18" stroke-width="1.35" stroke-linejoin="miter"/>
<path d="M274.71 553.86H283.91L279.31 561.45Z" fill="none" stroke="#DE2E18" stroke-width="1.35" stroke-linejoin="miter"/>
<path d="M276.71 555.37H285.91L281.31 562.96Z" fill="none" stroke="#DE2E18" stroke-width="1.35" stroke-linejoin="miter"/>
<path d="M278.71 556.89H287.91L283.31 564.48Z" fill="none" stroke="#DE2E18" stroke-width="1.35" stroke-linejoin="miter"/>
<path d="M280.71 558.42H289.91L285.31 566.01Z" fill="none" stroke="#DE2E18" stroke-width="1.35" stroke-linejoin="miter"/>
<path d="M282.71 559.91H291.91L287.31 567.5Z" fill="none" stroke="#DE2E18" stroke-width="1.35" stroke-linejoin="miter"/>
<path d="M284.71 561.34H293.91L289.31 568.93Z" fill="none" stroke="#DE2E18" stroke-width="1.35" stroke-linejoin="miter"/>
<path d="M286.71 562.7H295.91L291.31 570.29Z" fill="none" stroke="#DE2E18" stroke-width="1.35" stroke-linejoin="miter"/>
<path d="M288.71 564.05H297.91L293.31 571.64Z" fill="none" stroke="#DE2E18" stroke-width="1.35" stroke-linejoin="miter"/>
<path d="M290.71 565.37H299.91L295.31 572.96Z" fill="none" stroke="#DE2E18" stroke-width="1.35" stroke-linejoin="miter"/>
<path d="M292.71 566.68H301.91L297.31 574.27Z" fill="none" stroke="#DE2E18" stroke-width="1.35" stroke-linejoin="miter"/>
<path d="M294.71 567.97H303.91L299.31 575.56Z" fill="none" stroke="#DE2E18" stroke-width="1.35" stroke-linejoin="miter"/>
<path d="M296.71 569.25H305.91L301.31 576.84Z" fill="none" stroke="#DE2E18" stroke-width="1.35" stroke-linejoin="miter"/>
<path d="M298.74 570.53H307.94L303.34 578.12Z" fill="none" stroke="#DE2E18" stroke-width="1.35" stroke-linejoin="miter"/>
<path d="M300.81 571.82H310.01L305.41 579.41Z" fill="none" stroke="#DE2E18" stroke-width="1.35" stroke-linejoin="miter"/>
<path d="M302.92 573.13H312.12L307.52 580.72Z" fill="none" stroke="#DE2E18" stroke-width="1.35" stroke-linejoin="miter"/>
<path d="M305.07 574.45H314.27L309.67 582.04Z" fill="none" stroke="#DE2E18" stroke-width="1.35" stroke-linejoin="miter"/>
<path d="M307.26 575.78H316.46L311.86 583.37Z" fill="none" stroke="#DE2E18" stroke-width="1.35" stroke-linejoin="miter"/>
<path d="M309.5 577.14H318.7L314.1 584.73Z" fill="none" stroke="#DE2E18" stroke-width="1.35" stroke-linejoin="miter"/>
<path d="M311.78 578.51H320.98L316.38 586.1Z" fill="none" stroke="#DE2E18" stroke-width="1.35" stroke-linejoin="miter"/>
<path d="M314.11 579.91H323.31L318.71 587.5Z" fill="none" stroke="#DE2E18" stroke-width="1.35" stroke-linejoin="miter"/>
<path d="M316.48 581.32H325.68L321.08 588.91Z" fill="none" stroke="#DE2E18" stroke-width="1.35" stroke-linejoin="miter"/>
<path d="M318.9 582.76H328.1L323.5 590.35Z" fill="none" stroke="#DE2E18" stroke-width="1.35" stroke-linejoin="miter"/>
<path d="M321.37 584.23H330.57L325.97 591.82Z" fill="none" stroke="#DE2E18" stroke-width="1.35" stroke-linejoin="miter"/>
<path d="M323.89 585.73H333.09L328.49 593.32Z" fill="none" stroke="#DE2E18" stroke-width="1.35" stroke-linejoin="miter"/>
<path d="M326.46 587.26H335.66L331.06 594.85Z" fill="none" stroke="#DE2E18" stroke-width="1.35" stroke-linejoin="miter"/>
<path d="M329.08 588.82H338.28L333.68 596.41Z" fill="none" stroke="#DE2E18" stroke-width="1.35" stroke-linejoin="miter"/>
<path d="M331.76 590.42H340.96L336.36 598.01Z" fill="none" stroke="#DE2E18" stroke-width="1.35" stroke-linejoin="miter"/>
<path d="M334.48 592.07H343.68L339.08 599.66Z" fill="none" stroke="#DE2E18" stroke-width="1.35" stroke-linejoin="miter"/>
<path d="M337.26 593.76H346.46L341.86 601.35Z" fill="none" stroke="#DE2E18" stroke-width="1.35" stroke-linejoin="miter"/>
<path d="M340.1 595.5H349.3L344.7 603.09Z" fill="none" stroke="#DE2E18" stroke-width="1.35" stroke-linejoin="miter"/>
<path d="M343 597.3H352.2L347.6 604.89Z" fill="none" stroke="#DE2E18" stroke-width="1.35" stroke-linejoin="miter"/>
<path d="M345.95 599.16H355.15L350.55 606.75Z" fill="none" stroke="#DE2E18" stroke-width="1.35" stroke-linejoin="miter"/>
<path d="M348.96 601.05H358.16L353.56 608.64Z" fill="none" stroke="#DE2E18" stroke-width="1.35" stroke-linejoin="miter"/>
<path d="M352.03 602.96H361.23L356.63 610.55Z" fill="none" stroke="#DE2E18" stroke-width="1.35" stroke-linejoin="miter"/>
<path d="M355.16 604.9H364.36L359.76 612.49Z" fill="none" stroke="#DE2E18" stroke-width="1.35" stroke-linejoin="miter"/>
<path d="M358.36 606.86H367.56L362.96 614.45Z" fill="none" stroke="#DE2E18" stroke-width="1.35" stroke-linejoin="miter"/>
<path d="M361.77 608.95H370.97L366.37 616.54Z" fill="none" stroke="#DE2E18" stroke-width="1.35" stroke-linejoin="miter"/>
<path d="M365.41 611.19H374.61L370.01 618.78Z" fill="none" stroke="#DE2E18" stroke-width="1.35" stroke-linejoin="miter"/>
<path d="M369.31 613.59H378.51L373.91 621.18Z" fill="none" stroke="#DE2E18" stroke-width="1.35" stroke-linejoin="miter"/>
<path d="M373.49 616.17H382.69L378.09 623.76Z" fill="none" stroke="#DE2E18" stroke-width="1.35" stroke-linejoin="miter"/>
<path d="M377.95 618.98H387.15L382.55 626.57Z" fill="none" stroke="#DE2E18" stroke-width="1.35" stroke-linejoin="miter"/>
<path d="M382.73 622.04H391.93L387.33 629.63Z" fill="none" stroke="#DE2E18" stroke-width="1.35" stroke-linejoin="miter"/>
<path d="M387.84 625.39H397.04L392.44 632.98Z" fill="none" stroke="#DE2E18" stroke-width="1.35" stroke-linejoin="miter"/>
<path d="M393.31 629.09H402.51L397.91 636.68Z" fill="none" stroke="#DE2E18" stroke-width="1.35" stroke-linejoin="miter"/>
<path d="M399.17 633.21H408.37L403.77 640.8Z" fill="none" stroke="#DE2E18" stroke-width="1.35" stroke-linejoin="miter"/>
<path d="M405.43 637.84H414.63L410.03 645.43Z" fill="none" stroke="#DE2E18" stroke-width="1.35" stroke-linejoin="miter"/>
<path d="M412.13 643.12H421.33L416.73 650.71Z" fill="none" stroke="#DE2E18" stroke-width="1.35" stroke-linejoin="miter"/>
<path d="M418.83 648.78H428.03L423.43 656.37Z" fill="none" stroke="#DE2E18" stroke-width="1.35" stroke-linejoin="miter"/>
<path d="M425.53 654.74H434.73L430.13 662.33Z" fill="none" stroke="#DE2E18" stroke-width="1.35" stroke-linejoin="miter"/>
<path d="M432.23 660.95H441.43L436.83 668.54Z" fill="none" stroke="#DE2E18" stroke-width="1.35" stroke-linejoin="miter"/>
<path d="M438.93 667.32H448.13L443.53 674.91Z" fill="none" stroke="#DE2E18" stroke-width="1.35" stroke-linejoin="miter"/>
<path d="M445.63 673.76H454.83L450.23 681.35Z" fill="none" stroke="#DE2E18" stroke-width="1.35" stroke-linejoin="miter"/>
<path d="M452.33 680.53H461.53L456.93 688.12Z" fill="none" stroke="#DE2E18" stroke-width="1.35" stroke-linejoin="miter"/>
<path d="M459.03 688.12H468.23L463.63 695.71Z" fill="none" stroke="#DE2E18" stroke-width="1.35" stroke-linejoin="miter"/>
<path d="M465.73 697.14H474.93L470.33 704.73Z" fill="none" stroke="#DE2E18" stroke-width="1.35" stroke-linejoin="miter"/>
<path d="M472.43 707.75H481.63L477.03 715.34Z" fill="none" stroke="#DE2E18" stroke-width="1.35" stroke-linejoin="miter"/>
<path d="M77.8 703.11H87L82.4 710.7Z" fill="none" stroke="#E8B020" stroke-width="1.35" stroke-linejoin="miter"/>
<path d="M128.85 642.23H138.05L133.45 649.82Z" fill="none" stroke="#E8B020" stroke-width="1.35" stroke-linejoin="miter"/>
<path d="M152.59 613.49H161.79L157.19 621.08Z" fill="none" stroke="#E8B020" stroke-width="1.35" stroke-linejoin="miter"/>
<path d="M168.23 594.52H177.43L172.83 602.11Z" fill="none" stroke="#E8B020" stroke-width="1.35" stroke-linejoin="miter"/>
<path d="M179.9 581.18H189.1L184.5 588.77Z" fill="none" stroke="#E8B020" stroke-width="1.35" stroke-linejoin="miter"/>
<path d="M189.23 570.49H198.43L193.83 578.08Z" fill="none" stroke="#E8B020" stroke-width="1.35" stroke-linejoin="miter"/>
<path d="M196.99 562.59H206.19L201.59 570.18Z" fill="none" stroke="#E8B020" stroke-width="1.35" stroke-linejoin="miter"/>
<path d="M203.64 556.37H212.84L208.24 563.96Z" fill="none" stroke="#E8B020" stroke-width="1.35" stroke-linejoin="miter"/>
<path d="M209.46 551.26H218.66L214.06 558.85Z" fill="none" stroke="#E8B020" stroke-width="1.35" stroke-linejoin="miter"/>
<path d="M214.63 546.92H223.83L219.23 554.51Z" fill="none" stroke="#E8B020" stroke-width="1.35" stroke-linejoin="miter"/>
<path d="M219.28 543.53H228.48L223.88 551.12Z" fill="none" stroke="#E8B020" stroke-width="1.35" stroke-linejoin="miter"/>
<path d="M223.5 540.94H232.7L228.1 548.53Z" fill="none" stroke="#E8B020" stroke-width="1.35" stroke-linejoin="miter"/>
<path d="M227.38 538.78H236.58L231.98 546.37Z" fill="none" stroke="#E8B020" stroke-width="1.35" stroke-linejoin="miter"/>
<path d="M230.96 537.03H240.16L235.56 544.62Z" fill="none" stroke="#E8B020" stroke-width="1.35" stroke-linejoin="miter"/>
<path d="M234.28 535.69H243.48L238.88 543.28Z" fill="none" stroke="#E8B020" stroke-width="1.35" stroke-linejoin="miter"/>
<path d="M237.38 534.67H246.58L241.98 542.26Z" fill="none" stroke="#E8B020" stroke-width="1.35" stroke-linejoin="miter"/>
<path d="M240.28 533.73H249.48L244.88 541.32Z" fill="none" stroke="#E8B020" stroke-width="1.35" stroke-linejoin="miter"/>
<path d="M243.02 532.93H252.22L247.62 540.52Z" fill="none" stroke="#E8B020" stroke-width="1.35" stroke-linejoin="miter"/>
<path d="M245.6 532.33H254.8L250.2 539.92Z" fill="none" stroke="#E8B020" stroke-width="1.35" stroke-linejoin="miter"/>
<path d="M248.04 531.94H257.24L252.64 539.53Z" fill="none" stroke="#E8B020" stroke-width="1.35" stroke-linejoin="miter"/>
<path d="M250.37 531.81H259.57L254.97 539.4Z" fill="none" stroke="#E8B020" stroke-width="1.35" stroke-linejoin="miter"/>
<path d="M252.58 531.91H261.78L257.18 539.5Z" fill="none" stroke="#E8B020" stroke-width="1.35" stroke-linejoin="miter"/>
<path d="M254.69 532.17H263.89L259.29 539.76Z" fill="none" stroke="#E8B020" stroke-width="1.35" stroke-linejoin="miter"/>
<path d="M256.71 532.54H265.91L261.31 540.13Z" fill="none" stroke="#E8B020" stroke-width="1.35" stroke-linejoin="miter"/>
<path d="M258.71 533H267.91L263.31 540.59Z" fill="none" stroke="#E8B020" stroke-width="1.35" stroke-linejoin="miter"/>
<path d="M260.71 533.51H269.91L265.31 541.1Z" fill="none" stroke="#E8B020" stroke-width="1.35" stroke-linejoin="miter"/>
<path d="M262.71 534.07H271.91L267.31 541.66Z" fill="none" stroke="#E8B020" stroke-width="1.35" stroke-linejoin="miter"/>
<path d="M264.71 534.62H273.91L269.31 542.21Z" fill="none" stroke="#E8B020" stroke-width="1.35" stroke-linejoin="miter"/>
<path d="M266.71 535.19H275.91L271.31 542.78Z" fill="none" stroke="#E8B020" stroke-width="1.35" stroke-linejoin="miter"/>
<path d="M268.71 535.86H277.91L273.31 543.45Z" fill="none" stroke="#E8B020" stroke-width="1.35" stroke-linejoin="miter"/>
<path d="M270.71 536.62H279.91L275.31 544.21Z" fill="none" stroke="#E8B020" stroke-width="1.35" stroke-linejoin="miter"/>
<path d="M272.71 537.46H281.91L277.31 545.05Z" fill="none" stroke="#E8B020" stroke-width="1.35" stroke-linejoin="miter"/>
<path d="M274.71 538.37H283.91L279.31 545.96Z" fill="none" stroke="#E8B020" stroke-width="1.35" stroke-linejoin="miter"/>
<path d="M276.71 539.33H285.91L281.31 546.92Z" fill="none" stroke="#E8B020" stroke-width="1.35" stroke-linejoin="miter"/>
<path d="M278.71 540.33H287.91L283.31 547.92Z" fill="none" stroke="#E8B020" stroke-width="1.35" stroke-linejoin="miter"/>
<path d="M280.71 541.36H289.91L285.31 548.95Z" fill="none" stroke="#E8B020" stroke-width="1.35" stroke-linejoin="miter"/>
<path d="M282.71 542.41H291.91L287.31 550Z" fill="none" stroke="#E8B020" stroke-width="1.35" stroke-linejoin="miter"/>
<path d="M284.71 543.45H293.91L289.31 551.04Z" fill="none" stroke="#E8B020" stroke-width="1.35" stroke-linejoin="miter"/>
<path d="M286.71 544.5H295.91L291.31 552.09Z" fill="none" stroke="#E8B020" stroke-width="1.35" stroke-linejoin="miter"/>
<path d="M288.71 545.59H297.91L293.31 553.18Z" fill="none" stroke="#E8B020" stroke-width="1.35" stroke-linejoin="miter"/>
<path d="M290.71 546.71H299.91L295.31 554.3Z" fill="none" stroke="#E8B020" stroke-width="1.35" stroke-linejoin="miter"/>
<path d="M292.71 547.87H301.91L297.31 555.46Z" fill="none" stroke="#E8B020" stroke-width="1.35" stroke-linejoin="miter"/>
<path d="M294.71 549.05H303.91L299.31 556.64Z" fill="none" stroke="#E8B020" stroke-width="1.35" stroke-linejoin="miter"/>
<path d="M296.71 550.27H305.91L301.31 557.86Z" fill="none" stroke="#E8B020" stroke-width="1.35" stroke-linejoin="miter"/>
<path d="M298.74 551.53H307.94L303.34 559.12Z" fill="none" stroke="#E8B020" stroke-width="1.35" stroke-linejoin="miter"/>
<path d="M300.81 552.85H310.01L305.41 560.44Z" fill="none" stroke="#E8B020" stroke-width="1.35" stroke-linejoin="miter"/>
<path d="M302.92 554.22H312.12L307.52 561.81Z" fill="none" stroke="#E8B020" stroke-width="1.35" stroke-linejoin="miter"/>
<path d="M305.07 555.64H314.27L309.67 563.23Z" fill="none" stroke="#E8B020" stroke-width="1.35" stroke-linejoin="miter"/>
<path d="M307.26 557.11H316.46L311.86 564.7Z" fill="none" stroke="#E8B020" stroke-width="1.35" stroke-linejoin="miter"/>
<path d="M309.5 558.64H318.7L314.1 566.23Z" fill="none" stroke="#E8B020" stroke-width="1.35" stroke-linejoin="miter"/>
<path d="M311.78 560.21H320.98L316.38 567.8Z" fill="none" stroke="#E8B020" stroke-width="1.35" stroke-linejoin="miter"/>
<path d="M314.11 561.83H323.31L318.71 569.42Z" fill="none" stroke="#E8B020" stroke-width="1.35" stroke-linejoin="miter"/>
<path d="M316.48 563.5H325.68L321.08 571.09Z" fill="none" stroke="#E8B020" stroke-width="1.35" stroke-linejoin="miter"/>
<path d="M318.9 565.22H328.1L323.5 572.81Z" fill="none" stroke="#E8B020" stroke-width="1.35" stroke-linejoin="miter"/>
<path d="M321.37 566.98H330.57L325.97 574.57Z" fill="none" stroke="#E8B020" stroke-width="1.35" stroke-linejoin="miter"/>
<path d="M323.89 568.78H333.09L328.49 576.37Z" fill="none" stroke="#E8B020" stroke-width="1.35" stroke-linejoin="miter"/>
<path d="M326.46 570.62H335.66L331.06 578.21Z" fill="none" stroke="#E8B020" stroke-width="1.35" stroke-linejoin="miter"/>
<path d="M329.08 572.49H338.28L333.68 580.08Z" fill="none" stroke="#E8B020" stroke-width="1.35" stroke-linejoin="miter"/>
<path d="M331.76 574.39H340.96L336.36 581.98Z" fill="none" stroke="#E8B020" stroke-width="1.35" stroke-linejoin="miter"/>
<path d="M334.48 576.32H343.68L339.08 583.91Z" fill="none" stroke="#E8B020" stroke-width="1.35" stroke-linejoin="miter"/>
<path d="M337.26 578.27H346.46L341.86 585.86Z" fill="none" stroke="#E8B020" stroke-width="1.35" stroke-linejoin="miter"/>
<path d="M340.1 580.23H349.3L344.7 587.82Z" fill="none" stroke="#E8B020" stroke-width="1.35" stroke-linejoin="miter"/>
<path d="M343 582.2H352.2L347.6 589.79Z" fill="none" stroke="#E8B020" stroke-width="1.35" stroke-linejoin="miter"/>
<path d="M345.95 584.17H355.15L350.55 591.76Z" fill="none" stroke="#E8B020" stroke-width="1.35" stroke-linejoin="miter"/>
<path d="M348.96 586.11H358.16L353.56 593.7Z" fill="none" stroke="#E8B020" stroke-width="1.35" stroke-linejoin="miter"/>
<path d="M352.03 587.99H361.23L356.63 595.58Z" fill="none" stroke="#E8B020" stroke-width="1.35" stroke-linejoin="miter"/>
<path d="M355.16 589.85H364.36L359.76 597.44Z" fill="none" stroke="#E8B020" stroke-width="1.35" stroke-linejoin="miter"/>
<path d="M358.36 591.7H367.56L362.96 599.29Z" fill="none" stroke="#E8B020" stroke-width="1.35" stroke-linejoin="miter"/>
<path d="M361.77 593.64H370.97L366.37 601.23Z" fill="none" stroke="#E8B020" stroke-width="1.35" stroke-linejoin="miter"/>
<path d="M365.41 595.71H374.61L370.01 603.3Z" fill="none" stroke="#E8B020" stroke-width="1.35" stroke-linejoin="miter"/>
<path d="M369.31 597.97H378.51L373.91 605.56Z" fill="none" stroke="#E8B020" stroke-width="1.35" stroke-linejoin="miter"/>
<path d="M373.49 600.45H382.69L378.09 608.04Z" fill="none" stroke="#E8B020" stroke-width="1.35" stroke-linejoin="miter"/>
<path d="M377.95 603.26H387.15L382.55 610.85Z" fill="none" stroke="#E8B020" stroke-width="1.35" stroke-linejoin="miter"/>
<path d="M382.73 606.51H391.93L387.33 614.1Z" fill="none" stroke="#E8B020" stroke-width="1.35" stroke-linejoin="miter"/>
<path d="M387.84 610.32H397.04L392.44 617.91Z" fill="none" stroke="#E8B020" stroke-width="1.35" stroke-linejoin="miter"/>
<path d="M393.31 614.91H402.51L397.91 622.5Z" fill="none" stroke="#E8B020" stroke-width="1.35" stroke-linejoin="miter"/>
<path d="M399.17 620.8H408.37L403.77 628.39Z" fill="none" stroke="#E8B020" stroke-width="1.35" stroke-linejoin="miter"/>
<path d="M405.43 629.04H414.63L410.03 636.63Z" fill="none" stroke="#E8B020" stroke-width="1.35" stroke-linejoin="miter"/>
<path d="M412.13 639.15H421.33L416.73 646.74Z" fill="none" stroke="#E8B020" stroke-width="1.35" stroke-linejoin="miter"/>
<path d="M418.83 649.46H428.03L423.43 657.05Z" fill="none" stroke="#E8B020" stroke-width="1.35" stroke-linejoin="miter"/>
<path d="M425.53 660.22H434.73L430.13 667.81Z" fill="none" stroke="#E8B020" stroke-width="1.35" stroke-linejoin="miter"/>
<path d="M432.23 671.54H441.43L436.83 679.13Z" fill="none" stroke="#E8B020" stroke-width="1.35" stroke-linejoin="miter"/>
<path d="M438.93 682.53H448.13L443.53 690.12Z" fill="none" stroke="#E8B020" stroke-width="1.35" stroke-linejoin="miter"/>
<path d="M445.63 693.57H454.83L450.23 701.16Z" fill="none" stroke="#E8B020" stroke-width="1.35" stroke-linejoin="miter"/>
<path d="M452.33 705.29H461.53L456.93 712.88Z" fill="none" stroke="#E8B020" stroke-width="1.35" stroke-linejoin="miter"/>
<path d="M459.03 714.58H468.23L463.63 722.17Z" fill="none" stroke="#E8B020" stroke-width="1.35" stroke-linejoin="miter"/>
<path d="M465.73 718.71H474.93L470.33 726.3Z" fill="none" stroke="#E8B020" stroke-width="1.35" stroke-linejoin="miter"/>
<path d="M472.43 720.57H481.63L477.03 728.16Z" fill="none" stroke="#E8B020" stroke-width="1.35" stroke-linejoin="miter"/>
<path d="M77.8 710.61H87L82.4 718.2Z" fill="none" stroke="#6218E8" stroke-width="1.35" stroke-linejoin="miter"/>
<path d="M128.85 649.23H138.05L133.45 656.82Z" fill="none" stroke="#6218E8" stroke-width="1.35" stroke-linejoin="miter"/>
<path d="M152.59 620.98H161.79L157.19 628.57Z" fill="none" stroke="#6218E8" stroke-width="1.35" stroke-linejoin="miter"/>
<path d="M168.23 602.02H177.43L172.83 609.61Z" fill="none" stroke="#6218E8" stroke-width="1.35" stroke-linejoin="miter"/>
<path d="M179.9 587.91H189.1L184.5 595.5Z" fill="none" stroke="#6218E8" stroke-width="1.35" stroke-linejoin="miter"/>
<path d="M189.23 576.51H198.43L193.83 584.1Z" fill="none" stroke="#6218E8" stroke-width="1.35" stroke-linejoin="miter"/>
<path d="M196.99 567.73H206.19L201.59 575.32Z" fill="none" stroke="#6218E8" stroke-width="1.35" stroke-linejoin="miter"/>
<path d="M203.64 560.62H212.84L208.24 568.21Z" fill="none" stroke="#6218E8" stroke-width="1.35" stroke-linejoin="miter"/>
<path d="M209.46 554.64H218.66L214.06 562.23Z" fill="none" stroke="#6218E8" stroke-width="1.35" stroke-linejoin="miter"/>
<path d="M214.63 549.38H223.83L219.23 556.97Z" fill="none" stroke="#6218E8" stroke-width="1.35" stroke-linejoin="miter"/>
<path d="M219.28 544.92H228.48L223.88 552.51Z" fill="none" stroke="#6218E8" stroke-width="1.35" stroke-linejoin="miter"/>
<path d="M223.5 541.28H232.7L228.1 548.87Z" fill="none" stroke="#6218E8" stroke-width="1.35" stroke-linejoin="miter"/>
<path d="M227.38 538.35H236.58L231.98 545.94Z" fill="none" stroke="#6218E8" stroke-width="1.35" stroke-linejoin="miter"/>
<path d="M230.96 535.78H240.16L235.56 543.37Z" fill="none" stroke="#6218E8" stroke-width="1.35" stroke-linejoin="miter"/>
<path d="M234.28 533.55H243.48L238.88 541.14Z" fill="none" stroke="#6218E8" stroke-width="1.35" stroke-linejoin="miter"/>
<path d="M237.38 531.67H246.58L241.98 539.26Z" fill="none" stroke="#6218E8" stroke-width="1.35" stroke-linejoin="miter"/>
<path d="M240.28 530.14H249.48L244.88 537.73Z" fill="none" stroke="#6218E8" stroke-width="1.35" stroke-linejoin="miter"/>
<path d="M243.02 528.96H252.22L247.62 536.55Z" fill="none" stroke="#6218E8" stroke-width="1.35" stroke-linejoin="miter"/>
<path d="M245.6 527.99H254.8L250.2 535.58Z" fill="none" stroke="#6218E8" stroke-width="1.35" stroke-linejoin="miter"/>
<path d="M248.04 527.09H257.24L252.64 534.68Z" fill="none" stroke="#6218E8" stroke-width="1.35" stroke-linejoin="miter"/>
<path d="M250.37 526.29H259.57L254.97 533.88Z" fill="none" stroke="#6218E8" stroke-width="1.35" stroke-linejoin="miter"/>
<path d="M252.58 525.64H261.78L257.18 533.23Z" fill="none" stroke="#6218E8" stroke-width="1.35" stroke-linejoin="miter"/>
<path d="M254.69 525.17H263.89L259.29 532.76Z" fill="none" stroke="#6218E8" stroke-width="1.35" stroke-linejoin="miter"/>
<path d="M256.71 524.89H265.91L261.31 532.48Z" fill="none" stroke="#6218E8" stroke-width="1.35" stroke-linejoin="miter"/>
<path d="M258.71 524.81H267.91L263.31 532.4Z" fill="none" stroke="#6218E8" stroke-width="1.35" stroke-linejoin="miter"/>
<path d="M260.71 524.93H269.91L265.31 532.52Z" fill="none" stroke="#6218E8" stroke-width="1.35" stroke-linejoin="miter"/>
<path d="M262.71 525.18H271.91L267.31 532.77Z" fill="none" stroke="#6218E8" stroke-width="1.35" stroke-linejoin="miter"/>
<path d="M264.71 525.55H273.91L269.31 533.14Z" fill="none" stroke="#6218E8" stroke-width="1.35" stroke-linejoin="miter"/>
<path d="M266.71 525.97H275.91L271.31 533.56Z" fill="none" stroke="#6218E8" stroke-width="1.35" stroke-linejoin="miter"/>
<path d="M268.71 526.43H277.91L273.31 534.02Z" fill="none" stroke="#6218E8" stroke-width="1.35" stroke-linejoin="miter"/>
<path d="M270.71 526.88H279.91L275.31 534.47Z" fill="none" stroke="#6218E8" stroke-width="1.35" stroke-linejoin="miter"/>
<path d="M272.71 527.37H281.91L277.31 534.96Z" fill="none" stroke="#6218E8" stroke-width="1.35" stroke-linejoin="miter"/>
<path d="M274.71 527.92H283.91L279.31 535.51Z" fill="none" stroke="#6218E8" stroke-width="1.35" stroke-linejoin="miter"/>
<path d="M276.71 528.54H285.91L281.31 536.13Z" fill="none" stroke="#6218E8" stroke-width="1.35" stroke-linejoin="miter"/>
<path d="M278.71 529.21H287.91L283.31 536.8Z" fill="none" stroke="#6218E8" stroke-width="1.35" stroke-linejoin="miter"/>
<path d="M280.71 529.94H289.91L285.31 537.53Z" fill="none" stroke="#6218E8" stroke-width="1.35" stroke-linejoin="miter"/>
<path d="M282.71 530.71H291.91L287.31 538.3Z" fill="none" stroke="#6218E8" stroke-width="1.35" stroke-linejoin="miter"/>
<path d="M284.71 531.53H293.91L289.31 539.12Z" fill="none" stroke="#6218E8" stroke-width="1.35" stroke-linejoin="miter"/>
<path d="M286.71 532.38H295.91L291.31 539.97Z" fill="none" stroke="#6218E8" stroke-width="1.35" stroke-linejoin="miter"/>
<path d="M288.71 533.31H297.91L293.31 540.9Z" fill="none" stroke="#6218E8" stroke-width="1.35" stroke-linejoin="miter"/>
<path d="M290.71 534.31H299.91L295.31 541.9Z" fill="none" stroke="#6218E8" stroke-width="1.35" stroke-linejoin="miter"/>
<path d="M292.71 535.38H301.91L297.31 542.97Z" fill="none" stroke="#6218E8" stroke-width="1.35" stroke-linejoin="miter"/>
<path d="M294.71 536.51H303.91L299.31 544.1Z" fill="none" stroke="#6218E8" stroke-width="1.35" stroke-linejoin="miter"/>
<path d="M296.71 537.7H305.91L301.31 545.29Z" fill="none" stroke="#6218E8" stroke-width="1.35" stroke-linejoin="miter"/>
<path d="M298.74 538.97H307.94L303.34 546.56Z" fill="none" stroke="#6218E8" stroke-width="1.35" stroke-linejoin="miter"/>
<path d="M300.81 540.31H310.01L305.41 547.9Z" fill="none" stroke="#6218E8" stroke-width="1.35" stroke-linejoin="miter"/>
<path d="M302.92 541.72H312.12L307.52 549.31Z" fill="none" stroke="#6218E8" stroke-width="1.35" stroke-linejoin="miter"/>
<path d="M305.07 543.22H314.27L309.67 550.81Z" fill="none" stroke="#6218E8" stroke-width="1.35" stroke-linejoin="miter"/>
<path d="M307.26 544.79H316.46L311.86 552.38Z" fill="none" stroke="#6218E8" stroke-width="1.35" stroke-linejoin="miter"/>
<path d="M309.5 546.43H318.7L314.1 554.02Z" fill="none" stroke="#6218E8" stroke-width="1.35" stroke-linejoin="miter"/>
<path d="M311.78 548.14H320.98L316.38 555.73Z" fill="none" stroke="#6218E8" stroke-width="1.35" stroke-linejoin="miter"/>
<path d="M314.11 549.92H323.31L318.71 557.51Z" fill="none" stroke="#6218E8" stroke-width="1.35" stroke-linejoin="miter"/>
<path d="M316.48 551.76H325.68L321.08 559.35Z" fill="none" stroke="#6218E8" stroke-width="1.35" stroke-linejoin="miter"/>
<path d="M318.9 553.66H328.1L323.5 561.25Z" fill="none" stroke="#6218E8" stroke-width="1.35" stroke-linejoin="miter"/>
<path d="M321.37 555.61H330.57L325.97 563.2Z" fill="none" stroke="#6218E8" stroke-width="1.35" stroke-linejoin="miter"/>
<path d="M323.89 557.61H333.09L328.49 565.2Z" fill="none" stroke="#6218E8" stroke-width="1.35" stroke-linejoin="miter"/>
<path d="M326.46 559.65H335.66L331.06 567.24Z" fill="none" stroke="#6218E8" stroke-width="1.35" stroke-linejoin="miter"/>
<path d="M329.08 561.71H338.28L333.68 569.3Z" fill="none" stroke="#6218E8" stroke-width="1.35" stroke-linejoin="miter"/>
<path d="M331.76 563.81H340.96L336.36 571.4Z" fill="none" stroke="#6218E8" stroke-width="1.35" stroke-linejoin="miter"/>
<path d="M334.48 565.91H343.68L339.08 573.5Z" fill="none" stroke="#6218E8" stroke-width="1.35" stroke-linejoin="miter"/>
<path d="M337.26 568.01H346.46L341.86 575.6Z" fill="none" stroke="#6218E8" stroke-width="1.35" stroke-linejoin="miter"/>
<path d="M340.1 570.1H349.3L344.7 577.69Z" fill="none" stroke="#6218E8" stroke-width="1.35" stroke-linejoin="miter"/>
<path d="M343 572.16H352.2L347.6 579.75Z" fill="none" stroke="#6218E8" stroke-width="1.35" stroke-linejoin="miter"/>
<path d="M345.95 574.18H355.15L350.55 581.77Z" fill="none" stroke="#6218E8" stroke-width="1.35" stroke-linejoin="miter"/>
<path d="M348.96 576.12H358.16L353.56 583.71Z" fill="none" stroke="#6218E8" stroke-width="1.35" stroke-linejoin="miter"/>
<path d="M352.03 577.99H361.23L356.63 585.58Z" fill="none" stroke="#6218E8" stroke-width="1.35" stroke-linejoin="miter"/>
<path d="M355.16 579.8H364.36L359.76 587.39Z" fill="none" stroke="#6218E8" stroke-width="1.35" stroke-linejoin="miter"/>
<path d="M358.36 581.57H367.56L362.96 589.16Z" fill="none" stroke="#6218E8" stroke-width="1.35" stroke-linejoin="miter"/>
<path d="M361.77 583.39H370.97L366.37 590.98Z" fill="none" stroke="#6218E8" stroke-width="1.35" stroke-linejoin="miter"/>
<path d="M365.41 585.29H374.61L370.01 592.88Z" fill="none" stroke="#6218E8" stroke-width="1.35" stroke-linejoin="miter"/>
<path d="M369.31 587.32H378.51L373.91 594.91Z" fill="none" stroke="#6218E8" stroke-width="1.35" stroke-linejoin="miter"/>
<path d="M373.49 589.52H382.69L378.09 597.11Z" fill="none" stroke="#6218E8" stroke-width="1.35" stroke-linejoin="miter"/>
<path d="M377.95 591.97H387.15L382.55 599.56Z" fill="none" stroke="#6218E8" stroke-width="1.35" stroke-linejoin="miter"/>
<path d="M382.73 594.77H391.93L387.33 602.36Z" fill="none" stroke="#6218E8" stroke-width="1.35" stroke-linejoin="miter"/>
<path d="M387.84 598.04H397.04L392.44 605.63Z" fill="none" stroke="#6218E8" stroke-width="1.35" stroke-linejoin="miter"/>
<path d="M393.31 601.98H402.51L397.91 609.57Z" fill="none" stroke="#6218E8" stroke-width="1.35" stroke-linejoin="miter"/>
<path d="M399.17 606.81H408.37L403.77 614.4Z" fill="none" stroke="#6218E8" stroke-width="1.35" stroke-linejoin="miter"/>
<path d="M405.43 612.84H414.63L410.03 620.43Z" fill="none" stroke="#6218E8" stroke-width="1.35" stroke-linejoin="miter"/>
<path d="M412.13 622.91H421.33L416.73 630.5Z" fill="none" stroke="#6218E8" stroke-width="1.35" stroke-linejoin="miter"/>
<path d="M418.83 636.91H428.03L423.43 644.5Z" fill="none" stroke="#6218E8" stroke-width="1.35" stroke-linejoin="miter"/>
<path d="M425.53 651.59H434.73L430.13 659.18Z" fill="none" stroke="#6218E8" stroke-width="1.35" stroke-linejoin="miter"/>
<path d="M432.23 663.88H441.43L436.83 671.47Z" fill="none" stroke="#6218E8" stroke-width="1.35" stroke-linejoin="miter"/>
<path d="M438.93 674.78H448.13L443.53 682.37Z" fill="none" stroke="#6218E8" stroke-width="1.35" stroke-linejoin="miter"/>
<path d="M445.63 683.95H454.83L450.23 691.54Z" fill="none" stroke="#6218E8" stroke-width="1.35" stroke-linejoin="miter"/>
<path d="M452.33 691.15H461.53L456.93 698.74Z" fill="none" stroke="#6218E8" stroke-width="1.35" stroke-linejoin="miter"/>
<path d="M459.03 697.7H468.23L463.63 705.29Z" fill="none" stroke="#6218E8" stroke-width="1.35" stroke-linejoin="miter"/>
<path d="M465.73 703.25H474.93L470.33 710.84Z" fill="none" stroke="#6218E8" stroke-width="1.35" stroke-linejoin="miter"/>
<path d="M472.43 707.47H481.63L477.03 715.06Z" fill="none" stroke="#6218E8" stroke-width="1.35" stroke-linejoin="miter"/>
<polygon points="342.8,563 344.53,567.62 349.46,567.84 345.6,570.91 346.91,575.66 342.8,572.94 338.69,575.66 340,570.91 336.14,567.84 341.07,567.62" fill="#000" stroke="#000" stroke-width="0.6" stroke-linejoin="round"/>
<polygon points="339.5,573.8 341.23,578.42 346.16,578.64 342.3,581.71 343.61,586.46 339.5,583.74 335.39,586.46 336.7,581.71 332.84,578.64 337.77,578.42" fill="#000" stroke="#000" stroke-width="0.6" stroke-linejoin="round"/>
<polygon points="330.7,584 332.43,588.62 337.36,588.84 333.5,591.91 334.81,596.66 330.7,593.94 326.59,596.66 327.9,591.91 324.04,588.84 328.97,588.62" fill="#000" stroke="#000" stroke-width="0.6" stroke-linejoin="round"/>
<polygon points="421,625 422.73,628 426.2,628 424.46,631 426.2,634 422.73,634 421,637 419.27,634 415.8,634 417.54,631 415.8,628 419.27,628" fill="#9a9a9a" stroke="#000" stroke-width="2.7" stroke-linejoin="miter" stroke-miterlimit="3"/>
<polygon points="421.5,635.5 423.23,638.5 426.7,638.5 424.96,641.5 426.7,644.5 423.23,644.5 421.5,647.5 419.77,644.5 416.3,644.5 418.04,641.5 416.3,638.5 419.77,638.5" fill="#9a9a9a" stroke="#000" stroke-width="2.7" stroke-linejoin="miter" stroke-miterlimit="3"/>
<polygon points="431.5,639.4 433.23,642.4 436.7,642.4 434.96,645.4 436.7,648.4 433.23,648.4 431.5,651.4 429.77,648.4 426.3,648.4 428.04,645.4 426.3,642.4 429.77,642.4" fill="#9a9a9a" stroke="#000" stroke-width="2.7" stroke-linejoin="miter" stroke-miterlimit="3"/>
<path d="M463.6 687.2L468.2 693.6L463.6 700L459 693.6Z" fill="#b5b5b5" stroke="#000" stroke-width="2.2" stroke-linejoin="miter"/>
<path d="M465 702.2L469.6 708.6L465 715L460.4 708.6Z" fill="#b5b5b5" stroke="#000" stroke-width="2.2" stroke-linejoin="miter"/>
<path d="M465 702.2L469.6 708.6L465 715L460.4 708.6Z" fill="#b5b5b5" stroke="#000" stroke-width="2.2" stroke-linejoin="miter"/></g>
<rect x="50.4" y="475" width="460" height="362" fill="none" stroke="#262626" stroke-width="1.3"/>
<line x1="58.66" y1="837" x2="58.66" y2="834.5" stroke="#262626" stroke-width="0.9" />
<line x1="58.66" y1="475" x2="58.66" y2="477.5" stroke="#262626" stroke-width="0.9" />
<line x1="65.83" y1="837" x2="65.83" y2="834.5" stroke="#262626" stroke-width="0.9" />
<line x1="65.83" y1="475" x2="65.83" y2="477.5" stroke="#262626" stroke-width="0.9" />
<line x1="72.03" y1="837" x2="72.03" y2="834.5" stroke="#262626" stroke-width="0.9" />
<line x1="72.03" y1="475" x2="72.03" y2="477.5" stroke="#262626" stroke-width="0.9" />
<line x1="77.5" y1="837" x2="77.5" y2="834.5" stroke="#262626" stroke-width="0.9" />
<line x1="77.5" y1="475" x2="77.5" y2="477.5" stroke="#262626" stroke-width="0.9" />
<line x1="82.4" y1="837" x2="82.4" y2="832.5" stroke="#262626" stroke-width="0.9" />
<line x1="82.4" y1="475" x2="82.4" y2="479.5" stroke="#262626" stroke-width="0.9" />
<line x1="114.61" y1="837" x2="114.61" y2="834.5" stroke="#262626" stroke-width="0.9" />
<line x1="114.61" y1="475" x2="114.61" y2="477.5" stroke="#262626" stroke-width="0.9" />
<line x1="133.45" y1="837" x2="133.45" y2="834.5" stroke="#262626" stroke-width="0.9" />
<line x1="133.45" y1="475" x2="133.45" y2="477.5" stroke="#262626" stroke-width="0.9" />
<line x1="146.82" y1="837" x2="146.82" y2="834.5" stroke="#262626" stroke-width="0.9" />
<line x1="146.82" y1="475" x2="146.82" y2="477.5" stroke="#262626" stroke-width="0.9" />
<line x1="157.19" y1="837" x2="157.19" y2="834.5" stroke="#262626" stroke-width="0.9" />
<line x1="157.19" y1="475" x2="157.19" y2="477.5" stroke="#262626" stroke-width="0.9" />
<line x1="165.66" y1="837" x2="165.66" y2="834.5" stroke="#262626" stroke-width="0.9" />
<line x1="165.66" y1="475" x2="165.66" y2="477.5" stroke="#262626" stroke-width="0.9" />
<line x1="172.83" y1="837" x2="172.83" y2="834.5" stroke="#262626" stroke-width="0.9" />
<line x1="172.83" y1="475" x2="172.83" y2="477.5" stroke="#262626" stroke-width="0.9" />
<line x1="179.03" y1="837" x2="179.03" y2="834.5" stroke="#262626" stroke-width="0.9" />
<line x1="179.03" y1="475" x2="179.03" y2="477.5" stroke="#262626" stroke-width="0.9" />
<line x1="184.5" y1="837" x2="184.5" y2="834.5" stroke="#262626" stroke-width="0.9" />
<line x1="184.5" y1="475" x2="184.5" y2="477.5" stroke="#262626" stroke-width="0.9" />
<line x1="189.4" y1="837" x2="189.4" y2="832.5" stroke="#262626" stroke-width="0.9" />
<line x1="189.4" y1="475" x2="189.4" y2="479.5" stroke="#262626" stroke-width="0.9" />
<line x1="221.61" y1="837" x2="221.61" y2="834.5" stroke="#262626" stroke-width="0.9" />
<line x1="221.61" y1="475" x2="221.61" y2="477.5" stroke="#262626" stroke-width="0.9" />
<line x1="240.45" y1="837" x2="240.45" y2="834.5" stroke="#262626" stroke-width="0.9" />
<line x1="240.45" y1="475" x2="240.45" y2="477.5" stroke="#262626" stroke-width="0.9" />
<line x1="253.82" y1="837" x2="253.82" y2="834.5" stroke="#262626" stroke-width="0.9" />
<line x1="253.82" y1="475" x2="253.82" y2="477.5" stroke="#262626" stroke-width="0.9" />
<line x1="264.19" y1="837" x2="264.19" y2="834.5" stroke="#262626" stroke-width="0.9" />
<line x1="264.19" y1="475" x2="264.19" y2="477.5" stroke="#262626" stroke-width="0.9" />
<line x1="272.66" y1="837" x2="272.66" y2="834.5" stroke="#262626" stroke-width="0.9" />
<line x1="272.66" y1="475" x2="272.66" y2="477.5" stroke="#262626" stroke-width="0.9" />
<line x1="279.83" y1="837" x2="279.83" y2="834.5" stroke="#262626" stroke-width="0.9" />
<line x1="279.83" y1="475" x2="279.83" y2="477.5" stroke="#262626" stroke-width="0.9" />
<line x1="286.03" y1="837" x2="286.03" y2="834.5" stroke="#262626" stroke-width="0.9" />
<line x1="286.03" y1="475" x2="286.03" y2="477.5" stroke="#262626" stroke-width="0.9" />
<line x1="291.5" y1="837" x2="291.5" y2="834.5" stroke="#262626" stroke-width="0.9" />
<line x1="291.5" y1="475" x2="291.5" y2="477.5" stroke="#262626" stroke-width="0.9" />
<line x1="296.4" y1="837" x2="296.4" y2="832.5" stroke="#262626" stroke-width="0.9" />
<line x1="296.4" y1="475" x2="296.4" y2="479.5" stroke="#262626" stroke-width="0.9" />
<line x1="328.61" y1="837" x2="328.61" y2="834.5" stroke="#262626" stroke-width="0.9" />
<line x1="328.61" y1="475" x2="328.61" y2="477.5" stroke="#262626" stroke-width="0.9" />
<line x1="347.45" y1="837" x2="347.45" y2="834.5" stroke="#262626" stroke-width="0.9" />
<line x1="347.45" y1="475" x2="347.45" y2="477.5" stroke="#262626" stroke-width="0.9" />
<line x1="360.82" y1="837" x2="360.82" y2="834.5" stroke="#262626" stroke-width="0.9" />
<line x1="360.82" y1="475" x2="360.82" y2="477.5" stroke="#262626" stroke-width="0.9" />
<line x1="371.19" y1="837" x2="371.19" y2="834.5" stroke="#262626" stroke-width="0.9" />
<line x1="371.19" y1="475" x2="371.19" y2="477.5" stroke="#262626" stroke-width="0.9" />
<line x1="379.66" y1="837" x2="379.66" y2="834.5" stroke="#262626" stroke-width="0.9" />
<line x1="379.66" y1="475" x2="379.66" y2="477.5" stroke="#262626" stroke-width="0.9" />
<line x1="386.83" y1="837" x2="386.83" y2="834.5" stroke="#262626" stroke-width="0.9" />
<line x1="386.83" y1="475" x2="386.83" y2="477.5" stroke="#262626" stroke-width="0.9" />
<line x1="393.03" y1="837" x2="393.03" y2="834.5" stroke="#262626" stroke-width="0.9" />
<line x1="393.03" y1="475" x2="393.03" y2="477.5" stroke="#262626" stroke-width="0.9" />
<line x1="398.5" y1="837" x2="398.5" y2="834.5" stroke="#262626" stroke-width="0.9" />
<line x1="398.5" y1="475" x2="398.5" y2="477.5" stroke="#262626" stroke-width="0.9" />
<line x1="403.4" y1="837" x2="403.4" y2="832.5" stroke="#262626" stroke-width="0.9" />
<line x1="403.4" y1="475" x2="403.4" y2="479.5" stroke="#262626" stroke-width="0.9" />
<line x1="435.61" y1="837" x2="435.61" y2="834.5" stroke="#262626" stroke-width="0.9" />
<line x1="435.61" y1="475" x2="435.61" y2="477.5" stroke="#262626" stroke-width="0.9" />
<line x1="454.45" y1="837" x2="454.45" y2="834.5" stroke="#262626" stroke-width="0.9" />
<line x1="454.45" y1="475" x2="454.45" y2="477.5" stroke="#262626" stroke-width="0.9" />
<line x1="467.82" y1="837" x2="467.82" y2="834.5" stroke="#262626" stroke-width="0.9" />
<line x1="467.82" y1="475" x2="467.82" y2="477.5" stroke="#262626" stroke-width="0.9" />
<line x1="478.19" y1="837" x2="478.19" y2="834.5" stroke="#262626" stroke-width="0.9" />
<line x1="478.19" y1="475" x2="478.19" y2="477.5" stroke="#262626" stroke-width="0.9" />
<line x1="486.66" y1="837" x2="486.66" y2="834.5" stroke="#262626" stroke-width="0.9" />
<line x1="486.66" y1="475" x2="486.66" y2="477.5" stroke="#262626" stroke-width="0.9" />
<line x1="493.83" y1="837" x2="493.83" y2="834.5" stroke="#262626" stroke-width="0.9" />
<line x1="493.83" y1="475" x2="493.83" y2="477.5" stroke="#262626" stroke-width="0.9" />
<line x1="500.03" y1="837" x2="500.03" y2="834.5" stroke="#262626" stroke-width="0.9" />
<line x1="500.03" y1="475" x2="500.03" y2="477.5" stroke="#262626" stroke-width="0.9" />
<line x1="505.5" y1="837" x2="505.5" y2="834.5" stroke="#262626" stroke-width="0.9" />
<line x1="505.5" y1="475" x2="505.5" y2="477.5" stroke="#262626" stroke-width="0.9" />
<line x1="50.4" y1="826.82" x2="52.9" y2="826.82" stroke="#262626" stroke-width="0.9" />
<line x1="510.4" y1="826.82" x2="507.9" y2="826.82" stroke="#262626" stroke-width="0.9" />
<line x1="50.4" y1="818.18" x2="52.9" y2="818.18" stroke="#262626" stroke-width="0.9" />
<line x1="510.4" y1="818.18" x2="507.9" y2="818.18" stroke="#262626" stroke-width="0.9" />
<line x1="50.4" y1="810.7" x2="52.9" y2="810.7" stroke="#262626" stroke-width="0.9" />
<line x1="510.4" y1="810.7" x2="507.9" y2="810.7" stroke="#262626" stroke-width="0.9" />
<line x1="50.4" y1="804.1" x2="52.9" y2="804.1" stroke="#262626" stroke-width="0.9" />
<line x1="510.4" y1="804.1" x2="507.9" y2="804.1" stroke="#262626" stroke-width="0.9" />
<line x1="50.4" y1="798.2" x2="54.9" y2="798.2" stroke="#262626" stroke-width="0.9" />
<line x1="510.4" y1="798.2" x2="505.9" y2="798.2" stroke="#262626" stroke-width="0.9" />
<line x1="50.4" y1="759.37" x2="52.9" y2="759.37" stroke="#262626" stroke-width="0.9" />
<line x1="510.4" y1="759.37" x2="507.9" y2="759.37" stroke="#262626" stroke-width="0.9" />
<line x1="50.4" y1="736.65" x2="52.9" y2="736.65" stroke="#262626" stroke-width="0.9" />
<line x1="510.4" y1="736.65" x2="507.9" y2="736.65" stroke="#262626" stroke-width="0.9" />
<line x1="50.4" y1="720.53" x2="52.9" y2="720.53" stroke="#262626" stroke-width="0.9" />
<line x1="510.4" y1="720.53" x2="507.9" y2="720.53" stroke="#262626" stroke-width="0.9" />
<line x1="50.4" y1="708.03" x2="52.9" y2="708.03" stroke="#262626" stroke-width="0.9" />
<line x1="510.4" y1="708.03" x2="507.9" y2="708.03" stroke="#262626" stroke-width="0.9" />
<line x1="50.4" y1="697.82" x2="52.9" y2="697.82" stroke="#262626" stroke-width="0.9" />
<line x1="510.4" y1="697.82" x2="507.9" y2="697.82" stroke="#262626" stroke-width="0.9" />
<line x1="50.4" y1="689.18" x2="52.9" y2="689.18" stroke="#262626" stroke-width="0.9" />
<line x1="510.4" y1="689.18" x2="507.9" y2="689.18" stroke="#262626" stroke-width="0.9" />
<line x1="50.4" y1="681.7" x2="52.9" y2="681.7" stroke="#262626" stroke-width="0.9" />
<line x1="510.4" y1="681.7" x2="507.9" y2="681.7" stroke="#262626" stroke-width="0.9" />
<line x1="50.4" y1="675.1" x2="52.9" y2="675.1" stroke="#262626" stroke-width="0.9" />
<line x1="510.4" y1="675.1" x2="507.9" y2="675.1" stroke="#262626" stroke-width="0.9" />
<line x1="50.4" y1="669.2" x2="54.9" y2="669.2" stroke="#262626" stroke-width="0.9" />
<line x1="510.4" y1="669.2" x2="505.9" y2="669.2" stroke="#262626" stroke-width="0.9" />
<line x1="50.4" y1="630.37" x2="52.9" y2="630.37" stroke="#262626" stroke-width="0.9" />
<line x1="510.4" y1="630.37" x2="507.9" y2="630.37" stroke="#262626" stroke-width="0.9" />
<line x1="50.4" y1="607.65" x2="52.9" y2="607.65" stroke="#262626" stroke-width="0.9" />
<line x1="510.4" y1="607.65" x2="507.9" y2="607.65" stroke="#262626" stroke-width="0.9" />
<line x1="50.4" y1="591.53" x2="52.9" y2="591.53" stroke="#262626" stroke-width="0.9" />
<line x1="510.4" y1="591.53" x2="507.9" y2="591.53" stroke="#262626" stroke-width="0.9" />
<line x1="50.4" y1="579.03" x2="52.9" y2="579.03" stroke="#262626" stroke-width="0.9" />
<line x1="510.4" y1="579.03" x2="507.9" y2="579.03" stroke="#262626" stroke-width="0.9" />
<line x1="50.4" y1="568.82" x2="52.9" y2="568.82" stroke="#262626" stroke-width="0.9" />
<line x1="510.4" y1="568.82" x2="507.9" y2="568.82" stroke="#262626" stroke-width="0.9" />
<line x1="50.4" y1="560.18" x2="52.9" y2="560.18" stroke="#262626" stroke-width="0.9" />
<line x1="510.4" y1="560.18" x2="507.9" y2="560.18" stroke="#262626" stroke-width="0.9" />
<line x1="50.4" y1="552.7" x2="52.9" y2="552.7" stroke="#262626" stroke-width="0.9" />
<line x1="510.4" y1="552.7" x2="507.9" y2="552.7" stroke="#262626" stroke-width="0.9" />
<line x1="50.4" y1="546.1" x2="52.9" y2="546.1" stroke="#262626" stroke-width="0.9" />
<line x1="510.4" y1="546.1" x2="507.9" y2="546.1" stroke="#262626" stroke-width="0.9" />
<line x1="50.4" y1="540.2" x2="54.9" y2="540.2" stroke="#262626" stroke-width="0.9" />
<line x1="510.4" y1="540.2" x2="505.9" y2="540.2" stroke="#262626" stroke-width="0.9" />
<line x1="50.4" y1="501.37" x2="52.9" y2="501.37" stroke="#262626" stroke-width="0.9" />
<line x1="510.4" y1="501.37" x2="507.9" y2="501.37" stroke="#262626" stroke-width="0.9" />
<line x1="50.4" y1="478.65" x2="52.9" y2="478.65" stroke="#262626" stroke-width="0.9" />
<line x1="510.4" y1="478.65" x2="507.9" y2="478.65" stroke="#262626" stroke-width="0.9" />
<text x="82.7" y="859.5" font-size="14" text-anchor="middle">10<tspan font-size="10" dy="-7">-4</tspan></text>
<text x="189.7" y="859.5" font-size="14" text-anchor="middle">10<tspan font-size="10" dy="-7">-3</tspan></text>
<text x="296.7" y="859.5" font-size="14" text-anchor="middle">10<tspan font-size="10" dy="-7">-2</tspan></text>
<text x="403.7" y="859.5" font-size="14" text-anchor="middle">10<tspan font-size="10" dy="-7">-1</tspan></text>
<text x="510.7" y="859.5" font-size="14" text-anchor="middle">10<tspan font-size="10" dy="-7">0</tspan></text>
<text x="25.2" y="806.4" font-size="14">10<tspan font-size="10" dy="-7">-1</tspan></text>
<text x="25.2" y="677.4" font-size="14">10<tspan font-size="10" dy="-7">0</tspan></text>
<text x="25.2" y="548.4" font-size="14">10<tspan font-size="10" dy="-7">1</tspan></text>
<text x="280.4" y="879" font-size="16.5" text-anchor="middle"><tspan font-style="italic">z</tspan>/<tspan font-style="italic">L</tspan><tspan font-style="italic" font-size="9.5" dy="2.5">z</tspan></text>
<text transform="translate(15,654) rotate(-90)" font-size="16" text-anchor="middle"><tspan font-style="italic">σ</tspan><tspan font-style="italic" font-size="9.5" dy="2.5">T</tspan><tspan dy="-2.5">/</tspan><tspan font-style="italic">θ</tspan><tspan font-size="9.5" dy="2.5">*</tspan></text>
<text x="267.7" y="907.6" font-size="19.5" style="stroke-width:0.25px" textLength="26" lengthAdjust="spacingAndGlyphs">(b)</text>
<rect x="329.9" y="484.1" width="169.1" height="58.5" fill="#ffffff" stroke="#262626" stroke-width="1.2"/>
<polygon points="353.6,487.9 355.45,492.85 360.73,493.08 356.6,496.37 358.01,501.47 353.6,498.55 349.19,501.47 350.6,496.37 346.47,493.08 351.75,492.85" fill="#000" stroke="#000" stroke-width="0.6" stroke-linejoin="round"/>
<polygon points="353.6,508.9 355.04,511.4 357.93,511.4 356.49,513.9 357.93,516.4 355.04,516.4 353.6,518.9 352.16,516.4 349.27,516.4 350.72,513.9 349.27,511.4 352.16,511.4" fill="#9a9a9a" stroke="#000" stroke-width="2.7" stroke-linejoin="miter" stroke-miterlimit="3"/>
<path d="M353.6 526.4L358 532.4L353.6 538.4L349.2 532.4Z" fill="#b5b5b5" stroke="#000" stroke-width="2.4" stroke-linejoin="miter"/>
<text x="375.9" y="499.7" font-size="14.5" textLength="117.7" lengthAdjust="spacing"><tspan font-style="italic">z</tspan><tspan font-size="10" dy="2.5">t,w</tspan><tspan dy="-2.5">@</tspan><tspan font-style="italic">Ra</tspan> = 5 × 10<tspan font-size="9.5" dy="-6.5">8</tspan></text>
<text x="375.9" y="518.2" font-size="14.5" textLength="119" lengthAdjust="spacing"><tspan font-style="italic">z</tspan><tspan font-size="10" dy="2.5">m,b</tspan><tspan dy="-2.5">@</tspan><tspan font-style="italic">Ra</tspan> = 5 × 10<tspan font-size="9.5" dy="-6.5">8</tspan></text>
<text x="375.9" y="536.7" font-size="14.5" textLength="116.9" lengthAdjust="spacing"><tspan font-style="italic">z</tspan><tspan font-size="10" dy="2.5">t,b</tspan><tspan dy="-2.5">@</tspan><tspan font-style="italic">Ra</tspan> = 5 × 10<tspan font-size="9.5" dy="-6.5">8</tspan></text>
<rect x="241" y="661.5" width="176.7" height="128.5" fill="#ffffff"/>
<line x1="252.4" y1="661.5" x2="252.4" y2="790" stroke="#d9d9d9" stroke-width="0.8" />
<line x1="289" y1="661.5" x2="289" y2="790" stroke="#d9d9d9" stroke-width="0.8" />
<line x1="325.6" y1="661.5" x2="325.6" y2="790" stroke="#d9d9d9" stroke-width="0.8" />
<line x1="362.2" y1="661.5" x2="362.2" y2="790" stroke="#d9d9d9" stroke-width="0.8" />
<line x1="398.8" y1="661.5" x2="398.8" y2="790" stroke="#d9d9d9" stroke-width="0.8" />
<line x1="241" y1="773.22" x2="417.7" y2="773.22" stroke="#c4c4c4" stroke-width="0.7" stroke-dasharray="1 2"/>
<line x1="241" y1="763.4" x2="417.7" y2="763.4" stroke="#c4c4c4" stroke-width="0.7" stroke-dasharray="1 2"/>
<line x1="241" y1="756.44" x2="417.7" y2="756.44" stroke="#c4c4c4" stroke-width="0.7" stroke-dasharray="1 2"/>
<line x1="241" y1="751.03" x2="417.7" y2="751.03" stroke="#c4c4c4" stroke-width="0.7" stroke-dasharray="1 2"/>
<line x1="241" y1="746.62" x2="417.7" y2="746.62" stroke="#c4c4c4" stroke-width="0.7" stroke-dasharray="1 2"/>
<line x1="241" y1="742.89" x2="417.7" y2="742.89" stroke="#c4c4c4" stroke-width="0.7" stroke-dasharray="1 2"/>
<line x1="241" y1="739.65" x2="417.7" y2="739.65" stroke="#c4c4c4" stroke-width="0.7" stroke-dasharray="1 2"/>
<line x1="241" y1="736.8" x2="417.7" y2="736.8" stroke="#c4c4c4" stroke-width="0.7" stroke-dasharray="1 2"/>
<line x1="241" y1="734.25" x2="417.7" y2="734.25" stroke="#d9d9d9" stroke-width="0.8" />
<line x1="241" y1="717.47" x2="417.7" y2="717.47" stroke="#c4c4c4" stroke-width="0.7" stroke-dasharray="1 2"/>
<line x1="241" y1="707.65" x2="417.7" y2="707.65" stroke="#c4c4c4" stroke-width="0.7" stroke-dasharray="1 2"/>
<line x1="241" y1="700.69" x2="417.7" y2="700.69" stroke="#c4c4c4" stroke-width="0.7" stroke-dasharray="1 2"/>
<line x1="241" y1="695.28" x2="417.7" y2="695.28" stroke="#c4c4c4" stroke-width="0.7" stroke-dasharray="1 2"/>
<line x1="241" y1="690.87" x2="417.7" y2="690.87" stroke="#c4c4c4" stroke-width="0.7" stroke-dasharray="1 2"/>
<line x1="241" y1="687.14" x2="417.7" y2="687.14" stroke="#c4c4c4" stroke-width="0.7" stroke-dasharray="1 2"/>
<line x1="241" y1="683.9" x2="417.7" y2="683.9" stroke="#c4c4c4" stroke-width="0.7" stroke-dasharray="1 2"/>
<line x1="241" y1="681.05" x2="417.7" y2="681.05" stroke="#c4c4c4" stroke-width="0.7" stroke-dasharray="1 2"/>
<line x1="241" y1="678.5" x2="417.7" y2="678.5" stroke="#d9d9d9" stroke-width="0.8" />
<g clip-path="url(#ci)"><circle cx="260" cy="764.02" r="3.65" fill="none" stroke="#DE2E18" stroke-width="1.35"/>
<circle cx="277.46" cy="735.46" r="3.65" fill="none" stroke="#DE2E18" stroke-width="1.35"/>
<circle cx="285.58" cy="720.84" r="3.65" fill="none" stroke="#DE2E18" stroke-width="1.35"/>
<circle cx="291.08" cy="711.97" r="3.65" fill="none" stroke="#DE2E18" stroke-width="1.35"/>
<circle cx="296.58" cy="703.91" r="3.65" fill="none" stroke="#DE2E18" stroke-width="1.35"/>
<circle cx="299.85" cy="699.69" r="3.65" fill="none" stroke="#DE2E18" stroke-width="1.35"/>
<circle cx="301.52" cy="697.64" r="3.65" fill="none" stroke="#DE2E18" stroke-width="1.35"/>
<circle cx="303.12" cy="695.73" r="3.65" fill="none" stroke="#DE2E18" stroke-width="1.35"/>
<circle cx="304.72" cy="693.88" r="3.65" fill="none" stroke="#DE2E18" stroke-width="1.35"/>
<circle cx="306.32" cy="692.11" r="3.65" fill="none" stroke="#DE2E18" stroke-width="1.35"/>
<circle cx="307.92" cy="690.43" r="3.65" fill="none" stroke="#DE2E18" stroke-width="1.35"/>
<circle cx="309.52" cy="688.84" r="3.65" fill="none" stroke="#DE2E18" stroke-width="1.35"/>
<circle cx="311.12" cy="687.35" r="3.65" fill="none" stroke="#DE2E18" stroke-width="1.35"/>
<circle cx="312.72" cy="685.98" r="3.65" fill="none" stroke="#DE2E18" stroke-width="1.35"/>
<circle cx="314.32" cy="684.67" r="3.65" fill="none" stroke="#DE2E18" stroke-width="1.35"/>
<circle cx="315.92" cy="683.4" r="3.65" fill="none" stroke="#DE2E18" stroke-width="1.35"/>
<circle cx="317.52" cy="682.27" r="3.65" fill="none" stroke="#DE2E18" stroke-width="1.35"/>
<circle cx="319.12" cy="681.37" r="3.65" fill="none" stroke="#DE2E18" stroke-width="1.35"/>
<circle cx="320.72" cy="680.74" r="3.65" fill="none" stroke="#DE2E18" stroke-width="1.35"/>
<circle cx="322.32" cy="680.18" r="3.65" fill="none" stroke="#DE2E18" stroke-width="1.35"/>
<circle cx="323.92" cy="679.75" r="3.65" fill="none" stroke="#DE2E18" stroke-width="1.35"/>
<circle cx="325.52" cy="679.51" r="3.65" fill="none" stroke="#DE2E18" stroke-width="1.35"/>
<circle cx="327.12" cy="679.56" r="3.65" fill="none" stroke="#DE2E18" stroke-width="1.35"/>
<circle cx="328.72" cy="679.81" r="3.65" fill="none" stroke="#DE2E18" stroke-width="1.35"/>
<circle cx="330.32" cy="679.71" r="3.65" fill="none" stroke="#DE2E18" stroke-width="1.35"/>
<circle cx="331.92" cy="680.18" r="3.65" fill="none" stroke="#DE2E18" stroke-width="1.35"/>
<circle cx="333.52" cy="680.66" r="3.65" fill="none" stroke="#DE2E18" stroke-width="1.35"/>
<circle cx="335.12" cy="681.27" r="3.65" fill="none" stroke="#DE2E18" stroke-width="1.35"/>
<circle cx="336.72" cy="682.02" r="3.65" fill="none" stroke="#DE2E18" stroke-width="1.35"/>
<circle cx="338.32" cy="682.88" r="3.65" fill="none" stroke="#DE2E18" stroke-width="1.35"/>
<circle cx="339.92" cy="683.82" r="3.65" fill="none" stroke="#DE2E18" stroke-width="1.35"/>
<circle cx="341.52" cy="684.81" r="3.65" fill="none" stroke="#DE2E18" stroke-width="1.35"/>
<circle cx="343.12" cy="685.83" r="3.65" fill="none" stroke="#DE2E18" stroke-width="1.35"/>
<circle cx="344.72" cy="686.83" r="3.65" fill="none" stroke="#DE2E18" stroke-width="1.35"/>
<circle cx="346.32" cy="687.82" r="3.65" fill="none" stroke="#DE2E18" stroke-width="1.35"/>
<circle cx="347.92" cy="688.85" r="3.65" fill="none" stroke="#DE2E18" stroke-width="1.35"/>
<circle cx="349.52" cy="689.92" r="3.65" fill="none" stroke="#DE2E18" stroke-width="1.35"/>
<circle cx="351.12" cy="691.03" r="3.65" fill="none" stroke="#DE2E18" stroke-width="1.35"/>
<circle cx="352.72" cy="692.21" r="3.65" fill="none" stroke="#DE2E18" stroke-width="1.35"/>
<circle cx="354.32" cy="693.45" r="3.65" fill="none" stroke="#DE2E18" stroke-width="1.35"/>
<circle cx="355.92" cy="694.79" r="3.65" fill="none" stroke="#DE2E18" stroke-width="1.35"/>
<circle cx="357.52" cy="696.3" r="3.65" fill="none" stroke="#DE2E18" stroke-width="1.35"/>
<circle cx="359.12" cy="697.92" r="3.65" fill="none" stroke="#DE2E18" stroke-width="1.35"/>
<circle cx="360.72" cy="699.58" r="3.65" fill="none" stroke="#DE2E18" stroke-width="1.35"/>
<circle cx="362.42" cy="701.31" r="3.65" fill="none" stroke="#DE2E18" stroke-width="1.35"/>
<circle cx="364.34" cy="703.13" r="3.65" fill="none" stroke="#DE2E18" stroke-width="1.35"/>
<circle cx="366.52" cy="704.98" r="3.65" fill="none" stroke="#DE2E18" stroke-width="1.35"/>
<circle cx="368.99" cy="706.93" r="3.65" fill="none" stroke="#DE2E18" stroke-width="1.35"/>
<circle cx="371.79" cy="709.07" r="3.65" fill="none" stroke="#DE2E18" stroke-width="1.35"/>
<circle cx="374.96" cy="711.59" r="3.65" fill="none" stroke="#DE2E18" stroke-width="1.35"/>
<circle cx="378.55" cy="714.81" r="3.65" fill="none" stroke="#DE2E18" stroke-width="1.35"/>
<circle cx="382.15" cy="718.47" r="3.65" fill="none" stroke="#DE2E18" stroke-width="1.35"/>
<circle cx="385.75" cy="722.44" r="3.65" fill="none" stroke="#DE2E18" stroke-width="1.35"/>
<circle cx="389.35" cy="726.63" r="3.65" fill="none" stroke="#DE2E18" stroke-width="1.35"/>
<circle cx="392.95" cy="730.94" r="3.65" fill="none" stroke="#DE2E18" stroke-width="1.35"/>
<circle cx="396.55" cy="735.39" r="3.65" fill="none" stroke="#DE2E18" stroke-width="1.35"/>
<circle cx="400.15" cy="740.01" r="3.65" fill="none" stroke="#DE2E18" stroke-width="1.35"/>
<circle cx="403.75" cy="744.81" r="3.65" fill="none" stroke="#DE2E18" stroke-width="1.35"/>
<circle cx="407.35" cy="749.79" r="3.65" fill="none" stroke="#DE2E18" stroke-width="1.35"/>
<circle cx="258" cy="766.5" r="3.65" fill="none" stroke="#E8B020" stroke-width="1.35"/>
<circle cx="275.46" cy="739.21" r="3.65" fill="none" stroke="#E8B020" stroke-width="1.35"/>
<circle cx="283.58" cy="724.21" r="3.65" fill="none" stroke="#E8B020" stroke-width="1.35"/>
<circle cx="289.08" cy="715.13" r="3.65" fill="none" stroke="#E8B020" stroke-width="1.35"/>
<circle cx="294.58" cy="706.71" r="3.65" fill="none" stroke="#E8B020" stroke-width="1.35"/>
<circle cx="298.82" cy="700.97" r="3.65" fill="none" stroke="#E8B020" stroke-width="1.35"/>
<circle cx="301" cy="698.27" r="3.65" fill="none" stroke="#E8B020" stroke-width="1.35"/>
<circle cx="302.6" cy="696.35" r="3.65" fill="none" stroke="#E8B020" stroke-width="1.35"/>
<circle cx="304.2" cy="694.48" r="3.65" fill="none" stroke="#E8B020" stroke-width="1.35"/>
<circle cx="305.8" cy="692.69" r="3.65" fill="none" stroke="#E8B020" stroke-width="1.35"/>
<circle cx="307.4" cy="690.97" r="3.65" fill="none" stroke="#E8B020" stroke-width="1.35"/>
<circle cx="309" cy="689.35" r="3.65" fill="none" stroke="#E8B020" stroke-width="1.35"/>
<circle cx="310.6" cy="687.83" r="3.65" fill="none" stroke="#E8B020" stroke-width="1.35"/>
<circle cx="312.2" cy="686.42" r="3.65" fill="none" stroke="#E8B020" stroke-width="1.35"/>
<circle cx="313.8" cy="685.1" r="3.65" fill="none" stroke="#E8B020" stroke-width="1.35"/>
<circle cx="315.4" cy="683.81" r="3.65" fill="none" stroke="#E8B020" stroke-width="1.35"/>
<circle cx="317" cy="682.62" r="3.65" fill="none" stroke="#E8B020" stroke-width="1.35"/>
<circle cx="318.6" cy="681.64" r="3.65" fill="none" stroke="#E8B020" stroke-width="1.35"/>
<circle cx="320.2" cy="680.93" r="3.65" fill="none" stroke="#E8B020" stroke-width="1.35"/>
<circle cx="321.8" cy="680.36" r="3.65" fill="none" stroke="#E8B020" stroke-width="1.35"/>
<circle cx="323.4" cy="679.87" r="3.65" fill="none" stroke="#E8B020" stroke-width="1.35"/>
<circle cx="325" cy="679.56" r="3.65" fill="none" stroke="#E8B020" stroke-width="1.35"/>
<circle cx="326.6" cy="679.52" r="3.65" fill="none" stroke="#E8B020" stroke-width="1.35"/>
<circle cx="328.2" cy="679.78" r="3.65" fill="none" stroke="#E8B020" stroke-width="1.35"/>
<circle cx="329.8" cy="680.25" r="3.65" fill="none" stroke="#E8B020" stroke-width="1.35"/>
<circle cx="331.4" cy="680.36" r="3.65" fill="none" stroke="#E8B020" stroke-width="1.35"/>
<circle cx="333" cy="681" r="3.65" fill="none" stroke="#E8B020" stroke-width="1.35"/>
<circle cx="334.6" cy="681.78" r="3.65" fill="none" stroke="#E8B020" stroke-width="1.35"/>
<circle cx="336.2" cy="682.8" r="3.65" fill="none" stroke="#E8B020" stroke-width="1.35"/>
<circle cx="337.8" cy="683.94" r="3.65" fill="none" stroke="#E8B020" stroke-width="1.35"/>
<circle cx="339.4" cy="685.09" r="3.65" fill="none" stroke="#E8B020" stroke-width="1.35"/>
<circle cx="341" cy="686.17" r="3.65" fill="none" stroke="#E8B020" stroke-width="1.35"/>
<circle cx="342.6" cy="687.23" r="3.65" fill="none" stroke="#E8B020" stroke-width="1.35"/>
<circle cx="344.2" cy="688.31" r="3.65" fill="none" stroke="#E8B020" stroke-width="1.35"/>
<circle cx="345.8" cy="689.41" r="3.65" fill="none" stroke="#E8B020" stroke-width="1.35"/>
<circle cx="347.4" cy="690.54" r="3.65" fill="none" stroke="#E8B020" stroke-width="1.35"/>
<circle cx="349" cy="691.73" r="3.65" fill="none" stroke="#E8B020" stroke-width="1.35"/>
<circle cx="350.6" cy="692.97" r="3.65" fill="none" stroke="#E8B020" stroke-width="1.35"/>
<circle cx="352.2" cy="694.21" r="3.65" fill="none" stroke="#E8B020" stroke-width="1.35"/>
<circle cx="353.8" cy="695.5" r="3.65" fill="none" stroke="#E8B020" stroke-width="1.35"/>
<circle cx="355.4" cy="696.88" r="3.65" fill="none" stroke="#E8B020" stroke-width="1.35"/>
<circle cx="357" cy="698.4" r="3.65" fill="none" stroke="#E8B020" stroke-width="1.35"/>
<circle cx="358.6" cy="700.11" r="3.65" fill="none" stroke="#E8B020" stroke-width="1.35"/>
<circle cx="360.2" cy="702.24" r="3.65" fill="none" stroke="#E8B020" stroke-width="1.35"/>
<circle cx="361.82" cy="704.83" r="3.65" fill="none" stroke="#E8B020" stroke-width="1.35"/>
<circle cx="363.67" cy="707.96" r="3.65" fill="none" stroke="#E8B020" stroke-width="1.35"/>
<circle cx="365.76" cy="711.35" r="3.65" fill="none" stroke="#E8B020" stroke-width="1.35"/>
<circle cx="368.12" cy="714.67" r="3.65" fill="none" stroke="#E8B020" stroke-width="1.35"/>
<circle cx="370.81" cy="718.18" r="3.65" fill="none" stroke="#E8B020" stroke-width="1.35"/>
<circle cx="373.85" cy="722.03" r="3.65" fill="none" stroke="#E8B020" stroke-width="1.35"/>
<circle cx="377.29" cy="726.46" r="3.65" fill="none" stroke="#E8B020" stroke-width="1.35"/>
<circle cx="380.89" cy="731.16" r="3.65" fill="none" stroke="#E8B020" stroke-width="1.35"/>
<circle cx="384.49" cy="735.91" r="3.65" fill="none" stroke="#E8B020" stroke-width="1.35"/>
<circle cx="388.09" cy="741.14" r="3.65" fill="none" stroke="#E8B020" stroke-width="1.35"/>
<circle cx="391.69" cy="747.08" r="3.65" fill="none" stroke="#E8B020" stroke-width="1.35"/>
<circle cx="395.29" cy="753.61" r="3.65" fill="none" stroke="#E8B020" stroke-width="1.35"/>
<circle cx="398.89" cy="760.71" r="3.65" fill="none" stroke="#E8B020" stroke-width="1.35"/>
<circle cx="255.6" cy="769.5" r="3.65" fill="none" stroke="#6218E8" stroke-width="1.35"/>
<circle cx="273.06" cy="743.7" r="3.65" fill="none" stroke="#6218E8" stroke-width="1.35"/>
<circle cx="281.18" cy="728.51" r="3.65" fill="none" stroke="#6218E8" stroke-width="1.35"/>
<circle cx="286.68" cy="719.02" r="3.65" fill="none" stroke="#6218E8" stroke-width="1.35"/>
<circle cx="292.18" cy="710.28" r="3.65" fill="none" stroke="#6218E8" stroke-width="1.35"/>
<circle cx="297.59" cy="702.55" r="3.65" fill="none" stroke="#6218E8" stroke-width="1.35"/>
<circle cx="300.37" cy="699.05" r="3.65" fill="none" stroke="#6218E8" stroke-width="1.35"/>
<circle cx="301.97" cy="697.1" r="3.65" fill="none" stroke="#6218E8" stroke-width="1.35"/>
<circle cx="303.57" cy="695.21" r="3.65" fill="none" stroke="#6218E8" stroke-width="1.35"/>
<circle cx="305.17" cy="693.38" r="3.65" fill="none" stroke="#6218E8" stroke-width="1.35"/>
<circle cx="306.77" cy="691.64" r="3.65" fill="none" stroke="#6218E8" stroke-width="1.35"/>
<circle cx="308.37" cy="689.98" r="3.65" fill="none" stroke="#6218E8" stroke-width="1.35"/>
<circle cx="309.97" cy="688.41" r="3.65" fill="none" stroke="#6218E8" stroke-width="1.35"/>
<circle cx="311.57" cy="686.96" r="3.65" fill="none" stroke="#6218E8" stroke-width="1.35"/>
<circle cx="313.17" cy="685.62" r="3.65" fill="none" stroke="#6218E8" stroke-width="1.35"/>
<circle cx="314.77" cy="684.31" r="3.65" fill="none" stroke="#6218E8" stroke-width="1.35"/>
<circle cx="316.37" cy="683.07" r="3.65" fill="none" stroke="#6218E8" stroke-width="1.35"/>
<circle cx="317.97" cy="681.99" r="3.65" fill="none" stroke="#6218E8" stroke-width="1.35"/>
<circle cx="319.57" cy="681.17" r="3.65" fill="none" stroke="#6218E8" stroke-width="1.35"/>
<circle cx="321.17" cy="680.58" r="3.65" fill="none" stroke="#6218E8" stroke-width="1.35"/>
<circle cx="322.77" cy="680.05" r="3.65" fill="none" stroke="#6218E8" stroke-width="1.35"/>
<circle cx="324.37" cy="679.66" r="3.65" fill="none" stroke="#6218E8" stroke-width="1.35"/>
<circle cx="325.97" cy="679.5" r="3.65" fill="none" stroke="#6218E8" stroke-width="1.35"/>
<circle cx="327.57" cy="679.64" r="3.65" fill="none" stroke="#6218E8" stroke-width="1.35"/>
<circle cx="329.17" cy="680.04" r="3.65" fill="none" stroke="#6218E8" stroke-width="1.35"/>
<circle cx="330.77" cy="680.1" r="3.65" fill="none" stroke="#6218E8" stroke-width="1.35"/>
<circle cx="332.37" cy="680.74" r="3.65" fill="none" stroke="#6218E8" stroke-width="1.35"/>
<circle cx="333.97" cy="681.47" r="3.65" fill="none" stroke="#6218E8" stroke-width="1.35"/>
<circle cx="335.57" cy="682.52" r="3.65" fill="none" stroke="#6218E8" stroke-width="1.35"/>
<circle cx="337.17" cy="683.77" r="3.65" fill="none" stroke="#6218E8" stroke-width="1.35"/>
<circle cx="338.77" cy="685.07" r="3.65" fill="none" stroke="#6218E8" stroke-width="1.35"/>
<circle cx="340.37" cy="686.26" r="3.65" fill="none" stroke="#6218E8" stroke-width="1.35"/>
<circle cx="341.97" cy="687.35" r="3.65" fill="none" stroke="#6218E8" stroke-width="1.35"/>
<circle cx="343.57" cy="688.42" r="3.65" fill="none" stroke="#6218E8" stroke-width="1.35"/>
<circle cx="345.17" cy="689.49" r="3.65" fill="none" stroke="#6218E8" stroke-width="1.35"/>
<circle cx="346.77" cy="690.58" r="3.65" fill="none" stroke="#6218E8" stroke-width="1.35"/>
<circle cx="348.37" cy="691.74" r="3.65" fill="none" stroke="#6218E8" stroke-width="1.35"/>
<circle cx="349.97" cy="692.97" r="3.65" fill="none" stroke="#6218E8" stroke-width="1.35"/>
<circle cx="351.57" cy="694.27" r="3.65" fill="none" stroke="#6218E8" stroke-width="1.35"/>
<circle cx="353.17" cy="695.61" r="3.65" fill="none" stroke="#6218E8" stroke-width="1.35"/>
<circle cx="354.77" cy="697.04" r="3.65" fill="none" stroke="#6218E8" stroke-width="1.35"/>
<circle cx="356.37" cy="698.61" r="3.65" fill="none" stroke="#6218E8" stroke-width="1.35"/>
<circle cx="357.97" cy="700.37" r="3.65" fill="none" stroke="#6218E8" stroke-width="1.35"/>
<circle cx="359.57" cy="702.46" r="3.65" fill="none" stroke="#6218E8" stroke-width="1.35"/>
<circle cx="361.17" cy="705.12" r="3.65" fill="none" stroke="#6218E8" stroke-width="1.35"/>
<circle cx="362.92" cy="708.37" r="3.65" fill="none" stroke="#6218E8" stroke-width="1.35"/>
<circle cx="364.91" cy="711.97" r="3.65" fill="none" stroke="#6218E8" stroke-width="1.35"/>
<circle cx="367.17" cy="715.35" r="3.65" fill="none" stroke="#6218E8" stroke-width="1.35"/>
<circle cx="369.72" cy="718.64" r="3.65" fill="none" stroke="#6218E8" stroke-width="1.35"/>
<circle cx="372.62" cy="722.06" r="3.65" fill="none" stroke="#6218E8" stroke-width="1.35"/>
<circle cx="375.9" cy="725.85" r="3.65" fill="none" stroke="#6218E8" stroke-width="1.35"/>
<circle cx="379.5" cy="730.17" r="3.65" fill="none" stroke="#6218E8" stroke-width="1.35"/>
<circle cx="383.1" cy="734.39" r="3.65" fill="none" stroke="#6218E8" stroke-width="1.35"/>
<circle cx="386.7" cy="738.64" r="3.65" fill="none" stroke="#6218E8" stroke-width="1.35"/>
<circle cx="390.3" cy="743.21" r="3.65" fill="none" stroke="#6218E8" stroke-width="1.35"/>
<circle cx="393.9" cy="748.37" r="3.65" fill="none" stroke="#6218E8" stroke-width="1.35"/>
<circle cx="397.5" cy="754.45" r="3.65" fill="none" stroke="#6218E8" stroke-width="1.35"/>
<rect x="264.1" y="751.16" width="6.8" height="6.8" fill="none" stroke="#DE2E18" stroke-width="1.35"/>
<rect x="281.56" y="719.21" width="6.8" height="6.8" fill="none" stroke="#DE2E18" stroke-width="1.35"/>
<rect x="289.68" y="706.27" width="6.8" height="6.8" fill="none" stroke="#DE2E18" stroke-width="1.35"/>
<rect x="295.03" y="698.82" width="6.8" height="6.8" fill="none" stroke="#DE2E18" stroke-width="1.35"/>
<rect x="299.03" y="693.9" width="6.8" height="6.8" fill="none" stroke="#DE2E18" stroke-width="1.35"/>
<rect x="302.21" y="690.24" width="6.8" height="6.8" fill="none" stroke="#DE2E18" stroke-width="1.35"/>
<rect x="304.87" y="687.42" width="6.8" height="6.8" fill="none" stroke="#DE2E18" stroke-width="1.35"/>
<rect x="307.14" y="685.22" width="6.8" height="6.8" fill="none" stroke="#DE2E18" stroke-width="1.35"/>
<rect x="309.13" y="683.49" width="6.8" height="6.8" fill="none" stroke="#DE2E18" stroke-width="1.35"/>
<rect x="310.9" y="682.03" width="6.8" height="6.8" fill="none" stroke="#DE2E18" stroke-width="1.35"/>
<rect x="312.5" y="680.77" width="6.8" height="6.8" fill="none" stroke="#DE2E18" stroke-width="1.35"/>
<rect x="314.1" y="679.64" width="6.8" height="6.8" fill="none" stroke="#DE2E18" stroke-width="1.35"/>
<rect x="315.7" y="678.73" width="6.8" height="6.8" fill="none" stroke="#DE2E18" stroke-width="1.35"/>
<rect x="317.3" y="678.1" width="6.8" height="6.8" fill="none" stroke="#DE2E18" stroke-width="1.35"/>
<rect x="318.9" y="677.54" width="6.8" height="6.8" fill="none" stroke="#DE2E18" stroke-width="1.35"/>
<rect x="320.5" y="677.1" width="6.8" height="6.8" fill="none" stroke="#DE2E18" stroke-width="1.35"/>
<rect x="322.1" y="676.87" width="6.8" height="6.8" fill="none" stroke="#DE2E18" stroke-width="1.35"/>
<rect x="323.7" y="676.91" width="6.8" height="6.8" fill="none" stroke="#DE2E18" stroke-width="1.35"/>
<rect x="325.3" y="677.16" width="6.8" height="6.8" fill="none" stroke="#DE2E18" stroke-width="1.35"/>
<rect x="326.9" y="677.8" width="6.8" height="6.8" fill="none" stroke="#DE2E18" stroke-width="1.35"/>
<rect x="328.5" y="678.27" width="6.8" height="6.8" fill="none" stroke="#DE2E18" stroke-width="1.35"/>
<rect x="330.1" y="678.76" width="6.8" height="6.8" fill="none" stroke="#DE2E18" stroke-width="1.35"/>
<rect x="331.7" y="679.37" width="6.8" height="6.8" fill="none" stroke="#DE2E18" stroke-width="1.35"/>
<rect x="333.3" y="680.11" width="6.8" height="6.8" fill="none" stroke="#DE2E18" stroke-width="1.35"/>
<rect x="334.9" y="680.97" width="6.8" height="6.8" fill="none" stroke="#DE2E18" stroke-width="1.35"/>
<rect x="336.5" y="681.91" width="6.8" height="6.8" fill="none" stroke="#DE2E18" stroke-width="1.35"/>
<rect x="338.1" y="682.9" width="6.8" height="6.8" fill="none" stroke="#DE2E18" stroke-width="1.35"/>
<rect x="339.7" y="683.91" width="6.8" height="6.8" fill="none" stroke="#DE2E18" stroke-width="1.35"/>
<rect x="341.3" y="684.92" width="6.8" height="6.8" fill="none" stroke="#DE2E18" stroke-width="1.35"/>
<rect x="342.9" y="685.91" width="6.8" height="6.8" fill="none" stroke="#DE2E18" stroke-width="1.35"/>
<rect x="344.5" y="686.93" width="6.8" height="6.8" fill="none" stroke="#DE2E18" stroke-width="1.35"/>
<rect x="346.1" y="688" width="6.8" height="6.8" fill="none" stroke="#DE2E18" stroke-width="1.35"/>
<rect x="347.7" y="689.12" width="6.8" height="6.8" fill="none" stroke="#DE2E18" stroke-width="1.35"/>
<rect x="349.3" y="690.3" width="6.8" height="6.8" fill="none" stroke="#DE2E18" stroke-width="1.35"/>
<rect x="350.9" y="691.54" width="6.8" height="6.8" fill="none" stroke="#DE2E18" stroke-width="1.35"/>
<rect x="352.5" y="692.87" width="6.8" height="6.8" fill="none" stroke="#DE2E18" stroke-width="1.35"/>
<rect x="354.1" y="694.38" width="6.8" height="6.8" fill="none" stroke="#DE2E18" stroke-width="1.35"/>
<rect x="355.7" y="696" width="6.8" height="6.8" fill="none" stroke="#DE2E18" stroke-width="1.35"/>
<rect x="357.3" y="697.66" width="6.8" height="6.8" fill="none" stroke="#DE2E18" stroke-width="1.35"/>
<rect x="359" y="699.39" width="6.8" height="6.8" fill="none" stroke="#DE2E18" stroke-width="1.35"/>
<rect x="360.92" y="701.2" width="6.8" height="6.8" fill="none" stroke="#DE2E18" stroke-width="1.35"/>
<rect x="363.09" y="703.05" width="6.8" height="6.8" fill="none" stroke="#DE2E18" stroke-width="1.35"/>
<rect x="365.56" y="705" width="6.8" height="6.8" fill="none" stroke="#DE2E18" stroke-width="1.35"/>
<rect x="368.35" y="707.14" width="6.8" height="6.8" fill="none" stroke="#DE2E18" stroke-width="1.35"/>
<rect x="371.52" y="709.65" width="6.8" height="6.8" fill="none" stroke="#DE2E18" stroke-width="1.35"/>
<rect x="375.11" y="712.87" width="6.8" height="6.8" fill="none" stroke="#DE2E18" stroke-width="1.35"/>
<rect x="378.71" y="716.52" width="6.8" height="6.8" fill="none" stroke="#DE2E18" stroke-width="1.35"/>
<rect x="382.31" y="720.48" width="6.8" height="6.8" fill="none" stroke="#DE2E18" stroke-width="1.35"/>
<rect x="385.91" y="724.67" width="6.8" height="6.8" fill="none" stroke="#DE2E18" stroke-width="1.35"/>
<rect x="389.51" y="728.99" width="6.8" height="6.8" fill="none" stroke="#DE2E18" stroke-width="1.35"/>
<rect x="393.11" y="733.43" width="6.8" height="6.8" fill="none" stroke="#DE2E18" stroke-width="1.35"/>
<rect x="396.71" y="738.05" width="6.8" height="6.8" fill="none" stroke="#DE2E18" stroke-width="1.35"/>
<rect x="400.31" y="742.85" width="6.8" height="6.8" fill="none" stroke="#DE2E18" stroke-width="1.35"/>
<rect x="403.91" y="747.82" width="6.8" height="6.8" fill="none" stroke="#DE2E18" stroke-width="1.35"/>
<rect x="261.6" y="754.84" width="6.8" height="6.8" fill="none" stroke="#E8B020" stroke-width="1.35"/>
<rect x="279.06" y="723.54" width="6.8" height="6.8" fill="none" stroke="#E8B020" stroke-width="1.35"/>
<rect x="287.18" y="710.1" width="6.8" height="6.8" fill="none" stroke="#E8B020" stroke-width="1.35"/>
<rect x="292.68" y="701.94" width="6.8" height="6.8" fill="none" stroke="#E8B020" stroke-width="1.35"/>
<rect x="296.19" y="697.36" width="6.8" height="6.8" fill="none" stroke="#E8B020" stroke-width="1.35"/>
<rect x="297.99" y="695.14" width="6.8" height="6.8" fill="none" stroke="#E8B020" stroke-width="1.35"/>
<rect x="299.59" y="693.23" width="6.8" height="6.8" fill="none" stroke="#E8B020" stroke-width="1.35"/>
<rect x="301.19" y="691.38" width="6.8" height="6.8" fill="none" stroke="#E8B020" stroke-width="1.35"/>
<rect x="302.79" y="689.61" width="6.8" height="6.8" fill="none" stroke="#E8B020" stroke-width="1.35"/>
<rect x="304.39" y="687.91" width="6.8" height="6.8" fill="none" stroke="#E8B020" stroke-width="1.35"/>
<rect x="305.99" y="686.31" width="6.8" height="6.8" fill="none" stroke="#E8B020" stroke-width="1.35"/>
<rect x="307.59" y="684.82" width="6.8" height="6.8" fill="none" stroke="#E8B020" stroke-width="1.35"/>
<rect x="309.19" y="683.44" width="6.8" height="6.8" fill="none" stroke="#E8B020" stroke-width="1.35"/>
<rect x="310.79" y="682.12" width="6.8" height="6.8" fill="none" stroke="#E8B020" stroke-width="1.35"/>
<rect x="312.39" y="680.85" width="6.8" height="6.8" fill="none" stroke="#E8B020" stroke-width="1.35"/>
<rect x="313.99" y="679.71" width="6.8" height="6.8" fill="none" stroke="#E8B020" stroke-width="1.35"/>
<rect x="315.59" y="678.78" width="6.8" height="6.8" fill="none" stroke="#E8B020" stroke-width="1.35"/>
<rect x="317.19" y="678.14" width="6.8" height="6.8" fill="none" stroke="#E8B020" stroke-width="1.35"/>
<rect x="318.79" y="677.58" width="6.8" height="6.8" fill="none" stroke="#E8B020" stroke-width="1.35"/>
<rect x="320.39" y="677.12" width="6.8" height="6.8" fill="none" stroke="#E8B020" stroke-width="1.35"/>
<rect x="321.99" y="676.87" width="6.8" height="6.8" fill="none" stroke="#E8B020" stroke-width="1.35"/>
<rect x="323.59" y="676.91" width="6.8" height="6.8" fill="none" stroke="#E8B020" stroke-width="1.35"/>
<rect x="325.19" y="677.23" width="6.8" height="6.8" fill="none" stroke="#E8B020" stroke-width="1.35"/>
<rect x="326.79" y="677.99" width="6.8" height="6.8" fill="none" stroke="#E8B020" stroke-width="1.35"/>
<rect x="328.39" y="678.61" width="6.8" height="6.8" fill="none" stroke="#E8B020" stroke-width="1.35"/>
<rect x="329.99" y="679.26" width="6.8" height="6.8" fill="none" stroke="#E8B020" stroke-width="1.35"/>
<rect x="331.59" y="680.12" width="6.8" height="6.8" fill="none" stroke="#E8B020" stroke-width="1.35"/>
<rect x="333.19" y="681.17" width="6.8" height="6.8" fill="none" stroke="#E8B020" stroke-width="1.35"/>
<rect x="334.79" y="682.33" width="6.8" height="6.8" fill="none" stroke="#E8B020" stroke-width="1.35"/>
<rect x="336.39" y="683.46" width="6.8" height="6.8" fill="none" stroke="#E8B020" stroke-width="1.35"/>
<rect x="337.99" y="684.53" width="6.8" height="6.8" fill="none" stroke="#E8B020" stroke-width="1.35"/>
<rect x="339.59" y="685.6" width="6.8" height="6.8" fill="none" stroke="#E8B020" stroke-width="1.35"/>
<rect x="341.19" y="686.68" width="6.8" height="6.8" fill="none" stroke="#E8B020" stroke-width="1.35"/>
<rect x="342.79" y="687.78" width="6.8" height="6.8" fill="none" stroke="#E8B020" stroke-width="1.35"/>
<rect x="344.39" y="688.93" width="6.8" height="6.8" fill="none" stroke="#E8B020" stroke-width="1.35"/>
<rect x="345.99" y="690.13" width="6.8" height="6.8" fill="none" stroke="#E8B020" stroke-width="1.35"/>
<rect x="347.59" y="691.37" width="6.8" height="6.8" fill="none" stroke="#E8B020" stroke-width="1.35"/>
<rect x="349.19" y="692.62" width="6.8" height="6.8" fill="none" stroke="#E8B020" stroke-width="1.35"/>
<rect x="350.79" y="693.93" width="6.8" height="6.8" fill="none" stroke="#E8B020" stroke-width="1.35"/>
<rect x="352.39" y="695.34" width="6.8" height="6.8" fill="none" stroke="#E8B020" stroke-width="1.35"/>
<rect x="353.99" y="696.9" width="6.8" height="6.8" fill="none" stroke="#E8B020" stroke-width="1.35"/>
<rect x="355.59" y="698.69" width="6.8" height="6.8" fill="none" stroke="#E8B020" stroke-width="1.35"/>
<rect x="357.19" y="700.94" width="6.8" height="6.8" fill="none" stroke="#E8B020" stroke-width="1.35"/>
<rect x="358.87" y="703.68" width="6.8" height="6.8" fill="none" stroke="#E8B020" stroke-width="1.35"/>
<rect x="360.77" y="706.92" width="6.8" height="6.8" fill="none" stroke="#E8B020" stroke-width="1.35"/>
<rect x="362.93" y="710.28" width="6.8" height="6.8" fill="none" stroke="#E8B020" stroke-width="1.35"/>
<rect x="365.37" y="713.64" width="6.8" height="6.8" fill="none" stroke="#E8B020" stroke-width="1.35"/>
<rect x="368.14" y="717.22" width="6.8" height="6.8" fill="none" stroke="#E8B020" stroke-width="1.35"/>
<rect x="371.28" y="721.19" width="6.8" height="6.8" fill="none" stroke="#E8B020" stroke-width="1.35"/>
<rect x="374.84" y="725.81" width="6.8" height="6.8" fill="none" stroke="#E8B020" stroke-width="1.35"/>
<rect x="378.44" y="730.49" width="6.8" height="6.8" fill="none" stroke="#E8B020" stroke-width="1.35"/>
<rect x="382.04" y="735.32" width="6.8" height="6.8" fill="none" stroke="#E8B020" stroke-width="1.35"/>
<rect x="385.64" y="740.74" width="6.8" height="6.8" fill="none" stroke="#E8B020" stroke-width="1.35"/>
<rect x="389.24" y="746.84" width="6.8" height="6.8" fill="none" stroke="#E8B020" stroke-width="1.35"/>
<rect x="258.6" y="758.84" width="6.8" height="6.8" fill="none" stroke="#6218E8" stroke-width="1.35"/>
<rect x="276.06" y="729.05" width="6.8" height="6.8" fill="none" stroke="#6218E8" stroke-width="1.35"/>
<rect x="284.18" y="714.9" width="6.8" height="6.8" fill="none" stroke="#6218E8" stroke-width="1.35"/>
<rect x="289.68" y="706.27" width="6.8" height="6.8" fill="none" stroke="#6218E8" stroke-width="1.35"/>
<rect x="294.65" y="699.3" width="6.8" height="6.8" fill="none" stroke="#6218E8" stroke-width="1.35"/>
<rect x="297.2" y="696.11" width="6.8" height="6.8" fill="none" stroke="#6218E8" stroke-width="1.35"/>
<rect x="298.8" y="694.17" width="6.8" height="6.8" fill="none" stroke="#6218E8" stroke-width="1.35"/>
<rect x="300.4" y="692.28" width="6.8" height="6.8" fill="none" stroke="#6218E8" stroke-width="1.35"/>
<rect x="302" y="690.47" width="6.8" height="6.8" fill="none" stroke="#6218E8" stroke-width="1.35"/>
<rect x="303.6" y="688.74" width="6.8" height="6.8" fill="none" stroke="#6218E8" stroke-width="1.35"/>
<rect x="305.2" y="687.09" width="6.8" height="6.8" fill="none" stroke="#6218E8" stroke-width="1.35"/>
<rect x="306.8" y="685.54" width="6.8" height="6.8" fill="none" stroke="#6218E8" stroke-width="1.35"/>
<rect x="308.4" y="684.1" width="6.8" height="6.8" fill="none" stroke="#6218E8" stroke-width="1.35"/>
<rect x="310" y="682.77" width="6.8" height="6.8" fill="none" stroke="#6218E8" stroke-width="1.35"/>
<rect x="311.6" y="681.47" width="6.8" height="6.8" fill="none" stroke="#6218E8" stroke-width="1.35"/>
<rect x="313.2" y="680.25" width="6.8" height="6.8" fill="none" stroke="#6218E8" stroke-width="1.35"/>
<rect x="314.8" y="679.21" width="6.8" height="6.8" fill="none" stroke="#6218E8" stroke-width="1.35"/>
<rect x="316.4" y="678.42" width="6.8" height="6.8" fill="none" stroke="#6218E8" stroke-width="1.35"/>
<rect x="318" y="677.85" width="6.8" height="6.8" fill="none" stroke="#6218E8" stroke-width="1.35"/>
<rect x="319.6" y="677.33" width="6.8" height="6.8" fill="none" stroke="#6218E8" stroke-width="1.35"/>
<rect x="321.2" y="676.97" width="6.8" height="6.8" fill="none" stroke="#6218E8" stroke-width="1.35"/>
<rect x="322.8" y="676.85" width="6.8" height="6.8" fill="none" stroke="#6218E8" stroke-width="1.35"/>
<rect x="324.4" y="677.04" width="6.8" height="6.8" fill="none" stroke="#6218E8" stroke-width="1.35"/>
<rect x="326" y="677.46" width="6.8" height="6.8" fill="none" stroke="#6218E8" stroke-width="1.35"/>
<rect x="327.6" y="678.29" width="6.8" height="6.8" fill="none" stroke="#6218E8" stroke-width="1.35"/>
<rect x="329.2" y="678.94" width="6.8" height="6.8" fill="none" stroke="#6218E8" stroke-width="1.35"/>
<rect x="330.8" y="679.71" width="6.8" height="6.8" fill="none" stroke="#6218E8" stroke-width="1.35"/>
<rect x="332.4" y="680.8" width="6.8" height="6.8" fill="none" stroke="#6218E8" stroke-width="1.35"/>
<rect x="334" y="682.07" width="6.8" height="6.8" fill="none" stroke="#6218E8" stroke-width="1.35"/>
<rect x="335.6" y="683.36" width="6.8" height="6.8" fill="none" stroke="#6218E8" stroke-width="1.35"/>
<rect x="337.2" y="684.52" width="6.8" height="6.8" fill="none" stroke="#6218E8" stroke-width="1.35"/>
<rect x="338.8" y="685.61" width="6.8" height="6.8" fill="none" stroke="#6218E8" stroke-width="1.35"/>
<rect x="340.4" y="686.68" width="6.8" height="6.8" fill="none" stroke="#6218E8" stroke-width="1.35"/>
<rect x="342" y="687.75" width="6.8" height="6.8" fill="none" stroke="#6218E8" stroke-width="1.35"/>
<rect x="343.6" y="688.85" width="6.8" height="6.8" fill="none" stroke="#6218E8" stroke-width="1.35"/>
<rect x="345.2" y="690.01" width="6.8" height="6.8" fill="none" stroke="#6218E8" stroke-width="1.35"/>
<rect x="346.8" y="691.26" width="6.8" height="6.8" fill="none" stroke="#6218E8" stroke-width="1.35"/>
<rect x="348.4" y="692.56" width="6.8" height="6.8" fill="none" stroke="#6218E8" stroke-width="1.35"/>
<rect x="350" y="693.91" width="6.8" height="6.8" fill="none" stroke="#6218E8" stroke-width="1.35"/>
<rect x="351.6" y="695.36" width="6.8" height="6.8" fill="none" stroke="#6218E8" stroke-width="1.35"/>
<rect x="353.2" y="696.96" width="6.8" height="6.8" fill="none" stroke="#6218E8" stroke-width="1.35"/>
<rect x="354.8" y="698.74" width="6.8" height="6.8" fill="none" stroke="#6218E8" stroke-width="1.35"/>
<rect x="356.4" y="700.92" width="6.8" height="6.8" fill="none" stroke="#6218E8" stroke-width="1.35"/>
<rect x="358" y="703.64" width="6.8" height="6.8" fill="none" stroke="#6218E8" stroke-width="1.35"/>
<rect x="359.79" y="706.97" width="6.8" height="6.8" fill="none" stroke="#6218E8" stroke-width="1.35"/>
<rect x="361.82" y="710.58" width="6.8" height="6.8" fill="none" stroke="#6218E8" stroke-width="1.35"/>
<rect x="364.11" y="713.91" width="6.8" height="6.8" fill="none" stroke="#6218E8" stroke-width="1.35"/>
<rect x="366.71" y="717.21" width="6.8" height="6.8" fill="none" stroke="#6218E8" stroke-width="1.35"/>
<rect x="369.66" y="720.67" width="6.8" height="6.8" fill="none" stroke="#6218E8" stroke-width="1.35"/>
<rect x="373" y="724.54" width="6.8" height="6.8" fill="none" stroke="#6218E8" stroke-width="1.35"/>
<rect x="376.6" y="728.87" width="6.8" height="6.8" fill="none" stroke="#6218E8" stroke-width="1.35"/>
<rect x="380.2" y="733.07" width="6.8" height="6.8" fill="none" stroke="#6218E8" stroke-width="1.35"/>
<rect x="383.8" y="737.35" width="6.8" height="6.8" fill="none" stroke="#6218E8" stroke-width="1.35"/>
<rect x="387.4" y="741.98" width="6.8" height="6.8" fill="none" stroke="#6218E8" stroke-width="1.35"/>
<rect x="391" y="747.26" width="6.8" height="6.8" fill="none" stroke="#6218E8" stroke-width="1.35"/>
<path d="M259.4 756.92H268.6L264 764.51Z" fill="none" stroke="#DE2E18" stroke-width="1.35" stroke-linejoin="miter"/>
<path d="M276.86 726.06H286.06L281.46 733.65Z" fill="none" stroke="#DE2E18" stroke-width="1.35" stroke-linejoin="miter"/>
<path d="M284.98 712.39H294.18L289.58 719.98Z" fill="none" stroke="#DE2E18" stroke-width="1.35" stroke-linejoin="miter"/>
<path d="M290.48 704.06H299.68L295.08 711.65Z" fill="none" stroke="#DE2E18" stroke-width="1.35" stroke-linejoin="miter"/>
<path d="M294.48 698.71H303.68L299.08 706.3Z" fill="none" stroke="#DE2E18" stroke-width="1.35" stroke-linejoin="miter"/>
<path d="M296.53 696.18H305.73L301.13 703.77Z" fill="none" stroke="#DE2E18" stroke-width="1.35" stroke-linejoin="miter"/>
<path d="M298.13 694.25H307.33L302.73 701.84Z" fill="none" stroke="#DE2E18" stroke-width="1.35" stroke-linejoin="miter"/>
<path d="M299.73 692.39H308.93L304.33 699.98Z" fill="none" stroke="#DE2E18" stroke-width="1.35" stroke-linejoin="miter"/>
<path d="M301.33 690.6H310.53L305.93 698.19Z" fill="none" stroke="#DE2E18" stroke-width="1.35" stroke-linejoin="miter"/>
<path d="M302.93 688.9H312.13L307.53 696.49Z" fill="none" stroke="#DE2E18" stroke-width="1.35" stroke-linejoin="miter"/>
<path d="M304.53 687.28H313.73L309.13 694.87Z" fill="none" stroke="#DE2E18" stroke-width="1.35" stroke-linejoin="miter"/>
<path d="M306.13 685.77H315.33L310.73 693.36Z" fill="none" stroke="#DE2E18" stroke-width="1.35" stroke-linejoin="miter"/>
<path d="M307.73 684.37H316.93L312.33 691.96Z" fill="none" stroke="#DE2E18" stroke-width="1.35" stroke-linejoin="miter"/>
<path d="M309.33 683.05H318.53L313.93 690.64Z" fill="none" stroke="#DE2E18" stroke-width="1.35" stroke-linejoin="miter"/>
<path d="M310.93 681.77H320.13L315.53 689.36Z" fill="none" stroke="#DE2E18" stroke-width="1.35" stroke-linejoin="miter"/>
<path d="M312.53 680.59H321.73L317.13 688.18Z" fill="none" stroke="#DE2E18" stroke-width="1.35" stroke-linejoin="miter"/>
<path d="M314.13 679.63H323.33L318.73 687.22Z" fill="none" stroke="#DE2E18" stroke-width="1.35" stroke-linejoin="miter"/>
<path d="M315.73 678.94H324.93L320.33 686.53Z" fill="none" stroke="#DE2E18" stroke-width="1.35" stroke-linejoin="miter"/>
<path d="M317.33 678.38H326.53L321.93 685.97Z" fill="none" stroke="#DE2E18" stroke-width="1.35" stroke-linejoin="miter"/>
<path d="M318.93 677.9H328.13L323.53 685.49Z" fill="none" stroke="#DE2E18" stroke-width="1.35" stroke-linejoin="miter"/>
<path d="M320.53 677.61H329.73L325.13 685.2Z" fill="none" stroke="#DE2E18" stroke-width="1.35" stroke-linejoin="miter"/>
<path d="M322.13 677.59H331.33L326.73 685.18Z" fill="none" stroke="#DE2E18" stroke-width="1.35" stroke-linejoin="miter"/>
<path d="M323.73 677.8H332.93L328.33 685.39Z" fill="none" stroke="#DE2E18" stroke-width="1.35" stroke-linejoin="miter"/>
<path d="M325.33 678.16H334.53L329.93 685.75Z" fill="none" stroke="#DE2E18" stroke-width="1.35" stroke-linejoin="miter"/>
<path d="M326.93 679.37H336.13L331.53 686.96Z" fill="none" stroke="#DE2E18" stroke-width="1.35" stroke-linejoin="miter"/>
<path d="M328.53 679.85H337.73L333.13 687.44Z" fill="none" stroke="#DE2E18" stroke-width="1.35" stroke-linejoin="miter"/>
<path d="M330.13 680.42H339.33L334.73 688.01Z" fill="none" stroke="#DE2E18" stroke-width="1.35" stroke-linejoin="miter"/>
<path d="M331.73 681.14H340.93L336.33 688.73Z" fill="none" stroke="#DE2E18" stroke-width="1.35" stroke-linejoin="miter"/>
<path d="M333.33 681.98H342.53L337.93 689.57Z" fill="none" stroke="#DE2E18" stroke-width="1.35" stroke-linejoin="miter"/>
<path d="M334.93 682.9H344.13L339.53 690.49Z" fill="none" stroke="#DE2E18" stroke-width="1.35" stroke-linejoin="miter"/>
<path d="M336.53 683.88H345.73L341.13 691.47Z" fill="none" stroke="#DE2E18" stroke-width="1.35" stroke-linejoin="miter"/>
<path d="M338.13 684.89H347.33L342.73 692.48Z" fill="none" stroke="#DE2E18" stroke-width="1.35" stroke-linejoin="miter"/>
<path d="M339.73 685.9H348.93L344.33 693.49Z" fill="none" stroke="#DE2E18" stroke-width="1.35" stroke-linejoin="miter"/>
<path d="M341.33 686.89H350.53L345.93 694.48Z" fill="none" stroke="#DE2E18" stroke-width="1.35" stroke-linejoin="miter"/>
<path d="M342.93 687.9H352.13L347.53 695.49Z" fill="none" stroke="#DE2E18" stroke-width="1.35" stroke-linejoin="miter"/>
<path d="M344.53 688.96H353.73L349.13 696.55Z" fill="none" stroke="#DE2E18" stroke-width="1.35" stroke-linejoin="miter"/>
<path d="M346.13 690.07H355.33L350.73 697.66Z" fill="none" stroke="#DE2E18" stroke-width="1.35" stroke-linejoin="miter"/>
<path d="M347.73 691.23H356.93L352.33 698.82Z" fill="none" stroke="#DE2E18" stroke-width="1.35" stroke-linejoin="miter"/>
<path d="M349.33 692.45H358.53L353.93 700.04Z" fill="none" stroke="#DE2E18" stroke-width="1.35" stroke-linejoin="miter"/>
<path d="M350.93 693.76H360.13L355.53 701.35Z" fill="none" stroke="#DE2E18" stroke-width="1.35" stroke-linejoin="miter"/>
<path d="M352.53 695.22H361.73L357.13 702.81Z" fill="none" stroke="#DE2E18" stroke-width="1.35" stroke-linejoin="miter"/>
<path d="M354.13 696.82H363.33L358.73 704.41Z" fill="none" stroke="#DE2E18" stroke-width="1.35" stroke-linejoin="miter"/>
<path d="M355.73 698.48H364.93L360.33 706.07Z" fill="none" stroke="#DE2E18" stroke-width="1.35" stroke-linejoin="miter"/>
<path d="M357.37 700.17H366.57L361.97 707.76Z" fill="none" stroke="#DE2E18" stroke-width="1.35" stroke-linejoin="miter"/>
<path d="M359.24 701.98H368.44L363.84 709.57Z" fill="none" stroke="#DE2E18" stroke-width="1.35" stroke-linejoin="miter"/>
<path d="M361.35 703.82H370.55L365.95 711.41Z" fill="none" stroke="#DE2E18" stroke-width="1.35" stroke-linejoin="miter"/>
<path d="M363.74 705.74H372.94L368.34 713.33Z" fill="none" stroke="#DE2E18" stroke-width="1.35" stroke-linejoin="miter"/>
<path d="M366.45 707.82H375.65L371.05 715.41Z" fill="none" stroke="#DE2E18" stroke-width="1.35" stroke-linejoin="miter"/>
<path d="M369.52 710.22H378.72L374.12 717.81Z" fill="none" stroke="#DE2E18" stroke-width="1.35" stroke-linejoin="miter"/>
<path d="M373.01 713.23H382.21L377.61 720.82Z" fill="none" stroke="#DE2E18" stroke-width="1.35" stroke-linejoin="miter"/>
<path d="M376.61 716.79H385.81L381.21 724.38Z" fill="none" stroke="#DE2E18" stroke-width="1.35" stroke-linejoin="miter"/>
<path d="M380.21 720.68H389.41L384.81 728.27Z" fill="none" stroke="#DE2E18" stroke-width="1.35" stroke-linejoin="miter"/>
<path d="M383.81 724.82H393.01L388.41 732.41Z" fill="none" stroke="#DE2E18" stroke-width="1.35" stroke-linejoin="miter"/>
<path d="M387.41 729.11H396.61L392.01 736.7Z" fill="none" stroke="#DE2E18" stroke-width="1.35" stroke-linejoin="miter"/>
<path d="M391.01 733.51H400.21L395.61 741.1Z" fill="none" stroke="#DE2E18" stroke-width="1.35" stroke-linejoin="miter"/>
<path d="M394.61 738.09H403.81L399.21 745.68Z" fill="none" stroke="#DE2E18" stroke-width="1.35" stroke-linejoin="miter"/>
<path d="M398.21 742.85H407.41L402.81 750.44Z" fill="none" stroke="#DE2E18" stroke-width="1.35" stroke-linejoin="miter"/>
<path d="M401.81 747.78H411.01L406.41 755.37Z" fill="none" stroke="#DE2E18" stroke-width="1.35" stroke-linejoin="miter"/>
<path d="M405.41 752.88H414.61L410.01 760.47Z" fill="none" stroke="#DE2E18" stroke-width="1.35" stroke-linejoin="miter"/>
<path d="M256.4 760.83H265.6L261 768.42Z" fill="none" stroke="#E8B020" stroke-width="1.35" stroke-linejoin="miter"/>
<path d="M273.86 731.64H283.06L278.46 739.23Z" fill="none" stroke="#E8B020" stroke-width="1.35" stroke-linejoin="miter"/>
<path d="M281.98 717.25H291.18L286.58 724.84Z" fill="none" stroke="#E8B020" stroke-width="1.35" stroke-linejoin="miter"/>
<path d="M287.48 708.49H296.68L292.08 716.08Z" fill="none" stroke="#E8B020" stroke-width="1.35" stroke-linejoin="miter"/>
<path d="M292.94 700.68H302.14L297.54 708.27Z" fill="none" stroke="#E8B020" stroke-width="1.35" stroke-linejoin="miter"/>
<path d="M295.74 697.14H304.94L300.34 704.73Z" fill="none" stroke="#E8B020" stroke-width="1.35" stroke-linejoin="miter"/>
<path d="M297.34 695.19H306.54L301.94 702.78Z" fill="none" stroke="#E8B020" stroke-width="1.35" stroke-linejoin="miter"/>
<path d="M298.94 693.3H308.14L303.54 700.89Z" fill="none" stroke="#E8B020" stroke-width="1.35" stroke-linejoin="miter"/>
<path d="M300.54 691.48H309.74L305.14 699.07Z" fill="none" stroke="#E8B020" stroke-width="1.35" stroke-linejoin="miter"/>
<path d="M302.14 689.73H311.34L306.74 697.32Z" fill="none" stroke="#E8B020" stroke-width="1.35" stroke-linejoin="miter"/>
<path d="M303.74 688.06H312.94L308.34 695.65Z" fill="none" stroke="#E8B020" stroke-width="1.35" stroke-linejoin="miter"/>
<path d="M305.34 686.5H314.54L309.94 694.09Z" fill="none" stroke="#E8B020" stroke-width="1.35" stroke-linejoin="miter"/>
<path d="M306.94 685.04H316.14L311.54 692.63Z" fill="none" stroke="#E8B020" stroke-width="1.35" stroke-linejoin="miter"/>
<path d="M308.54 683.7H317.74L313.14 691.29Z" fill="none" stroke="#E8B020" stroke-width="1.35" stroke-linejoin="miter"/>
<path d="M310.14 682.39H319.34L314.74 689.98Z" fill="none" stroke="#E8B020" stroke-width="1.35" stroke-linejoin="miter"/>
<path d="M311.74 681.15H320.94L316.34 688.74Z" fill="none" stroke="#E8B020" stroke-width="1.35" stroke-linejoin="miter"/>
<path d="M313.34 680.07H322.54L317.94 687.66Z" fill="none" stroke="#E8B020" stroke-width="1.35" stroke-linejoin="miter"/>
<path d="M314.94 679.24H324.14L319.54 686.83Z" fill="none" stroke="#E8B020" stroke-width="1.35" stroke-linejoin="miter"/>
<path d="M316.54 678.65H325.74L321.14 686.24Z" fill="none" stroke="#E8B020" stroke-width="1.35" stroke-linejoin="miter"/>
<path d="M318.14 678.12H327.34L322.74 685.71Z" fill="none" stroke="#E8B020" stroke-width="1.35" stroke-linejoin="miter"/>
<path d="M319.74 677.72H328.94L324.34 685.31Z" fill="none" stroke="#E8B020" stroke-width="1.35" stroke-linejoin="miter"/>
<path d="M321.34 677.56H330.54L325.94 685.15Z" fill="none" stroke="#E8B020" stroke-width="1.35" stroke-linejoin="miter"/>
<path d="M322.94 677.71H332.14L327.54 685.3Z" fill="none" stroke="#E8B020" stroke-width="1.35" stroke-linejoin="miter"/>
<path d="M324.54 678.1H333.74L329.14 685.69Z" fill="none" stroke="#E8B020" stroke-width="1.35" stroke-linejoin="miter"/>
<path d="M326.14 679.41H335.34L330.74 687Z" fill="none" stroke="#E8B020" stroke-width="1.35" stroke-linejoin="miter"/>
<path d="M327.74 680.05H336.94L332.34 687.64Z" fill="none" stroke="#E8B020" stroke-width="1.35" stroke-linejoin="miter"/>
<path d="M329.34 680.74H338.54L333.94 688.33Z" fill="none" stroke="#E8B020" stroke-width="1.35" stroke-linejoin="miter"/>
<path d="M330.94 681.68H340.14L335.54 689.27Z" fill="none" stroke="#E8B020" stroke-width="1.35" stroke-linejoin="miter"/>
<path d="M332.54 682.78H341.74L337.14 690.37Z" fill="none" stroke="#E8B020" stroke-width="1.35" stroke-linejoin="miter"/>
<path d="M334.14 683.93H343.34L338.74 691.52Z" fill="none" stroke="#E8B020" stroke-width="1.35" stroke-linejoin="miter"/>
<path d="M335.74 685.04H344.94L340.34 692.63Z" fill="none" stroke="#E8B020" stroke-width="1.35" stroke-linejoin="miter"/>
<path d="M337.34 686.11H346.54L341.94 693.7Z" fill="none" stroke="#E8B020" stroke-width="1.35" stroke-linejoin="miter"/>
<path d="M338.94 687.18H348.14L343.54 694.77Z" fill="none" stroke="#E8B020" stroke-width="1.35" stroke-linejoin="miter"/>
<path d="M340.54 688.27H349.74L345.14 695.86Z" fill="none" stroke="#E8B020" stroke-width="1.35" stroke-linejoin="miter"/>
<path d="M342.14 689.38H351.34L346.74 696.97Z" fill="none" stroke="#E8B020" stroke-width="1.35" stroke-linejoin="miter"/>
<path d="M343.74 690.55H352.94L348.34 698.14Z" fill="none" stroke="#E8B020" stroke-width="1.35" stroke-linejoin="miter"/>
<path d="M345.34 691.77H354.54L349.94 699.36Z" fill="none" stroke="#E8B020" stroke-width="1.35" stroke-linejoin="miter"/>
<path d="M346.94 693.01H356.14L351.54 700.6Z" fill="none" stroke="#E8B020" stroke-width="1.35" stroke-linejoin="miter"/>
<path d="M348.54 694.28H357.74L353.14 701.87Z" fill="none" stroke="#E8B020" stroke-width="1.35" stroke-linejoin="miter"/>
<path d="M350.14 695.61H359.34L354.74 703.2Z" fill="none" stroke="#E8B020" stroke-width="1.35" stroke-linejoin="miter"/>
<path d="M351.74 697.07H360.94L356.34 704.66Z" fill="none" stroke="#E8B020" stroke-width="1.35" stroke-linejoin="miter"/>
<path d="M353.34 698.69H362.54L357.94 706.28Z" fill="none" stroke="#E8B020" stroke-width="1.35" stroke-linejoin="miter"/>
<path d="M354.94 700.62H364.14L359.54 708.21Z" fill="none" stroke="#E8B020" stroke-width="1.35" stroke-linejoin="miter"/>
<path d="M356.54 703.02H365.74L361.14 710.61Z" fill="none" stroke="#E8B020" stroke-width="1.35" stroke-linejoin="miter"/>
<path d="M358.29 705.95H367.49L362.89 713.54Z" fill="none" stroke="#E8B020" stroke-width="1.35" stroke-linejoin="miter"/>
<path d="M360.28 709.29H369.48L364.88 716.88Z" fill="none" stroke="#E8B020" stroke-width="1.35" stroke-linejoin="miter"/>
<path d="M362.53 712.62H371.73L367.13 720.21Z" fill="none" stroke="#E8B020" stroke-width="1.35" stroke-linejoin="miter"/>
<path d="M365.08 716.04H374.28L369.68 723.63Z" fill="none" stroke="#E8B020" stroke-width="1.35" stroke-linejoin="miter"/>
<path d="M367.97 719.73H377.17L372.57 727.32Z" fill="none" stroke="#E8B020" stroke-width="1.35" stroke-linejoin="miter"/>
<path d="M371.25 723.89H380.45L375.85 731.48Z" fill="none" stroke="#E8B020" stroke-width="1.35" stroke-linejoin="miter"/>
<path d="M374.85 728.6H384.05L379.45 736.19Z" fill="none" stroke="#E8B020" stroke-width="1.35" stroke-linejoin="miter"/>
<path d="M378.45 733.28H387.65L383.05 740.87Z" fill="none" stroke="#E8B020" stroke-width="1.35" stroke-linejoin="miter"/>
<path d="M382.05 738.27H391.25L386.65 745.86Z" fill="none" stroke="#E8B020" stroke-width="1.35" stroke-linejoin="miter"/>
<path d="M385.65 743.93H394.85L390.25 751.52Z" fill="none" stroke="#E8B020" stroke-width="1.35" stroke-linejoin="miter"/>
<path d="M389.25 750.23H398.45L393.85 757.82Z" fill="none" stroke="#E8B020" stroke-width="1.35" stroke-linejoin="miter"/>
<path d="M392.85 757.11H402.05L397.45 764.7Z" fill="none" stroke="#E8B020" stroke-width="1.35" stroke-linejoin="miter"/>
<path d="M254.4 763.32H263.6L259 770.91Z" fill="none" stroke="#6218E8" stroke-width="1.35" stroke-linejoin="miter"/>
<path d="M271.86 735.4H281.06L276.46 742.99Z" fill="none" stroke="#6218E8" stroke-width="1.35" stroke-linejoin="miter"/>
<path d="M279.98 720.56H289.18L284.58 728.15Z" fill="none" stroke="#6218E8" stroke-width="1.35" stroke-linejoin="miter"/>
<path d="M285.48 711.6H294.68L290.08 719.19Z" fill="none" stroke="#6218E8" stroke-width="1.35" stroke-linejoin="miter"/>
<path d="M290.98 703.35H300.18L295.58 710.94Z" fill="none" stroke="#6218E8" stroke-width="1.35" stroke-linejoin="miter"/>
<path d="M294.74 698.39H303.94L299.34 705.98Z" fill="none" stroke="#6218E8" stroke-width="1.35" stroke-linejoin="miter"/>
<path d="M296.66 696.02H305.86L301.26 703.61Z" fill="none" stroke="#6218E8" stroke-width="1.35" stroke-linejoin="miter"/>
<path d="M298.26 694.1H307.46L302.86 701.69Z" fill="none" stroke="#6218E8" stroke-width="1.35" stroke-linejoin="miter"/>
<path d="M299.86 692.24H309.06L304.46 699.83Z" fill="none" stroke="#6218E8" stroke-width="1.35" stroke-linejoin="miter"/>
<path d="M301.46 690.46H310.66L306.06 698.05Z" fill="none" stroke="#6218E8" stroke-width="1.35" stroke-linejoin="miter"/>
<path d="M303.06 688.76H312.26L307.66 696.35Z" fill="none" stroke="#6218E8" stroke-width="1.35" stroke-linejoin="miter"/>
<path d="M304.66 687.15H313.86L309.26 694.74Z" fill="none" stroke="#6218E8" stroke-width="1.35" stroke-linejoin="miter"/>
<path d="M306.26 685.65H315.46L310.86 693.24Z" fill="none" stroke="#6218E8" stroke-width="1.35" stroke-linejoin="miter"/>
<path d="M307.86 684.26H317.06L312.46 691.85Z" fill="none" stroke="#6218E8" stroke-width="1.35" stroke-linejoin="miter"/>
<path d="M309.46 682.94H318.66L314.06 690.53Z" fill="none" stroke="#6218E8" stroke-width="1.35" stroke-linejoin="miter"/>
<path d="M311.06 681.66H320.26L315.66 689.25Z" fill="none" stroke="#6218E8" stroke-width="1.35" stroke-linejoin="miter"/>
<path d="M312.66 680.51H321.86L317.26 688.1Z" fill="none" stroke="#6218E8" stroke-width="1.35" stroke-linejoin="miter"/>
<path d="M314.26 679.56H323.46L318.86 687.15Z" fill="none" stroke="#6218E8" stroke-width="1.35" stroke-linejoin="miter"/>
<path d="M315.86 678.9H325.06L320.46 686.49Z" fill="none" stroke="#6218E8" stroke-width="1.35" stroke-linejoin="miter"/>
<path d="M317.46 678.33H326.66L322.06 685.92Z" fill="none" stroke="#6218E8" stroke-width="1.35" stroke-linejoin="miter"/>
<path d="M319.06 677.87H328.26L323.66 685.46Z" fill="none" stroke="#6218E8" stroke-width="1.35" stroke-linejoin="miter"/>
<path d="M320.66 677.6H329.86L325.26 685.19Z" fill="none" stroke="#6218E8" stroke-width="1.35" stroke-linejoin="miter"/>
<path d="M322.26 677.61H331.46L326.86 685.2Z" fill="none" stroke="#6218E8" stroke-width="1.35" stroke-linejoin="miter"/>
<path d="M323.86 677.9H333.06L328.46 685.49Z" fill="none" stroke="#6218E8" stroke-width="1.35" stroke-linejoin="miter"/>
<path d="M325.46 679.15H334.66L330.06 686.74Z" fill="none" stroke="#6218E8" stroke-width="1.35" stroke-linejoin="miter"/>
<path d="M327.06 679.76H336.26L331.66 687.35Z" fill="none" stroke="#6218E8" stroke-width="1.35" stroke-linejoin="miter"/>
<path d="M328.66 680.42H337.86L333.26 688.01Z" fill="none" stroke="#6218E8" stroke-width="1.35" stroke-linejoin="miter"/>
<path d="M330.26 681.34H339.46L334.86 688.93Z" fill="none" stroke="#6218E8" stroke-width="1.35" stroke-linejoin="miter"/>
<path d="M331.86 682.52H341.06L336.46 690.11Z" fill="none" stroke="#6218E8" stroke-width="1.35" stroke-linejoin="miter"/>
<path d="M333.46 683.81H342.66L338.06 691.4Z" fill="none" stroke="#6218E8" stroke-width="1.35" stroke-linejoin="miter"/>
<path d="M335.06 685.07H344.26L339.66 692.66Z" fill="none" stroke="#6218E8" stroke-width="1.35" stroke-linejoin="miter"/>
<path d="M336.66 686.19H345.86L341.26 693.78Z" fill="none" stroke="#6218E8" stroke-width="1.35" stroke-linejoin="miter"/>
<path d="M338.26 687.26H347.46L342.86 694.85Z" fill="none" stroke="#6218E8" stroke-width="1.35" stroke-linejoin="miter"/>
<path d="M339.86 688.33H349.06L344.46 695.92Z" fill="none" stroke="#6218E8" stroke-width="1.35" stroke-linejoin="miter"/>
<path d="M341.46 689.41H350.66L346.06 697Z" fill="none" stroke="#6218E8" stroke-width="1.35" stroke-linejoin="miter"/>
<path d="M343.06 690.53H352.26L347.66 698.12Z" fill="none" stroke="#6218E8" stroke-width="1.35" stroke-linejoin="miter"/>
<path d="M344.66 691.73H353.86L349.26 699.32Z" fill="none" stroke="#6218E8" stroke-width="1.35" stroke-linejoin="miter"/>
<path d="M346.26 693.01H355.46L350.86 700.6Z" fill="none" stroke="#6218E8" stroke-width="1.35" stroke-linejoin="miter"/>
<path d="M347.86 694.32H357.06L352.46 701.91Z" fill="none" stroke="#6218E8" stroke-width="1.35" stroke-linejoin="miter"/>
<path d="M349.46 695.71H358.66L354.06 703.3Z" fill="none" stroke="#6218E8" stroke-width="1.35" stroke-linejoin="miter"/>
<path d="M351.06 697.21H360.26L355.66 704.8Z" fill="none" stroke="#6218E8" stroke-width="1.35" stroke-linejoin="miter"/>
<path d="M352.66 698.88H361.86L357.26 706.47Z" fill="none" stroke="#6218E8" stroke-width="1.35" stroke-linejoin="miter"/>
<path d="M354.26 700.77H363.46L358.86 708.36Z" fill="none" stroke="#6218E8" stroke-width="1.35" stroke-linejoin="miter"/>
<path d="M355.86 703.2H365.06L360.46 710.79Z" fill="none" stroke="#6218E8" stroke-width="1.35" stroke-linejoin="miter"/>
<path d="M357.52 706.18H366.72L362.12 713.77Z" fill="none" stroke="#6218E8" stroke-width="1.35" stroke-linejoin="miter"/>
<path d="M359.4 709.68H368.6L364 717.27Z" fill="none" stroke="#6218E8" stroke-width="1.35" stroke-linejoin="miter"/>
<path d="M361.54 713.22H370.74L366.14 720.81Z" fill="none" stroke="#6218E8" stroke-width="1.35" stroke-linejoin="miter"/>
<path d="M363.96 716.49H373.16L368.56 724.08Z" fill="none" stroke="#6218E8" stroke-width="1.35" stroke-linejoin="miter"/>
<path d="M366.7 719.84H375.9L371.3 727.43Z" fill="none" stroke="#6218E8" stroke-width="1.35" stroke-linejoin="miter"/>
<path d="M369.8 723.42H379L374.4 731.01Z" fill="none" stroke="#6218E8" stroke-width="1.35" stroke-linejoin="miter"/>
<path d="M373.32 727.59H382.52L377.92 735.18Z" fill="none" stroke="#6218E8" stroke-width="1.35" stroke-linejoin="miter"/>
<path d="M376.92 731.86H386.12L381.52 739.45Z" fill="none" stroke="#6218E8" stroke-width="1.35" stroke-linejoin="miter"/>
<path d="M380.52 736.07H389.72L385.12 743.66Z" fill="none" stroke="#6218E8" stroke-width="1.35" stroke-linejoin="miter"/>
<path d="M384.12 740.46H393.32L388.72 748.05Z" fill="none" stroke="#6218E8" stroke-width="1.35" stroke-linejoin="miter"/>
<path d="M387.72 745.32H396.92L392.32 752.91Z" fill="none" stroke="#6218E8" stroke-width="1.35" stroke-linejoin="miter"/>
<path d="M391.32 750.99H400.52L395.92 758.58Z" fill="none" stroke="#6218E8" stroke-width="1.35" stroke-linejoin="miter"/>
<path d="M394.92 757.5H404.12L399.52 765.09Z" fill="none" stroke="#6218E8" stroke-width="1.35" stroke-linejoin="miter"/></g>
<rect x="241" y="661.5" width="176.7" height="128.5" fill="none" stroke="#262626" stroke-width="1.2"/>
<line x1="252.4" y1="790" x2="252.4" y2="786.5" stroke="#262626" stroke-width="0.9" />
<line x1="252.4" y1="661.5" x2="252.4" y2="665" stroke="#262626" stroke-width="0.9" />
<line x1="289" y1="790" x2="289" y2="786.5" stroke="#262626" stroke-width="0.9" />
<line x1="289" y1="661.5" x2="289" y2="665" stroke="#262626" stroke-width="0.9" />
<line x1="325.6" y1="790" x2="325.6" y2="786.5" stroke="#262626" stroke-width="0.9" />
<line x1="325.6" y1="661.5" x2="325.6" y2="665" stroke="#262626" stroke-width="0.9" />
<line x1="362.2" y1="790" x2="362.2" y2="786.5" stroke="#262626" stroke-width="0.9" />
<line x1="362.2" y1="661.5" x2="362.2" y2="665" stroke="#262626" stroke-width="0.9" />
<line x1="398.8" y1="790" x2="398.8" y2="786.5" stroke="#262626" stroke-width="0.9" />
<line x1="398.8" y1="661.5" x2="398.8" y2="665" stroke="#262626" stroke-width="0.9" />
<line x1="241" y1="773.22" x2="243" y2="773.22" stroke="#262626" stroke-width="0.9" />
<line x1="417.7" y1="773.22" x2="415.7" y2="773.22" stroke="#262626" stroke-width="0.9" />
<line x1="241" y1="763.4" x2="243" y2="763.4" stroke="#262626" stroke-width="0.9" />
<line x1="417.7" y1="763.4" x2="415.7" y2="763.4" stroke="#262626" stroke-width="0.9" />
<line x1="241" y1="756.44" x2="243" y2="756.44" stroke="#262626" stroke-width="0.9" />
<line x1="417.7" y1="756.44" x2="415.7" y2="756.44" stroke="#262626" stroke-width="0.9" />
<line x1="241" y1="751.03" x2="243" y2="751.03" stroke="#262626" stroke-width="0.9" />
<line x1="417.7" y1="751.03" x2="415.7" y2="751.03" stroke="#262626" stroke-width="0.9" />
<line x1="241" y1="746.62" x2="243" y2="746.62" stroke="#262626" stroke-width="0.9" />
<line x1="417.7" y1="746.62" x2="415.7" y2="746.62" stroke="#262626" stroke-width="0.9" />
<line x1="241" y1="742.89" x2="243" y2="742.89" stroke="#262626" stroke-width="0.9" />
<line x1="417.7" y1="742.89" x2="415.7" y2="742.89" stroke="#262626" stroke-width="0.9" />
<line x1="241" y1="739.65" x2="243" y2="739.65" stroke="#262626" stroke-width="0.9" />
<line x1="417.7" y1="739.65" x2="415.7" y2="739.65" stroke="#262626" stroke-width="0.9" />
<line x1="241" y1="736.8" x2="243" y2="736.8" stroke="#262626" stroke-width="0.9" />
<line x1="417.7" y1="736.8" x2="415.7" y2="736.8" stroke="#262626" stroke-width="0.9" />
<line x1="241" y1="734.25" x2="244.5" y2="734.25" stroke="#262626" stroke-width="0.9" />
<line x1="417.7" y1="734.25" x2="414.2" y2="734.25" stroke="#262626" stroke-width="0.9" />
<line x1="241" y1="717.47" x2="243" y2="717.47" stroke="#262626" stroke-width="0.9" />
<line x1="417.7" y1="717.47" x2="415.7" y2="717.47" stroke="#262626" stroke-width="0.9" />
<line x1="241" y1="707.65" x2="243" y2="707.65" stroke="#262626" stroke-width="0.9" />
<line x1="417.7" y1="707.65" x2="415.7" y2="707.65" stroke="#262626" stroke-width="0.9" />
<line x1="241" y1="700.69" x2="243" y2="700.69" stroke="#262626" stroke-width="0.9" />
<line x1="417.7" y1="700.69" x2="415.7" y2="700.69" stroke="#262626" stroke-width="0.9" />
<line x1="241" y1="695.28" x2="243" y2="695.28" stroke="#262626" stroke-width="0.9" />
<line x1="417.7" y1="695.28" x2="415.7" y2="695.28" stroke="#262626" stroke-width="0.9" />
<line x1="241" y1="690.87" x2="243" y2="690.87" stroke="#262626" stroke-width="0.9" />
<line x1="417.7" y1="690.87" x2="415.7" y2="690.87" stroke="#262626" stroke-width="0.9" />
<line x1="241" y1="687.14" x2="243" y2="687.14" stroke="#262626" stroke-width="0.9" />
<line x1="417.7" y1="687.14" x2="415.7" y2="687.14" stroke="#262626" stroke-width="0.9" />
<line x1="241" y1="683.9" x2="243" y2="683.9" stroke="#262626" stroke-width="0.9" />
<line x1="417.7" y1="683.9" x2="415.7" y2="683.9" stroke="#262626" stroke-width="0.9" />
<line x1="241" y1="681.05" x2="243" y2="681.05" stroke="#262626" stroke-width="0.9" />
<line x1="417.7" y1="681.05" x2="415.7" y2="681.05" stroke="#262626" stroke-width="0.9" />
<line x1="241" y1="678.5" x2="244.5" y2="678.5" stroke="#262626" stroke-width="0.9" />
<line x1="417.7" y1="678.5" x2="414.2" y2="678.5" stroke="#262626" stroke-width="0.9" />
<text x="316.2" y="813.6" font-size="14.5">10<tspan font-size="10.5" dy="-7">0</tspan></text>
<text x="215.2" y="686" font-size="14.5">10<tspan font-size="10.5" dy="-7">0</tspan></text>
<text x="209.8" y="797.8" font-size="14.5">10<tspan font-size="10.5" dy="-7">-2</tspan></text>
<text x="329.7" y="830.4" font-size="16.5" text-anchor="middle"><tspan font-style="italic">z</tspan>/<tspan font-style="italic">λ</tspan><tspan font-style="italic" font-size="9.5" dy="2.5">θ</tspan></text>
<text transform="translate(203.2,756.3) rotate(-90)" font-size="16" textLength="59" lengthAdjust="spacing"><tspan font-style="italic">σ</tspan><tspan font-size="10" dy="2.5">T</tspan><tspan dy="-2.5"> / </tspan><tspan font-style="italic">σ</tspan><tspan font-size="10" dy="2.5">T</tspan><tspan font-size="8.5" dy="0.5">max</tspan></text>
</svg>
</body></html>
